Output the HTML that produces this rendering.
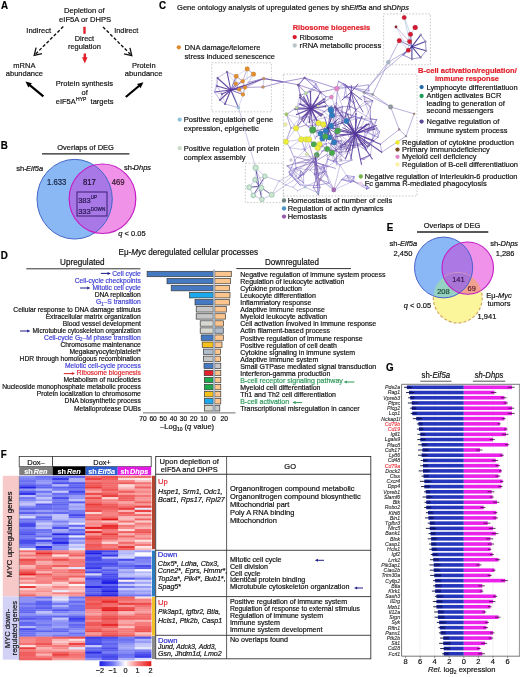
<!DOCTYPE html>
<html><head><meta charset="utf-8"><title>Figure</title>
<style>
html,body{margin:0;padding:0;background:#fff;}
body{width:520px;height:677px;overflow:hidden;}
svg{display:block;font-family:"Liberation Sans", Arial, Helvetica, sans-serif;}
text{stroke-width:0.18px;}
</style></head>
<body>
<svg width="520" height="677" viewBox="0 0 520 677">
<rect width="520" height="677" fill="#fff"/>
<g fill="#111010">
<text x="1.00" y="9.00" font-size="9.8" fill="#000" font-weight="bold" stroke="#000" transform="matrix(1,0,0,1.06,0,-0.540)">A</text>
<text x="84.30" y="13.20" font-size="7.5" text-anchor="middle" textLength="40.60" lengthAdjust="spacingAndGlyphs" stroke="#111010" transform="matrix(1,0,0,1.06,0,-0.792)">Depletion of</text>
<text x="85.10" y="21.60" font-size="7.5" text-anchor="middle" textLength="52.00" lengthAdjust="spacingAndGlyphs" stroke="#111010" transform="matrix(1,0,0,1.06,0,-1.296)">eIF5A or DHPS</text>
<text x="26.30" y="33.30" font-size="7.5" textLength="24.70" lengthAdjust="spacingAndGlyphs" stroke="#111010" transform="matrix(1,0,0,1.06,0,-1.998)">Indirect</text>
<text x="114.20" y="33.30" font-size="7.5" textLength="24.10" lengthAdjust="spacingAndGlyphs" stroke="#111010" transform="matrix(1,0,0,1.06,0,-1.998)">Indirect</text>
<rect x="83.30" y="26.80" width="2.40" height="7.00" fill="#e3212b" />
<text x="84.40" y="41.40" font-size="7.5" text-anchor="middle" textLength="19.20" lengthAdjust="spacingAndGlyphs" stroke="#111010" transform="matrix(1,0,0,1.06,0,-2.484)">Direct</text>
<text x="84.40" y="49.40" font-size="7.5" text-anchor="middle" stroke="#111010" transform="matrix(1,0,0,1.06,0,-2.964)">regulation</text>
<polygon points="83.6,53.6 86.0,53.6 86.0,57.2 87.6,57.2 84.8,63.6 82.0,57.2 83.6,57.2" fill="#e3212b"/>
<text x="24.40" y="67.80" font-size="7.5" text-anchor="middle" stroke="#111010" transform="matrix(1,0,0,1.06,0,-4.068)">mRNA</text>
<text x="24.40" y="75.60" font-size="7.5" text-anchor="middle" textLength="37.20" lengthAdjust="spacingAndGlyphs" stroke="#111010" transform="matrix(1,0,0,1.06,0,-4.536)">abundance</text>
<text x="143.80" y="68.30" font-size="7.5" text-anchor="middle" stroke="#111010" transform="matrix(1,0,0,1.06,0,-4.098)">Protein</text>
<text x="143.60" y="75.80" font-size="7.5" text-anchor="middle" textLength="37.50" lengthAdjust="spacingAndGlyphs" stroke="#111010" transform="matrix(1,0,0,1.06,0,-4.548)">abundance</text>
<text x="84.40" y="86.40" font-size="7.5" text-anchor="middle" textLength="57.20" lengthAdjust="spacingAndGlyphs" stroke="#111010" transform="matrix(1,0,0,1.06,0,-5.184)">Protein synthesis</text>
<text x="84.60" y="95.10" font-size="7.5" text-anchor="middle" stroke="#111010" transform="matrix(1,0,0,1.06,0,-5.706)">of</text>
<text x="55.8" y="104.3" font-size="7.5" stroke="#111010" transform="matrix(1,0,0,1.06,0,-6.258)">eIF5A<tspan font-size="5.0" dy="-3" dx="0.3">HYP</tspan><tspan dy="3" dx="2.2"> targets</tspan></text>
<line x1="63.30" y1="26.60" x2="35.36" y2="54.25" stroke="#111" stroke-width="1.4" stroke-dasharray="3.2,1.9"/>
<polyline points="36.08,47.63 34.20,55.40 41.99,53.60" fill="none" stroke="#111" stroke-width="1.3"/>
<line x1="103.00" y1="27.00" x2="130.65" y2="54.46" stroke="#111" stroke-width="1.4" stroke-dasharray="3.2,1.9"/>
<polyline points="124.02,53.79 131.80,55.60 129.93,47.83" fill="none" stroke="#111" stroke-width="1.3"/>
<line x1="43.40" y1="96.30" x2="29.75" y2="85.09" stroke="#000" stroke-width="2.2" />
<polygon points="25.50,81.60 31.91,83.24 28.36,87.57" fill="#000"/>
<line x1="125.80" y1="97.00" x2="139.19" y2="85.74" stroke="#000" stroke-width="2.2" />
<polygon points="143.40,82.20 140.61,88.20 137.01,83.92" fill="#000"/>
<text x="0.80" y="149.50" font-size="9.8" fill="#000" font-weight="bold" stroke="#000" transform="matrix(1,0,0,1.06,0,-8.970)">B</text>
<text x="85.60" y="150.40" font-size="7.5" text-anchor="middle" textLength="56.70" lengthAdjust="spacingAndGlyphs" stroke="#111010" transform="matrix(1,0,0,1.06,0,-9.024)">Overlaps of DEG</text>
<line x1="42.00" y1="153.80" x2="129.40" y2="153.80" stroke="#222" stroke-width="1.3" />
<defs><clipPath id="cbB"><ellipse cx="74.65" cy="199.20" rx="37.65" ry="39.85" fill="none" /></clipPath></defs>
<ellipse cx="74.65" cy="199.20" rx="37.65" ry="39.85" fill="#89b8f5" />
<ellipse cx="102.50" cy="198.75" rx="33.30" ry="34.75" fill="#f092e8" />
<ellipse cx="102.50" cy="198.75" rx="33.30" ry="34.75" fill="#a878e6" clip-path="url(#cbB)"/>
<ellipse cx="74.65" cy="199.20" rx="37.65" ry="39.85" fill="none" stroke="#4466c8" stroke-width="1.0" />
<ellipse cx="102.50" cy="198.75" rx="33.30" ry="34.75" fill="none" stroke="#c41ec4" stroke-width="1.2" />
<text x="16.30" y="170.80" font-size="7.5" stroke="#111010" transform="matrix(1,0,0,1.06,0,-10.248)">sh-</text>
<text x="26.00" y="170.80" font-size="7.5" font-style="italic" stroke="#111010" transform="matrix(1,0,0,1.06,0,-10.248)">Eif5a</text>
<text x="56.70" y="185.20" font-size="7.7" text-anchor="middle" fill="#15203e" stroke="#15203e" transform="matrix(1,0,0,1.06,0,-11.112)">1.633</text>
<text x="89.40" y="185.20" font-size="7.7" text-anchor="middle" fill="#1c0f30" stroke="#1c0f30" transform="matrix(1,0,0,1.06,0,-11.112)">817</text>
<text x="118.20" y="185.20" font-size="7.7" text-anchor="middle" fill="#2e1228" stroke="#2e1228" transform="matrix(1,0,0,1.06,0,-11.112)">469</text>
<text x="124.00" y="169.80" font-size="7.5" stroke="#111010" transform="matrix(1,0,0,1.06,0,-10.188)">sh-</text>
<text x="133.60" y="169.80" font-size="7.5" font-style="italic" stroke="#111010" transform="matrix(1,0,0,1.06,0,-10.188)">Dhps</text>
<rect x="77.00" y="192.00" width="30.00" height="24.00" fill="none" stroke="#43277a" stroke-width="1.1" />
<text x="78.2" y="202.6" font-size="7.5" fill="#24144e" stroke="#24144e" transform="matrix(1,0,0,1.06,0,-12.156)">383<tspan font-size="4.6" dy="-3">UP</tspan></text>
<text x="78.2" y="213.8" font-size="7.5" fill="#24144e" stroke="#24144e" transform="matrix(1,0,0,1.06,0,-12.828)">333<tspan font-size="4.6" dy="-3">DOWN</tspan></text>
<text x="118.3" y="235.6" font-size="7.5" stroke="#111010" transform="matrix(1,0,0,1.06,0,-14.136)"><tspan font-style="italic">q</tspan> &lt; 0.05</text>
<text x="386.80" y="230.60" font-size="9.8" fill="#000" font-weight="bold" stroke="#000" transform="matrix(1,0,0,1.06,0,-13.836)">E</text>
<text x="452.00" y="228.00" font-size="7.5" text-anchor="middle" textLength="56.40" lengthAdjust="spacingAndGlyphs" stroke="#111010" transform="matrix(1,0,0,1.06,0,-13.680)">Overlaps of DEG</text>
<line x1="417.00" y1="232.00" x2="488.30" y2="232.00" stroke="#222" stroke-width="1.3" />
<defs><clipPath id="ceB"><ellipse cx="443.60" cy="267.50" rx="29.10" ry="30.40" fill="none" /></clipPath><clipPath id="ceP"><ellipse cx="467.75" cy="268.10" rx="25.75" ry="26.10" fill="none" /></clipPath><clipPath id="ceY"><ellipse cx="457.75" cy="297.65" rx="24.45" ry="25.25" fill="none" /></clipPath></defs>
<ellipse cx="457.75" cy="297.65" rx="24.45" ry="25.25" fill="#fbf59c" />
<ellipse cx="443.60" cy="267.50" rx="29.10" ry="30.40" fill="#8ab8f6" />
<ellipse cx="467.75" cy="268.10" rx="25.75" ry="26.10" fill="#f092ea" />
<ellipse cx="467.75" cy="268.10" rx="25.75" ry="26.10" fill="#ab78e4" clip-path="url(#ceB)"/>
<g clip-path="url(#ceY)"><ellipse cx="443.60" cy="267.50" rx="29.10" ry="30.40" fill="#95d2c4" /><ellipse cx="467.75" cy="268.10" rx="25.75" ry="26.10" fill="#f2a090" /><g clip-path="url(#ceB)"><ellipse cx="467.75" cy="268.10" rx="25.75" ry="26.10" fill="#a874d6" /></g></g>
<defs><mask id="mY"><rect x="380" y="220" width="140" height="110" fill="#fff"/><ellipse cx="443.60" cy="267.50" rx="29.10" ry="30.40" fill="#000" /><ellipse cx="467.75" cy="268.10" rx="25.75" ry="26.10" fill="#000" /></mask></defs>
<ellipse cx="457.75" cy="297.65" rx="24.45" ry="25.25" fill="none" stroke="#d3a860" stroke-width="1.2" stroke-dasharray="3,2" mask="url(#mY)"/>
<ellipse cx="457.75" cy="297.65" rx="24.45" ry="25.25" fill="none" stroke="#e8a0c8" stroke-width="1.0" stroke-opacity="0.45" clip-path="url(#ceP)"/>
<ellipse cx="443.60" cy="267.50" rx="29.10" ry="30.40" fill="none" stroke="#4a62cc" stroke-width="1.0" />
<ellipse cx="467.75" cy="268.10" rx="25.75" ry="26.10" fill="none" stroke="#c21fc4" stroke-width="1.1" />
<text x="389.6" y="246.3" font-size="7.5" stroke="#111010" transform="matrix(1,0,0,1.06,0,-14.778)">sh-<tspan font-style="italic">Eif5a</tspan></text>
<text x="403.00" y="255.80" font-size="7.5" text-anchor="middle" stroke="#111010" transform="matrix(1,0,0,1.06,0,-15.348)">2,450</text>
<text x="490.2" y="246.3" font-size="7.5" stroke="#111010" transform="matrix(1,0,0,1.06,0,-14.778)">sh-<tspan font-style="italic">Dhps</tspan></text>
<text x="505.10" y="255.60" font-size="7.5" text-anchor="middle" stroke="#111010" transform="matrix(1,0,0,1.06,0,-15.336)">1,286</text>
<text x="458.40" y="282.40" font-size="7.5" text-anchor="middle" fill="#3a1450" stroke="#3a1450" transform="matrix(1,0,0,1.06,0,-16.944)">141</text>
<text x="443.40" y="294.30" font-size="7.5" text-anchor="middle" fill="#1d4a2c" stroke="#1d4a2c" transform="matrix(1,0,0,1.06,0,-17.658)">208</text>
<text x="471.70" y="291.30" font-size="7.5" text-anchor="middle" fill="#5a1a2a" stroke="#5a1a2a" transform="matrix(1,0,0,1.06,0,-17.478)">69</text>
<text x="403.8" y="308.0" font-size="7.5" stroke="#111010" transform="matrix(1,0,0,1.06,0,-18.480)"><tspan font-style="italic">q</tspan> &lt; 0.05</text>
<text x="486.2" y="297.6" font-size="7.5" stroke="#111010" transform="matrix(1,0,0,1.06,0,-17.856)">E&#956;-<tspan font-style="italic">Myc</tspan></text>
<text x="487.50" y="306.20" font-size="7.5" stroke="#111010" transform="matrix(1,0,0,1.06,0,-18.372)">tumors</text>
<text x="487.00" y="318.70" font-size="7.5" text-anchor="middle" stroke="#111010" transform="matrix(1,0,0,1.06,0,-19.122)">1,941</text>
<text x="0.80" y="259.40" font-size="9.8" fill="#000" font-weight="bold" stroke="#000" transform="matrix(1,0,0,1.06,0,-15.564)">D</text>
<text x="118.5" y="255.2" font-size="8.1" stroke="#111010" transform="matrix(1,0,0,1.06,0,-15.312)">E&#956;-<tspan font-style="italic">Myc</tspan> deregulated cellular processes</text>
<text x="82.30" y="265.00" font-size="8.1" text-anchor="middle" textLength="44.50" lengthAdjust="spacingAndGlyphs" stroke="#111010" transform="matrix(1,0,0,1.06,0,-15.900)">Upregulated</text>
<line x1="26.30" y1="268.80" x2="140.40" y2="268.80" stroke="#333" stroke-width="1.0" />
<text x="291.90" y="265.20" font-size="8.1" text-anchor="middle" textLength="54.00" lengthAdjust="spacingAndGlyphs" stroke="#111010" transform="matrix(1,0,0,1.06,0,-15.912)">Downregulated</text>
<line x1="236.30" y1="268.60" x2="351.00" y2="268.60" stroke="#333" stroke-width="1.0" />
<text x="140.8" y="276.20" font-size="6.7" text-anchor="end" fill="#4141d6" stroke="#4141d6" transform="matrix(1,0,0,1.06,0,-16.572)">Cell cycle</text>
<text x="140.8" y="283.27" font-size="6.7" text-anchor="end" fill="#4141d6" stroke="#4141d6" transform="matrix(1,0,0,1.06,0,-16.996)">Cell-cycle checkpoints</text>
<text x="140.8" y="290.34" font-size="6.7" text-anchor="end" fill="#4141d6" stroke="#4141d6" transform="matrix(1,0,0,1.06,0,-17.420)">Mitotic cell cycle</text>
<text x="140.8" y="297.41" font-size="6.7" text-anchor="end" fill="#111010" stroke="#111010" transform="matrix(1,0,0,1.06,0,-17.845)">DNA replication</text>
<text x="140.8" y="304.48" font-size="6.7" text-anchor="end" fill="#4141d6" stroke="#4141d6" transform="matrix(1,0,0,1.06,0,-18.269)">G<tspan font-size="4.2" dy="1.5">1</tspan><tspan dy="-1.5">–S transition</tspan></text>
<text x="140.8" y="311.55" font-size="6.7" text-anchor="end" fill="#111010" stroke="#111010" transform="matrix(1,0,0,1.06,0,-18.693)">Cellular response to DNA damage stimulus</text>
<text x="140.8" y="318.62" font-size="6.7" text-anchor="end" fill="#111010" stroke="#111010" transform="matrix(1,0,0,1.06,0,-19.117)">Extracellular matrix organization</text>
<text x="140.8" y="325.69" font-size="6.7" text-anchor="end" fill="#111010" stroke="#111010" transform="matrix(1,0,0,1.06,0,-19.541)">Blood vessel development</text>
<text x="140.8" y="332.76" font-size="6.7" text-anchor="end" fill="#111010" textLength="108.2" lengthAdjust="spacingAndGlyphs" stroke="#111010" transform="matrix(1,0,0,1.06,0,-19.966)">Microtubule cytoskeleton organization</text>
<text x="140.8" y="339.83" font-size="6.7" text-anchor="end" fill="#4141d6" stroke="#4141d6" transform="matrix(1,0,0,1.06,0,-20.390)">Cell-cycle G<tspan font-size="4.2" dy="1.5">2</tspan><tspan dy="-1.5">–M phase transition</tspan></text>
<text x="140.8" y="346.90" font-size="6.7" text-anchor="end" fill="#111010" stroke="#111010" transform="matrix(1,0,0,1.06,0,-20.814)">Chromosome maintenance</text>
<text x="140.8" y="353.97" font-size="6.7" text-anchor="end" fill="#111010" stroke="#111010" transform="matrix(1,0,0,1.06,0,-21.238)">Megakaryocyte/platelet*</text>
<text x="140.8" y="361.04" font-size="6.7" text-anchor="end" fill="#111010" stroke="#111010" transform="matrix(1,0,0,1.06,0,-21.662)">HDR through homologous recombination</text>
<text x="140.8" y="368.11" font-size="6.7" text-anchor="end" fill="#4141d6" stroke="#4141d6" transform="matrix(1,0,0,1.06,0,-22.087)">Meiotic cell-cycle process</text>
<text x="140.8" y="375.18" font-size="6.7" text-anchor="end" fill="#e0262e" stroke="#e0262e" transform="matrix(1,0,0,1.06,0,-22.511)">Ribosome biogenesis</text>
<text x="140.8" y="382.25" font-size="6.7" text-anchor="end" fill="#111010" stroke="#111010" transform="matrix(1,0,0,1.06,0,-22.935)">Metabolism of nucleotides</text>
<text x="140.8" y="389.32" font-size="6.7" text-anchor="end" fill="#111010" stroke="#111010" transform="matrix(1,0,0,1.06,0,-23.359)">Nucleoside monophosphate metabolic process</text>
<text x="140.8" y="396.39" font-size="6.7" text-anchor="end" fill="#111010" stroke="#111010" transform="matrix(1,0,0,1.06,0,-23.783)">Protein localization to chromosome</text>
<text x="140.8" y="403.46" font-size="6.7" text-anchor="end" fill="#111010" stroke="#111010" transform="matrix(1,0,0,1.06,0,-24.208)">DNA biosynthetic process</text>
<text x="140.8" y="410.53" font-size="6.7" text-anchor="end" fill="#111010" stroke="#111010" transform="matrix(1,0,0,1.06,0,-24.632)">Metalloprotease DUBs</text>
<text x="240.20" y="276.90" font-size="7.0" stroke="#111010" transform="matrix(1,0,0,1.06,0,-16.614)">Negative regulation of immune system process</text>
<text x="240.20" y="283.97" font-size="7.0" stroke="#111010" transform="matrix(1,0,0,1.06,0,-17.038)">Regulation of leukocyte activation</text>
<text x="240.20" y="291.04" font-size="7.0" stroke="#111010" transform="matrix(1,0,0,1.06,0,-17.462)">Cytokine production</text>
<text x="240.20" y="298.11" font-size="7.0" stroke="#111010" transform="matrix(1,0,0,1.06,0,-17.887)">Leukocyte differentiation</text>
<text x="240.20" y="305.18" font-size="7.0" stroke="#111010" transform="matrix(1,0,0,1.06,0,-18.311)">Inflammatory response</text>
<text x="240.20" y="312.25" font-size="7.0" stroke="#111010" transform="matrix(1,0,0,1.06,0,-18.735)">Adaptive immune response</text>
<text x="240.20" y="319.32" font-size="7.0" stroke="#111010" transform="matrix(1,0,0,1.06,0,-19.159)">Myeloid leukocyte activation</text>
<text x="240.20" y="326.39" font-size="7.0" stroke="#111010" transform="matrix(1,0,0,1.06,0,-19.583)">Cell activation involved in immune response</text>
<text x="240.20" y="333.46" font-size="7.0" stroke="#111010" transform="matrix(1,0,0,1.06,0,-20.008)">Actin filament-based process</text>
<text x="240.20" y="340.53" font-size="7.0" stroke="#111010" transform="matrix(1,0,0,1.06,0,-20.432)">Positive regulation of immune response</text>
<text x="240.20" y="347.60" font-size="7.0" stroke="#111010" transform="matrix(1,0,0,1.06,0,-20.856)">Positive regulation of cell death</text>
<text x="240.20" y="354.67" font-size="7.0" stroke="#111010" transform="matrix(1,0,0,1.06,0,-21.280)">Cytokine signaling in immune system</text>
<text x="240.20" y="361.74" font-size="7.0" stroke="#111010" transform="matrix(1,0,0,1.06,0,-21.704)">Adaptive immune system</text>
<text x="240.20" y="368.81" font-size="7.0" stroke="#111010" transform="matrix(1,0,0,1.06,0,-22.129)">Small GTPase mediated signal transduction</text>
<text x="240.20" y="375.88" font-size="7.0" stroke="#111010" transform="matrix(1,0,0,1.06,0,-22.553)">Interferon-gamma production</text>
<text x="240.20" y="382.95" font-size="7.0" fill="#2e9a5a" stroke="#2e9a5a" transform="matrix(1,0,0,1.06,0,-22.977)">B-cell receptor signaling pathway</text>
<text x="240.20" y="390.02" font-size="7.0" stroke="#111010" transform="matrix(1,0,0,1.06,0,-23.401)">Myeloid cell differentiation</text>
<text x="240.20" y="397.09" font-size="7.0" stroke="#111010" transform="matrix(1,0,0,1.06,0,-23.825)">Th1 and Th2 cell differentiation</text>
<text x="240.20" y="404.16" font-size="7.0" fill="#2e9a5a" stroke="#2e9a5a" transform="matrix(1,0,0,1.06,0,-24.250)">B-cell activation</text>
<text x="240.20" y="411.23" font-size="7.0" stroke="#111010" transform="matrix(1,0,0,1.06,0,-24.674)">Transcriptional misregulation in cancer</text>
<line x1="100.80" y1="273.40" x2="108.10" y2="273.40" stroke="#1e1e8a" stroke-width="1.0" />
<polygon points="110.80,273.40 107.60,274.90 107.60,271.90" fill="#1e1e8a"/>
<line x1="80.00" y1="288.00" x2="87.70" y2="288.00" stroke="#1e1e8a" stroke-width="1.0" />
<polygon points="90.40,288.00 87.20,289.50 87.20,286.50" fill="#1e1e8a"/>
<line x1="20.10" y1="331.00" x2="27.70" y2="331.00" stroke="#1e1e8a" stroke-width="1.0" />
<polygon points="30.40,331.00 27.20,332.50 27.20,329.50" fill="#1e1e8a"/>
<line x1="63.80" y1="373.60" x2="72.30" y2="373.60" stroke="#d8242a" stroke-width="1.0" />
<polygon points="75.00,373.60 71.80,375.10 71.80,372.10" fill="#d8242a"/>
<line x1="354.40" y1="382.00" x2="346.30" y2="382.00" stroke="#2e9a5a" stroke-width="1.0" />
<polygon points="343.60,382.00 346.80,380.50 346.80,383.50" fill="#2e9a5a"/>
<line x1="302.00" y1="402.60" x2="295.10" y2="402.60" stroke="#2e9a5a" stroke-width="1.0" />
<polygon points="292.40,402.60 295.60,401.10 295.60,404.10" fill="#2e9a5a"/>
<rect x="147.10" y="271.30" width="66.10" height="5.40" fill="#457ac2" stroke="#3a3a3a" stroke-width="0.7" />
<rect x="214.80" y="271.30" width="16.50" height="5.40" fill="#fcc58e" stroke="#3a3a3a" stroke-width="0.7" />
<rect x="167.00" y="278.37" width="46.20" height="5.40" fill="#457ac2" stroke="#3a3a3a" stroke-width="0.7" />
<rect x="214.80" y="278.37" width="15.60" height="5.40" fill="#fcc58e" stroke="#3a3a3a" stroke-width="0.7" />
<rect x="171.20" y="285.44" width="42.00" height="5.40" fill="#457ac2" stroke="#3a3a3a" stroke-width="0.7" />
<rect x="214.80" y="285.44" width="14.80" height="5.40" fill="#fcc58e" stroke="#3a3a3a" stroke-width="0.7" />
<rect x="189.60" y="292.51" width="23.60" height="5.40" fill="#1ca8ec" stroke="#3a3a3a" stroke-width="0.7" />
<rect x="214.80" y="292.51" width="15.20" height="5.40" fill="#fcc58e" stroke="#3a3a3a" stroke-width="0.7" />
<rect x="195.00" y="299.58" width="18.20" height="5.40" fill="#457ac2" stroke="#3a3a3a" stroke-width="0.7" />
<rect x="214.80" y="299.58" width="14.60" height="5.40" fill="#fcc58e" stroke="#3a3a3a" stroke-width="0.7" />
<rect x="196.20" y="306.65" width="17.00" height="5.40" fill="#c6c6c6" stroke="#3a3a3a" stroke-width="0.7" />
<rect x="214.80" y="306.65" width="11.50" height="5.40" fill="#fcc58e" stroke="#3a3a3a" stroke-width="0.7" />
<rect x="196.20" y="313.72" width="17.00" height="5.40" fill="#c6c6c6" stroke="#3a3a3a" stroke-width="0.7" />
<rect x="214.80" y="313.72" width="10.70" height="5.40" fill="#fcc58e" stroke="#3a3a3a" stroke-width="0.7" />
<rect x="200.20" y="320.79" width="13.00" height="5.40" fill="#d6d8d0" stroke="#3a3a3a" stroke-width="0.7" />
<rect x="214.80" y="320.79" width="8.80" height="5.40" fill="#fcc58e" stroke="#3a3a3a" stroke-width="0.7" />
<rect x="200.20" y="327.86" width="13.00" height="5.40" fill="#d6d8d0" stroke="#3a3a3a" stroke-width="0.7" />
<rect x="214.80" y="327.86" width="8.50" height="5.40" fill="#b0bccb" stroke="#3a3a3a" stroke-width="0.7" />
<rect x="201.20" y="334.93" width="12.00" height="5.40" fill="#457ac2" stroke="#3a3a3a" stroke-width="0.7" />
<rect x="214.80" y="334.93" width="8.50" height="5.40" fill="#fcc58e" stroke="#3a3a3a" stroke-width="0.7" />
<rect x="202.20" y="342.00" width="11.00" height="5.40" fill="#f6c21a" stroke="#3a3a3a" stroke-width="0.7" />
<rect x="214.80" y="342.00" width="7.20" height="5.40" fill="#fcc58e" stroke="#3a3a3a" stroke-width="0.7" />
<rect x="203.40" y="349.07" width="9.80" height="5.40" fill="#b0bccb" stroke="#3a3a3a" stroke-width="0.7" />
<rect x="214.80" y="349.07" width="5.80" height="5.40" fill="#fcc58e" stroke="#3a3a3a" stroke-width="0.7" />
<rect x="203.40" y="356.14" width="9.80" height="5.40" fill="#c6c6c6" stroke="#3a3a3a" stroke-width="0.7" />
<rect x="214.80" y="356.14" width="5.80" height="5.40" fill="#fcc58e" stroke="#3a3a3a" stroke-width="0.7" />
<rect x="204.00" y="363.21" width="9.20" height="5.40" fill="#457ac2" stroke="#3a3a3a" stroke-width="0.7" />
<rect x="214.80" y="363.21" width="6.00" height="5.40" fill="#c6c6c6" stroke="#3a3a3a" stroke-width="0.7" />
<rect x="204.20" y="370.28" width="9.00" height="5.40" fill="#e5202a" stroke="#3a3a3a" stroke-width="0.7" />
<rect x="214.80" y="370.28" width="6.00" height="5.40" fill="#fcc58e" stroke="#3a3a3a" stroke-width="0.7" />
<rect x="204.40" y="377.35" width="8.80" height="5.40" fill="#1ea84c" stroke="#3a3a3a" stroke-width="0.7" />
<rect x="214.80" y="377.35" width="6.00" height="5.40" fill="#fcc58e" stroke="#3a3a3a" stroke-width="0.7" />
<rect x="204.40" y="384.42" width="8.80" height="5.40" fill="#1ea84c" stroke="#3a3a3a" stroke-width="0.7" />
<rect x="214.80" y="384.42" width="6.00" height="5.40" fill="#fcc58e" stroke="#3a3a3a" stroke-width="0.7" />
<rect x="204.40" y="391.49" width="8.80" height="5.40" fill="#f6c21a" stroke="#3a3a3a" stroke-width="0.7" />
<rect x="214.80" y="391.49" width="6.00" height="5.40" fill="#fcc58e" stroke="#3a3a3a" stroke-width="0.7" />
<rect x="204.40" y="398.56" width="8.80" height="5.40" fill="#1ca8ec" stroke="#3a3a3a" stroke-width="0.7" />
<rect x="214.80" y="398.56" width="6.00" height="5.40" fill="#fcc58e" stroke="#3a3a3a" stroke-width="0.7" />
<rect x="204.40" y="405.63" width="8.80" height="5.40" fill="#d6d8d0" stroke="#3a3a3a" stroke-width="0.7" />
<rect x="214.80" y="405.63" width="5.00" height="5.40" fill="#c6c6c6" stroke="#3a3a3a" stroke-width="0.7" />
<line x1="214.00" y1="269.60" x2="214.00" y2="412.00" stroke="#9fb0c6" stroke-width="1.6" />
<line x1="143.00" y1="412.90" x2="235.50" y2="412.90" stroke="#8a8a8a" stroke-width="1.4" />
<text x="143.00" y="421.10" font-size="6.7" text-anchor="middle" stroke="#111010" transform="matrix(1,0,0,1.06,0,-25.266)">70</text>
<text x="153.14" y="421.10" font-size="6.7" text-anchor="middle" stroke="#111010" transform="matrix(1,0,0,1.06,0,-25.266)">60</text>
<text x="163.28" y="421.10" font-size="6.7" text-anchor="middle" stroke="#111010" transform="matrix(1,0,0,1.06,0,-25.266)">50</text>
<text x="173.43" y="421.10" font-size="6.7" text-anchor="middle" stroke="#111010" transform="matrix(1,0,0,1.06,0,-25.266)">40</text>
<text x="183.57" y="421.10" font-size="6.7" text-anchor="middle" stroke="#111010" transform="matrix(1,0,0,1.06,0,-25.266)">30</text>
<text x="193.71" y="421.10" font-size="6.7" text-anchor="middle" stroke="#111010" transform="matrix(1,0,0,1.06,0,-25.266)">20</text>
<text x="203.86" y="421.10" font-size="6.7" text-anchor="middle" stroke="#111010" transform="matrix(1,0,0,1.06,0,-25.266)">10</text>
<text x="214.00" y="421.10" font-size="6.7" text-anchor="middle" stroke="#111010" transform="matrix(1,0,0,1.06,0,-25.266)">0</text>
<text x="224.20" y="421.10" font-size="6.7" text-anchor="middle" stroke="#111010" transform="matrix(1,0,0,1.06,0,-25.266)">20</text>
<text x="160.0" y="429.2" font-size="7.6" stroke="#111010" transform="matrix(1,0,0,1.06,0,-25.752)">–Log<tspan font-size="5.0" dy="1.8">10</tspan><tspan dy="-1.8"> (</tspan><tspan font-style="italic">q</tspan> value)</text>
<g stroke-linecap="round"><line x1="230.8" y1="90.0" x2="217.0" y2="86.0" stroke="#55369a" stroke-width="1.1" stroke-opacity="0.9"/><line x1="230.8" y1="90.0" x2="217.5" y2="78.0" stroke="#55369a" stroke-width="1.1" stroke-opacity="0.9"/><line x1="230.8" y1="90.0" x2="220.0" y2="100.0" stroke="#55369a" stroke-width="1.1" stroke-opacity="0.9"/><line x1="230.8" y1="90.0" x2="227.0" y2="72.0" stroke="#55369a" stroke-width="1.1" stroke-opacity="0.9"/><line x1="230.8" y1="90.0" x2="225.0" y2="104.0" stroke="#55369a" stroke-width="1.1" stroke-opacity="0.9"/><line x1="230.8" y1="90.0" x2="222.0" y2="94.0" stroke="#55369a" stroke-width="1.1" stroke-opacity="0.9"/><line x1="230.8" y1="90.0" x2="238.5" y2="107.7" stroke="#55369a" stroke-width="1.1" stroke-opacity="0.9"/><line x1="230.8" y1="90.0" x2="214.5" y2="92.0" stroke="#55369a" stroke-width="1.1" stroke-opacity="0.9"/><line x1="230.8" y1="90.0" x2="236.2" y2="76.2" stroke="#55369a" stroke-width="0.9" stroke-opacity="0.8"/><line x1="230.8" y1="90.0" x2="242.6" y2="81.2" stroke="#55369a" stroke-width="0.9" stroke-opacity="0.8"/><line x1="230.8" y1="90.0" x2="235.8" y2="83.8" stroke="#55369a" stroke-width="0.9" stroke-opacity="0.8"/><line x1="230.8" y1="90.0" x2="245.0" y2="87.4" stroke="#55369a" stroke-width="0.9" stroke-opacity="0.8"/><line x1="230.8" y1="90.0" x2="239.2" y2="89.5" stroke="#55369a" stroke-width="0.9" stroke-opacity="0.8"/><line x1="230.8" y1="90.0" x2="243.0" y2="94.6" stroke="#55369a" stroke-width="0.9" stroke-opacity="0.8"/><line x1="217.0" y1="86.0" x2="214.5" y2="92.0" stroke="#a99bd8" stroke-width="0.5" stroke-opacity="0.8"/><line x1="217.0" y1="86.0" x2="217.5" y2="78.0" stroke="#a99bd8" stroke-width="0.5" stroke-opacity="0.8"/><line x1="217.0" y1="86.0" x2="222.0" y2="94.0" stroke="#a99bd8" stroke-width="0.5" stroke-opacity="0.8"/><line x1="217.5" y1="78.0" x2="217.0" y2="86.0" stroke="#a99bd8" stroke-width="0.5" stroke-opacity="0.8"/><line x1="217.5" y1="78.0" x2="227.0" y2="72.0" stroke="#a99bd8" stroke-width="0.5" stroke-opacity="0.8"/><line x1="217.5" y1="78.0" x2="214.5" y2="92.0" stroke="#a99bd8" stroke-width="0.5" stroke-opacity="0.8"/><line x1="220.0" y1="100.0" x2="222.0" y2="94.0" stroke="#a99bd8" stroke-width="0.5" stroke-opacity="0.8"/><line x1="220.0" y1="100.0" x2="225.0" y2="104.0" stroke="#a99bd8" stroke-width="0.5" stroke-opacity="0.8"/><line x1="220.0" y1="100.0" x2="214.5" y2="92.0" stroke="#a99bd8" stroke-width="0.5" stroke-opacity="0.8"/><line x1="227.0" y1="72.0" x2="236.2" y2="76.2" stroke="#a99bd8" stroke-width="0.5" stroke-opacity="0.8"/><line x1="227.0" y1="72.0" x2="217.5" y2="78.0" stroke="#a99bd8" stroke-width="0.5" stroke-opacity="0.8"/><line x1="227.0" y1="72.0" x2="235.8" y2="83.8" stroke="#a99bd8" stroke-width="0.5" stroke-opacity="0.8"/><line x1="225.0" y1="104.0" x2="220.0" y2="100.0" stroke="#a99bd8" stroke-width="0.5" stroke-opacity="0.8"/><line x1="225.0" y1="104.0" x2="222.0" y2="94.0" stroke="#a99bd8" stroke-width="0.5" stroke-opacity="0.8"/><line x1="225.0" y1="104.0" x2="238.5" y2="107.7" stroke="#a99bd8" stroke-width="0.5" stroke-opacity="0.8"/><line x1="222.0" y1="94.0" x2="220.0" y2="100.0" stroke="#a99bd8" stroke-width="0.5" stroke-opacity="0.8"/><line x1="222.0" y1="94.0" x2="214.5" y2="92.0" stroke="#a99bd8" stroke-width="0.5" stroke-opacity="0.8"/><line x1="222.0" y1="94.0" x2="217.0" y2="86.0" stroke="#a99bd8" stroke-width="0.5" stroke-opacity="0.8"/><line x1="238.5" y1="107.7" x2="243.0" y2="94.6" stroke="#a99bd8" stroke-width="0.5" stroke-opacity="0.8"/><line x1="238.5" y1="107.7" x2="225.0" y2="104.0" stroke="#a99bd8" stroke-width="0.5" stroke-opacity="0.8"/><line x1="214.5" y1="92.0" x2="217.0" y2="86.0" stroke="#a99bd8" stroke-width="0.5" stroke-opacity="0.8"/><line x1="214.5" y1="92.0" x2="222.0" y2="94.0" stroke="#a99bd8" stroke-width="0.5" stroke-opacity="0.8"/><line x1="214.5" y1="92.0" x2="220.0" y2="100.0" stroke="#a99bd8" stroke-width="0.5" stroke-opacity="0.8"/><line x1="247.2" y1="68.9" x2="253.5" y2="74.2" stroke="#a99bd8" stroke-width="0.5" stroke-opacity="0.8"/><line x1="247.2" y1="68.9" x2="242.6" y2="81.2" stroke="#a99bd8" stroke-width="0.5" stroke-opacity="0.8"/><line x1="247.2" y1="68.9" x2="236.2" y2="76.2" stroke="#a99bd8" stroke-width="0.5" stroke-opacity="0.8"/><line x1="253.5" y1="74.2" x2="247.2" y2="68.9" stroke="#a99bd8" stroke-width="0.5" stroke-opacity="0.8"/><line x1="253.5" y1="74.2" x2="242.6" y2="81.2" stroke="#a99bd8" stroke-width="0.5" stroke-opacity="0.8"/><line x1="253.5" y1="74.2" x2="245.0" y2="87.4" stroke="#a99bd8" stroke-width="0.5" stroke-opacity="0.8"/><line x1="236.2" y1="76.2" x2="235.8" y2="83.8" stroke="#a99bd8" stroke-width="0.5" stroke-opacity="0.8"/><line x1="236.2" y1="76.2" x2="242.6" y2="81.2" stroke="#a99bd8" stroke-width="0.5" stroke-opacity="0.8"/><line x1="236.2" y1="76.2" x2="227.0" y2="72.0" stroke="#a99bd8" stroke-width="0.5" stroke-opacity="0.8"/><line x1="242.6" y1="81.2" x2="245.0" y2="87.4" stroke="#a99bd8" stroke-width="0.5" stroke-opacity="0.8"/><line x1="242.6" y1="81.2" x2="235.8" y2="83.8" stroke="#a99bd8" stroke-width="0.5" stroke-opacity="0.8"/><line x1="242.6" y1="81.2" x2="236.2" y2="76.2" stroke="#a99bd8" stroke-width="0.5" stroke-opacity="0.8"/><line x1="235.8" y1="83.8" x2="239.2" y2="89.5" stroke="#a99bd8" stroke-width="0.5" stroke-opacity="0.8"/><line x1="235.8" y1="83.8" x2="242.6" y2="81.2" stroke="#a99bd8" stroke-width="0.5" stroke-opacity="0.8"/><line x1="235.8" y1="83.8" x2="236.2" y2="76.2" stroke="#a99bd8" stroke-width="0.5" stroke-opacity="0.8"/><line x1="245.0" y1="87.4" x2="239.2" y2="89.5" stroke="#a99bd8" stroke-width="0.5" stroke-opacity="0.8"/><line x1="245.0" y1="87.4" x2="242.6" y2="81.2" stroke="#a99bd8" stroke-width="0.5" stroke-opacity="0.8"/><line x1="245.0" y1="87.4" x2="243.0" y2="94.6" stroke="#a99bd8" stroke-width="0.5" stroke-opacity="0.8"/><line x1="239.2" y1="89.5" x2="245.0" y2="87.4" stroke="#a99bd8" stroke-width="0.5" stroke-opacity="0.8"/><line x1="239.2" y1="89.5" x2="243.0" y2="94.6" stroke="#a99bd8" stroke-width="0.5" stroke-opacity="0.8"/><line x1="239.2" y1="89.5" x2="235.8" y2="83.8" stroke="#a99bd8" stroke-width="0.5" stroke-opacity="0.8"/><line x1="243.0" y1="94.6" x2="239.2" y2="89.5" stroke="#a99bd8" stroke-width="0.5" stroke-opacity="0.8"/><line x1="243.0" y1="94.6" x2="245.0" y2="87.4" stroke="#a99bd8" stroke-width="0.5" stroke-opacity="0.8"/><line x1="243.0" y1="94.6" x2="235.8" y2="83.8" stroke="#a99bd8" stroke-width="0.5" stroke-opacity="0.8"/><line x1="247.2" y1="68.9" x2="253.5" y2="74.2" stroke="#b9a3cf" stroke-width="0.6" stroke-opacity="0.9"/><line x1="247.2" y1="68.9" x2="242.6" y2="81.2" stroke="#b9a3cf" stroke-width="0.6" stroke-opacity="0.9"/><line x1="253.5" y1="74.2" x2="242.6" y2="81.2" stroke="#b9a3cf" stroke-width="0.6" stroke-opacity="0.9"/><line x1="236.2" y1="76.2" x2="242.6" y2="81.2" stroke="#b9a3cf" stroke-width="0.6" stroke-opacity="0.9"/><line x1="242.6" y1="81.2" x2="245.0" y2="87.4" stroke="#b9a3cf" stroke-width="0.6" stroke-opacity="0.9"/><line x1="245.0" y1="87.4" x2="243.0" y2="94.6" stroke="#b9a3cf" stroke-width="0.6" stroke-opacity="0.9"/><line x1="239.2" y1="89.5" x2="243.0" y2="94.6" stroke="#b9a3cf" stroke-width="0.6" stroke-opacity="0.9"/><line x1="235.8" y1="83.8" x2="239.2" y2="89.5" stroke="#b9a3cf" stroke-width="0.6" stroke-opacity="0.9"/><line x1="230.8" y1="90.0" x2="245.0" y2="85.5" stroke="#55369a" stroke-width="1.4" stroke-opacity="0.9"/><line x1="245.0" y1="85.5" x2="263.8" y2="78.5" stroke="#55369a" stroke-width="1.2" stroke-opacity="0.85"/><line x1="263.8" y1="78.5" x2="283.3" y2="81.9" stroke="#6a50a8" stroke-width="1.1" stroke-opacity="0.85"/><line x1="245.0" y1="87.4" x2="263.8" y2="78.5" stroke="#7c62b8" stroke-width="0.7" stroke-opacity="0.9"/><line x1="245.0" y1="87.4" x2="263.0" y2="87.0" stroke="#7c62b8" stroke-width="0.7" stroke-opacity="0.9"/><line x1="263.8" y1="78.5" x2="263.0" y2="87.0" stroke="#a99bd8" stroke-width="0.6" stroke-opacity="0.9"/><line x1="247.2" y1="68.9" x2="247.2" y2="80.0" stroke="#9ccbe0" stroke-width="0.5" stroke-opacity="0.8"/><line x1="253.5" y1="74.2" x2="248.0" y2="84.0" stroke="#9ccbe0" stroke-width="0.5" stroke-opacity="0.8"/><line x1="238.5" y1="107.7" x2="233.0" y2="92.0" stroke="#9ccbe0" stroke-width="0.5" stroke-opacity="0.8"/><line x1="248.0" y1="82.5" x2="263.8" y2="78.5" stroke="#7c62b8" stroke-width="0.8" stroke-opacity="0.85"/><line x1="263.8" y1="78.5" x2="283.3" y2="81.9" stroke="#7c62b8" stroke-width="0.8" stroke-opacity="0.85"/><line x1="263.0" y1="87.0" x2="283.3" y2="81.9" stroke="#7c62b8" stroke-width="0.8" stroke-opacity="0.85"/><line x1="283.3" y1="81.9" x2="298.3" y2="84.8" stroke="#7c62b8" stroke-width="0.8" stroke-opacity="0.85"/><line x1="298.3" y1="84.8" x2="304.6" y2="77.9" stroke="#7c62b8" stroke-width="0.8" stroke-opacity="0.85"/><line x1="283.3" y1="81.9" x2="304.6" y2="77.9" stroke="#7c62b8" stroke-width="0.8" stroke-opacity="0.85"/><line x1="298.3" y1="84.8" x2="320.5" y2="92.3" stroke="#7c62b8" stroke-width="0.8" stroke-opacity="0.85"/><line x1="304.6" y1="77.9" x2="320.5" y2="92.3" stroke="#7c62b8" stroke-width="0.8" stroke-opacity="0.85"/><line x1="304.6" y1="77.9" x2="336.8" y2="88.4" stroke="#7c62b8" stroke-width="0.8" stroke-opacity="0.85"/><line x1="320.5" y1="92.3" x2="336.8" y2="88.4" stroke="#7c62b8" stroke-width="0.8" stroke-opacity="0.85"/><line x1="411.9" y1="46.7" x2="420.7" y2="34.8" stroke="#3e2f95" stroke-width="1.1" stroke-opacity="0.9"/><line x1="411.9" y1="46.7" x2="425.5" y2="41.6" stroke="#3e2f95" stroke-width="1.1" stroke-opacity="0.9"/><line x1="411.9" y1="46.7" x2="426.0" y2="50.8" stroke="#3e2f95" stroke-width="1.1" stroke-opacity="0.9"/><line x1="411.9" y1="46.7" x2="420.7" y2="57.5" stroke="#3e2f95" stroke-width="1.1" stroke-opacity="0.9"/><line x1="411.9" y1="46.7" x2="411.9" y2="59.0" stroke="#3e2f95" stroke-width="1.1" stroke-opacity="0.9"/><line x1="411.9" y1="46.7" x2="403.0" y2="55.0" stroke="#3e2f95" stroke-width="1.1" stroke-opacity="0.9"/><line x1="411.9" y1="46.7" x2="410.5" y2="34.3" stroke="#3e2f95" stroke-width="0.8" stroke-opacity="0.8"/><line x1="411.9" y1="46.7" x2="399.3" y2="40.7" stroke="#3e2f95" stroke-width="0.8" stroke-opacity="0.8"/><line x1="411.9" y1="46.7" x2="409.5" y2="41.6" stroke="#3e2f95" stroke-width="0.8" stroke-opacity="0.8"/><line x1="411.9" y1="46.7" x2="408.3" y2="50.2" stroke="#3e2f95" stroke-width="0.8" stroke-opacity="0.8"/><line x1="404.2" y1="17.5" x2="410.5" y2="34.3" stroke="#9fb6dc" stroke-width="0.6" stroke-opacity="0.9"/><line x1="415.2" y1="27.4" x2="410.5" y2="34.3" stroke="#9fb6dc" stroke-width="0.6" stroke-opacity="0.9"/><line x1="410.5" y1="34.3" x2="409.5" y2="41.6" stroke="#9fb6dc" stroke-width="0.6" stroke-opacity="0.9"/><line x1="399.3" y1="40.7" x2="409.5" y2="41.6" stroke="#9fb6dc" stroke-width="0.6" stroke-opacity="0.9"/><line x1="399.3" y1="40.7" x2="408.3" y2="50.2" stroke="#9fb6dc" stroke-width="0.6" stroke-opacity="0.9"/><line x1="409.5" y1="41.6" x2="408.3" y2="50.2" stroke="#9fb6dc" stroke-width="0.6" stroke-opacity="0.9"/><line x1="404.2" y1="17.5" x2="409.5" y2="41.6" stroke="#9fb6dc" stroke-width="0.6" stroke-opacity="0.9"/><line x1="396.0" y1="26.9" x2="409.5" y2="41.6" stroke="#8f86c8" stroke-width="0.6" stroke-opacity="0.9"/><line x1="396.0" y1="26.9" x2="408.3" y2="50.2" stroke="#c8b6e0" stroke-width="0.5" stroke-opacity="0.9"/><line x1="420.7" y1="34.8" x2="425.5" y2="41.6" stroke="#8d86c8" stroke-width="0.6" stroke-opacity="0.9"/><line x1="425.5" y1="41.6" x2="420.7" y2="34.8" stroke="#8d86c8" stroke-width="0.6" stroke-opacity="0.9"/><line x1="425.5" y1="41.6" x2="426.0" y2="50.8" stroke="#8d86c8" stroke-width="0.6" stroke-opacity="0.9"/><line x1="426.0" y1="50.8" x2="420.7" y2="57.5" stroke="#8d86c8" stroke-width="0.6" stroke-opacity="0.9"/><line x1="426.0" y1="50.8" x2="425.5" y2="41.6" stroke="#8d86c8" stroke-width="0.6" stroke-opacity="0.9"/><line x1="420.7" y1="57.5" x2="426.0" y2="50.8" stroke="#8d86c8" stroke-width="0.6" stroke-opacity="0.9"/><line x1="420.7" y1="57.5" x2="411.9" y2="59.0" stroke="#8d86c8" stroke-width="0.6" stroke-opacity="0.9"/><line x1="411.9" y1="59.0" x2="420.7" y2="57.5" stroke="#8d86c8" stroke-width="0.6" stroke-opacity="0.9"/><line x1="411.9" y1="59.0" x2="403.0" y2="55.0" stroke="#8d86c8" stroke-width="0.6" stroke-opacity="0.9"/><line x1="403.0" y1="55.0" x2="411.9" y2="59.0" stroke="#8d86c8" stroke-width="0.6" stroke-opacity="0.9"/><line x1="388.3" y1="62.2" x2="399.3" y2="40.7" stroke="#8a7cc0" stroke-width="0.7" stroke-opacity="0.85"/><line x1="388.3" y1="62.2" x2="408.3" y2="50.2" stroke="#8a7cc0" stroke-width="0.7" stroke-opacity="0.85"/><line x1="388.3" y1="62.2" x2="364.0" y2="92.5" stroke="#8a7cc0" stroke-width="0.7" stroke-opacity="0.85"/><line x1="388.3" y1="62.2" x2="372.7" y2="94.5" stroke="#8a7cc0" stroke-width="0.7" stroke-opacity="0.85"/><line x1="408.3" y1="50.2" x2="380.0" y2="74.0" stroke="#8a7cc0" stroke-width="0.7" stroke-opacity="0.85"/><line x1="380.0" y1="74.0" x2="364.0" y2="92.5" stroke="#8a7cc0" stroke-width="0.7" stroke-opacity="0.85"/><line x1="372.7" y1="94.5" x2="390.6" y2="106.9" stroke="#8a7cc0" stroke-width="0.7" stroke-opacity="0.85"/><line x1="364.0" y1="92.5" x2="390.6" y2="106.9" stroke="#8a7cc0" stroke-width="0.7" stroke-opacity="0.85"/><line x1="390.6" y1="106.9" x2="414.2" y2="113.8" stroke="#8a7cc0" stroke-width="0.7" stroke-opacity="0.85"/><line x1="390.6" y1="106.9" x2="399.2" y2="129.4" stroke="#8a7cc0" stroke-width="0.7" stroke-opacity="0.85"/><line x1="414.2" y1="113.8" x2="406.0" y2="136.2" stroke="#8a7cc0" stroke-width="0.7" stroke-opacity="0.85"/><line x1="399.2" y1="129.4" x2="406.0" y2="136.2" stroke="#8a7cc0" stroke-width="0.7" stroke-opacity="0.85"/><line x1="399.2" y1="129.4" x2="380.4" y2="144.2" stroke="#8a7cc0" stroke-width="0.7" stroke-opacity="0.85"/><line x1="406.0" y1="136.2" x2="381.7" y2="152.3" stroke="#8a7cc0" stroke-width="0.7" stroke-opacity="0.85"/><line x1="380.4" y1="144.2" x2="381.7" y2="152.3" stroke="#8a7cc0" stroke-width="0.7" stroke-opacity="0.85"/><line x1="364.0" y1="92.5" x2="351.3" y2="87.5" stroke="#8a7cc0" stroke-width="0.7" stroke-opacity="0.85"/><line x1="372.7" y1="94.5" x2="351.3" y2="87.5" stroke="#8a7cc0" stroke-width="0.7" stroke-opacity="0.85"/><line x1="336.8" y1="88.4" x2="351.3" y2="87.5" stroke="#8a7cc0" stroke-width="0.7" stroke-opacity="0.85"/><line x1="364.0" y1="92.5" x2="372.7" y2="94.5" stroke="#8a7cc0" stroke-width="0.7" stroke-opacity="0.85"/><line x1="259.0" y1="186.2" x2="255.6" y2="167.7" stroke="#4a3a90" stroke-width="1.0" stroke-opacity="0.85"/><line x1="259.0" y1="186.2" x2="264.8" y2="176.3" stroke="#4a3a90" stroke-width="1.0" stroke-opacity="0.85"/><line x1="259.0" y1="186.2" x2="255.0" y2="179.8" stroke="#4a3a90" stroke-width="1.0" stroke-opacity="0.85"/><line x1="259.0" y1="186.2" x2="249.2" y2="187.3" stroke="#4a3a90" stroke-width="1.0" stroke-opacity="0.85"/><line x1="259.0" y1="186.2" x2="261.3" y2="187.9" stroke="#4a3a90" stroke-width="1.0" stroke-opacity="0.85"/><line x1="259.0" y1="186.2" x2="253.3" y2="195.4" stroke="#4a3a90" stroke-width="1.0" stroke-opacity="0.85"/><line x1="259.0" y1="186.2" x2="261.9" y2="199.4" stroke="#4a3a90" stroke-width="1.0" stroke-opacity="0.85"/><line x1="259.0" y1="186.2" x2="271.7" y2="194.8" stroke="#4a3a90" stroke-width="1.0" stroke-opacity="0.85"/><line x1="255.6" y1="167.7" x2="255.0" y2="179.8" stroke="#b9a8dc" stroke-width="0.5" stroke-opacity="0.8"/><line x1="255.6" y1="167.7" x2="264.8" y2="176.3" stroke="#b9a8dc" stroke-width="0.5" stroke-opacity="0.8"/><line x1="264.8" y1="176.3" x2="255.0" y2="179.8" stroke="#b9a8dc" stroke-width="0.5" stroke-opacity="0.8"/><line x1="264.8" y1="176.3" x2="261.3" y2="187.9" stroke="#b9a8dc" stroke-width="0.5" stroke-opacity="0.8"/><line x1="264.8" y1="176.3" x2="255.6" y2="167.7" stroke="#b9a8dc" stroke-width="0.5" stroke-opacity="0.8"/><line x1="255.0" y1="179.8" x2="249.2" y2="187.3" stroke="#b9a8dc" stroke-width="0.5" stroke-opacity="0.8"/><line x1="255.0" y1="179.8" x2="261.3" y2="187.9" stroke="#b9a8dc" stroke-width="0.5" stroke-opacity="0.8"/><line x1="255.0" y1="179.8" x2="264.8" y2="176.3" stroke="#b9a8dc" stroke-width="0.5" stroke-opacity="0.8"/><line x1="249.2" y1="187.3" x2="253.3" y2="195.4" stroke="#b9a8dc" stroke-width="0.5" stroke-opacity="0.8"/><line x1="249.2" y1="187.3" x2="255.0" y2="179.8" stroke="#b9a8dc" stroke-width="0.5" stroke-opacity="0.8"/><line x1="249.2" y1="187.3" x2="261.3" y2="187.9" stroke="#b9a8dc" stroke-width="0.5" stroke-opacity="0.8"/><line x1="261.3" y1="187.9" x2="255.0" y2="179.8" stroke="#b9a8dc" stroke-width="0.5" stroke-opacity="0.8"/><line x1="261.3" y1="187.9" x2="253.3" y2="195.4" stroke="#b9a8dc" stroke-width="0.5" stroke-opacity="0.8"/><line x1="261.3" y1="187.9" x2="261.9" y2="199.4" stroke="#b9a8dc" stroke-width="0.5" stroke-opacity="0.8"/><line x1="253.3" y1="195.4" x2="249.2" y2="187.3" stroke="#b9a8dc" stroke-width="0.5" stroke-opacity="0.8"/><line x1="253.3" y1="195.4" x2="261.9" y2="199.4" stroke="#b9a8dc" stroke-width="0.5" stroke-opacity="0.8"/><line x1="253.3" y1="195.4" x2="261.3" y2="187.9" stroke="#b9a8dc" stroke-width="0.5" stroke-opacity="0.8"/><line x1="261.9" y1="199.4" x2="253.3" y2="195.4" stroke="#b9a8dc" stroke-width="0.5" stroke-opacity="0.8"/><line x1="261.9" y1="199.4" x2="271.7" y2="194.8" stroke="#b9a8dc" stroke-width="0.5" stroke-opacity="0.8"/><line x1="261.9" y1="199.4" x2="261.3" y2="187.9" stroke="#b9a8dc" stroke-width="0.5" stroke-opacity="0.8"/><line x1="271.7" y1="194.8" x2="261.9" y2="199.4" stroke="#b9a8dc" stroke-width="0.5" stroke-opacity="0.8"/><line x1="271.7" y1="194.8" x2="261.3" y2="187.9" stroke="#b9a8dc" stroke-width="0.5" stroke-opacity="0.8"/><line x1="255.6" y1="167.7" x2="262.0" y2="184.0" stroke="#9a8ccc" stroke-width="0.6" stroke-opacity="0.85"/><line x1="271.7" y1="194.8" x2="279.2" y2="181.0" stroke="#9a8ccc" stroke-width="0.6" stroke-opacity="0.85"/><line x1="264.8" y1="176.3" x2="279.2" y2="181.0" stroke="#9a8ccc" stroke-width="0.6" stroke-opacity="0.85"/><line x1="279.2" y1="181.0" x2="286.0" y2="185.0" stroke="#9a8ccc" stroke-width="0.6" stroke-opacity="0.85"/><line x1="286.0" y1="185.0" x2="293.0" y2="187.3" stroke="#9a8ccc" stroke-width="0.6" stroke-opacity="0.85"/><line x1="293.0" y1="187.3" x2="297.7" y2="190.8" stroke="#9a8ccc" stroke-width="0.6" stroke-opacity="0.85"/><line x1="271.7" y1="194.8" x2="286.0" y2="185.0" stroke="#9a8ccc" stroke-width="0.6" stroke-opacity="0.85"/><line x1="279.2" y1="181.0" x2="290.7" y2="174.6" stroke="#9a8ccc" stroke-width="0.6" stroke-opacity="0.85"/><line x1="286.0" y1="185.0" x2="297.0" y2="178.0" stroke="#9a8ccc" stroke-width="0.6" stroke-opacity="0.85"/><line x1="297.7" y1="190.8" x2="304.9" y2="187.2" stroke="#9a8ccc" stroke-width="0.6" stroke-opacity="0.85"/><line x1="293.0" y1="187.3" x2="300.0" y2="180.0" stroke="#9a8ccc" stroke-width="0.6" stroke-opacity="0.85"/><line x1="255.6" y1="167.7" x2="238.5" y2="107.7" stroke="#9a8ccc" stroke-width="0.6" stroke-opacity="0.85"/><line x1="330.7" y1="109.6" x2="331.1" y2="110.4" stroke="#8f7ccc" stroke-width="0.5" stroke-opacity="0.8"/><line x1="330.7" y1="109.6" x2="335.0" y2="106.7" stroke="#8f7ccc" stroke-width="0.5" stroke-opacity="0.8"/><line x1="330.7" y1="109.6" x2="332.0" y2="115.3" stroke="#8f7ccc" stroke-width="0.5" stroke-opacity="0.8"/><line x1="330.7" y1="109.6" x2="324.3" y2="101.9" stroke="#8f7ccc" stroke-width="0.5" stroke-opacity="0.8"/><line x1="332.0" y1="115.3" x2="331.1" y2="110.4" stroke="#8f7ccc" stroke-width="0.5" stroke-opacity="0.8"/><line x1="332.0" y1="115.3" x2="330.7" y2="109.6" stroke="#8f7ccc" stroke-width="0.5" stroke-opacity="0.8"/><line x1="332.0" y1="115.3" x2="334.7" y2="122.4" stroke="#8f7ccc" stroke-width="0.5" stroke-opacity="0.8"/><line x1="332.0" y1="115.3" x2="335.0" y2="106.7" stroke="#8f7ccc" stroke-width="0.5" stroke-opacity="0.8"/><line x1="331.1" y1="125.9" x2="334.7" y2="122.4" stroke="#8f7ccc" stroke-width="0.5" stroke-opacity="0.8"/><line x1="331.1" y1="125.9" x2="325.8" y2="131.0" stroke="#8f7ccc" stroke-width="0.5" stroke-opacity="0.8"/><line x1="331.1" y1="125.9" x2="323.4" y2="124.4" stroke="#8f7ccc" stroke-width="0.5" stroke-opacity="0.8"/><line x1="331.1" y1="125.9" x2="337.2" y2="131.3" stroke="#8f7ccc" stroke-width="0.5" stroke-opacity="0.8"/><line x1="346.5" y1="121.1" x2="345.7" y2="113.1" stroke="#8f7ccc" stroke-width="0.5" stroke-opacity="0.8"/><line x1="346.5" y1="121.1" x2="354.1" y2="116.4" stroke="#8f7ccc" stroke-width="0.5" stroke-opacity="0.8"/><line x1="346.5" y1="121.1" x2="342.0" y2="112.0" stroke="#8f7ccc" stroke-width="0.5" stroke-opacity="0.8"/><line x1="346.5" y1="121.1" x2="334.7" y2="122.4" stroke="#8f7ccc" stroke-width="0.5" stroke-opacity="0.8"/><line x1="320.5" y1="133.6" x2="322.4" y2="138.4" stroke="#8f7ccc" stroke-width="0.5" stroke-opacity="0.8"/><line x1="320.5" y1="133.6" x2="325.3" y2="136.5" stroke="#8f7ccc" stroke-width="0.5" stroke-opacity="0.8"/><line x1="320.5" y1="133.6" x2="325.8" y2="131.0" stroke="#8f7ccc" stroke-width="0.5" stroke-opacity="0.8"/><line x1="320.5" y1="133.6" x2="312.8" y2="129.8" stroke="#8f7ccc" stroke-width="0.5" stroke-opacity="0.8"/><line x1="329.2" y1="137.5" x2="330.4" y2="137.2" stroke="#8f7ccc" stroke-width="0.5" stroke-opacity="0.8"/><line x1="329.2" y1="137.5" x2="325.3" y2="136.5" stroke="#8f7ccc" stroke-width="0.5" stroke-opacity="0.8"/><line x1="329.2" y1="137.5" x2="334.0" y2="142.3" stroke="#8f7ccc" stroke-width="0.5" stroke-opacity="0.8"/><line x1="329.2" y1="137.5" x2="322.4" y2="138.4" stroke="#8f7ccc" stroke-width="0.5" stroke-opacity="0.8"/><line x1="322.4" y1="138.4" x2="325.3" y2="136.5" stroke="#8f7ccc" stroke-width="0.5" stroke-opacity="0.8"/><line x1="322.4" y1="138.4" x2="320.5" y2="133.6" stroke="#8f7ccc" stroke-width="0.5" stroke-opacity="0.8"/><line x1="322.4" y1="138.4" x2="320.3" y2="144.4" stroke="#8f7ccc" stroke-width="0.5" stroke-opacity="0.8"/><line x1="322.4" y1="138.4" x2="319.5" y2="144.2" stroke="#8f7ccc" stroke-width="0.5" stroke-opacity="0.8"/><line x1="334.0" y1="142.3" x2="330.4" y2="137.2" stroke="#8f7ccc" stroke-width="0.5" stroke-opacity="0.8"/><line x1="334.0" y1="142.3" x2="329.2" y2="137.5" stroke="#8f7ccc" stroke-width="0.5" stroke-opacity="0.8"/><line x1="334.0" y1="142.3" x2="326.2" y2="143.8" stroke="#8f7ccc" stroke-width="0.5" stroke-opacity="0.8"/><line x1="334.0" y1="142.3" x2="339.5" y2="148.2" stroke="#8f7ccc" stroke-width="0.5" stroke-opacity="0.8"/><line x1="331.1" y1="110.4" x2="330.7" y2="109.6" stroke="#8f7ccc" stroke-width="0.5" stroke-opacity="0.8"/><line x1="331.1" y1="110.4" x2="332.0" y2="115.3" stroke="#8f7ccc" stroke-width="0.5" stroke-opacity="0.8"/><line x1="331.1" y1="110.4" x2="335.0" y2="106.7" stroke="#8f7ccc" stroke-width="0.5" stroke-opacity="0.8"/><line x1="331.1" y1="110.4" x2="324.3" y2="101.9" stroke="#8f7ccc" stroke-width="0.5" stroke-opacity="0.8"/><line x1="325.8" y1="131.0" x2="325.3" y2="136.5" stroke="#8f7ccc" stroke-width="0.5" stroke-opacity="0.8"/><line x1="325.8" y1="131.0" x2="320.5" y2="133.6" stroke="#8f7ccc" stroke-width="0.5" stroke-opacity="0.8"/><line x1="325.8" y1="131.0" x2="323.4" y2="124.4" stroke="#8f7ccc" stroke-width="0.5" stroke-opacity="0.8"/><line x1="325.8" y1="131.0" x2="329.2" y2="137.5" stroke="#8f7ccc" stroke-width="0.5" stroke-opacity="0.8"/><line x1="312.8" y1="129.8" x2="312.3" y2="130.7" stroke="#8f7ccc" stroke-width="0.5" stroke-opacity="0.8"/><line x1="312.8" y1="129.8" x2="306.2" y2="124.9" stroke="#8f7ccc" stroke-width="0.5" stroke-opacity="0.8"/><line x1="312.8" y1="129.8" x2="320.5" y2="133.6" stroke="#8f7ccc" stroke-width="0.5" stroke-opacity="0.8"/><line x1="312.8" y1="129.8" x2="318.6" y2="123.0" stroke="#8f7ccc" stroke-width="0.5" stroke-opacity="0.8"/><line x1="337.8" y1="130.7" x2="337.2" y2="131.3" stroke="#8f7ccc" stroke-width="0.5" stroke-opacity="0.8"/><line x1="337.8" y1="130.7" x2="331.1" y2="125.9" stroke="#8f7ccc" stroke-width="0.5" stroke-opacity="0.8"/><line x1="337.8" y1="130.7" x2="334.7" y2="122.4" stroke="#8f7ccc" stroke-width="0.5" stroke-opacity="0.8"/><line x1="337.8" y1="130.7" x2="330.4" y2="137.2" stroke="#8f7ccc" stroke-width="0.5" stroke-opacity="0.8"/><line x1="325.3" y1="136.5" x2="322.4" y2="138.4" stroke="#8f7ccc" stroke-width="0.5" stroke-opacity="0.8"/><line x1="325.3" y1="136.5" x2="329.2" y2="137.5" stroke="#8f7ccc" stroke-width="0.5" stroke-opacity="0.8"/><line x1="325.3" y1="136.5" x2="330.4" y2="137.2" stroke="#8f7ccc" stroke-width="0.5" stroke-opacity="0.8"/><line x1="325.3" y1="136.5" x2="325.8" y2="131.0" stroke="#8f7ccc" stroke-width="0.5" stroke-opacity="0.8"/><line x1="313.8" y1="144.2" x2="317.6" y2="148.0" stroke="#8f7ccc" stroke-width="0.5" stroke-opacity="0.8"/><line x1="313.8" y1="144.2" x2="319.5" y2="144.2" stroke="#8f7ccc" stroke-width="0.5" stroke-opacity="0.8"/><line x1="313.8" y1="144.2" x2="309.9" y2="139.9" stroke="#8f7ccc" stroke-width="0.5" stroke-opacity="0.8"/><line x1="313.8" y1="144.2" x2="320.3" y2="144.4" stroke="#8f7ccc" stroke-width="0.5" stroke-opacity="0.8"/><line x1="327.2" y1="149.0" x2="326.2" y2="143.8" stroke="#8f7ccc" stroke-width="0.5" stroke-opacity="0.8"/><line x1="327.2" y1="149.0" x2="322.0" y2="146.4" stroke="#8f7ccc" stroke-width="0.5" stroke-opacity="0.8"/><line x1="327.2" y1="149.0" x2="332.0" y2="152.8" stroke="#8f7ccc" stroke-width="0.5" stroke-opacity="0.8"/><line x1="327.2" y1="149.0" x2="320.3" y2="144.4" stroke="#8f7ccc" stroke-width="0.5" stroke-opacity="0.8"/><line x1="332.0" y1="152.8" x2="327.2" y2="149.0" stroke="#8f7ccc" stroke-width="0.5" stroke-opacity="0.8"/><line x1="332.0" y1="152.8" x2="327.7" y2="159.2" stroke="#8f7ccc" stroke-width="0.5" stroke-opacity="0.8"/><line x1="332.0" y1="152.8" x2="339.5" y2="148.2" stroke="#8f7ccc" stroke-width="0.5" stroke-opacity="0.8"/><line x1="332.0" y1="152.8" x2="336.1" y2="161.5" stroke="#8f7ccc" stroke-width="0.5" stroke-opacity="0.8"/><line x1="316.7" y1="154.8" x2="317.6" y2="148.0" stroke="#8f7ccc" stroke-width="0.5" stroke-opacity="0.8"/><line x1="316.7" y1="154.8" x2="315.0" y2="164.6" stroke="#8f7ccc" stroke-width="0.5" stroke-opacity="0.8"/><line x1="316.7" y1="154.8" x2="322.0" y2="146.4" stroke="#8f7ccc" stroke-width="0.5" stroke-opacity="0.8"/><line x1="316.7" y1="154.8" x2="319.5" y2="144.2" stroke="#8f7ccc" stroke-width="0.5" stroke-opacity="0.8"/><line x1="312.3" y1="130.7" x2="312.8" y2="129.8" stroke="#8f7ccc" stroke-width="0.5" stroke-opacity="0.8"/><line x1="312.3" y1="130.7" x2="306.2" y2="124.9" stroke="#8f7ccc" stroke-width="0.5" stroke-opacity="0.8"/><line x1="312.3" y1="130.7" x2="320.5" y2="133.6" stroke="#8f7ccc" stroke-width="0.5" stroke-opacity="0.8"/><line x1="312.3" y1="130.7" x2="309.0" y2="139.4" stroke="#8f7ccc" stroke-width="0.5" stroke-opacity="0.8"/><line x1="337.2" y1="131.3" x2="337.8" y2="130.7" stroke="#8f7ccc" stroke-width="0.5" stroke-opacity="0.8"/><line x1="337.2" y1="131.3" x2="331.1" y2="125.9" stroke="#8f7ccc" stroke-width="0.5" stroke-opacity="0.8"/><line x1="337.2" y1="131.3" x2="330.4" y2="137.2" stroke="#8f7ccc" stroke-width="0.5" stroke-opacity="0.8"/><line x1="337.2" y1="131.3" x2="334.7" y2="122.4" stroke="#8f7ccc" stroke-width="0.5" stroke-opacity="0.8"/><line x1="318.6" y1="123.0" x2="323.4" y2="124.4" stroke="#8f7ccc" stroke-width="0.5" stroke-opacity="0.8"/><line x1="318.6" y1="123.0" x2="312.8" y2="129.8" stroke="#8f7ccc" stroke-width="0.5" stroke-opacity="0.8"/><line x1="318.6" y1="123.0" x2="312.3" y2="130.7" stroke="#8f7ccc" stroke-width="0.5" stroke-opacity="0.8"/><line x1="318.6" y1="123.0" x2="325.8" y2="131.0" stroke="#8f7ccc" stroke-width="0.5" stroke-opacity="0.8"/><line x1="323.4" y1="124.4" x2="318.6" y2="123.0" stroke="#8f7ccc" stroke-width="0.5" stroke-opacity="0.8"/><line x1="323.4" y1="124.4" x2="325.8" y2="131.0" stroke="#8f7ccc" stroke-width="0.5" stroke-opacity="0.8"/><line x1="323.4" y1="124.4" x2="331.1" y2="125.9" stroke="#8f7ccc" stroke-width="0.5" stroke-opacity="0.8"/><line x1="323.4" y1="124.4" x2="320.5" y2="133.6" stroke="#8f7ccc" stroke-width="0.5" stroke-opacity="0.8"/><line x1="296.1" y1="128.2" x2="291.0" y2="128.0" stroke="#8f7ccc" stroke-width="0.5" stroke-opacity="0.8"/><line x1="296.1" y1="128.2" x2="306.2" y2="124.9" stroke="#8f7ccc" stroke-width="0.5" stroke-opacity="0.8"/><line x1="296.1" y1="128.2" x2="300.0" y2="118.0" stroke="#8f7ccc" stroke-width="0.5" stroke-opacity="0.8"/><line x1="296.1" y1="128.2" x2="301.3" y2="139.4" stroke="#8f7ccc" stroke-width="0.5" stroke-opacity="0.8"/><line x1="301.3" y1="139.4" x2="306.1" y2="139.4" stroke="#8f7ccc" stroke-width="0.5" stroke-opacity="0.8"/><line x1="301.3" y1="139.4" x2="309.0" y2="139.4" stroke="#8f7ccc" stroke-width="0.5" stroke-opacity="0.8"/><line x1="301.3" y1="139.4" x2="309.9" y2="139.9" stroke="#8f7ccc" stroke-width="0.5" stroke-opacity="0.8"/><line x1="301.3" y1="139.4" x2="305.0" y2="150.0" stroke="#8f7ccc" stroke-width="0.5" stroke-opacity="0.8"/><line x1="306.1" y1="139.4" x2="309.0" y2="139.4" stroke="#8f7ccc" stroke-width="0.5" stroke-opacity="0.8"/><line x1="306.1" y1="139.4" x2="309.9" y2="139.9" stroke="#8f7ccc" stroke-width="0.5" stroke-opacity="0.8"/><line x1="306.1" y1="139.4" x2="301.3" y2="139.4" stroke="#8f7ccc" stroke-width="0.5" stroke-opacity="0.8"/><line x1="306.1" y1="139.4" x2="313.8" y2="144.2" stroke="#8f7ccc" stroke-width="0.5" stroke-opacity="0.8"/><line x1="309.0" y1="139.4" x2="309.9" y2="139.9" stroke="#8f7ccc" stroke-width="0.5" stroke-opacity="0.8"/><line x1="309.0" y1="139.4" x2="306.1" y2="139.4" stroke="#8f7ccc" stroke-width="0.5" stroke-opacity="0.8"/><line x1="309.0" y1="139.4" x2="313.8" y2="144.2" stroke="#8f7ccc" stroke-width="0.5" stroke-opacity="0.8"/><line x1="309.0" y1="139.4" x2="301.3" y2="139.4" stroke="#8f7ccc" stroke-width="0.5" stroke-opacity="0.8"/><line x1="285.9" y1="141.7" x2="289.8" y2="147.7" stroke="#8f7ccc" stroke-width="0.5" stroke-opacity="0.8"/><line x1="285.9" y1="141.7" x2="291.0" y2="128.0" stroke="#8f7ccc" stroke-width="0.5" stroke-opacity="0.8"/><line x1="285.9" y1="141.7" x2="301.3" y2="139.4" stroke="#8f7ccc" stroke-width="0.5" stroke-opacity="0.8"/><line x1="285.9" y1="141.7" x2="296.1" y2="128.2" stroke="#8f7ccc" stroke-width="0.5" stroke-opacity="0.8"/><line x1="319.5" y1="144.2" x2="320.3" y2="144.4" stroke="#8f7ccc" stroke-width="0.5" stroke-opacity="0.8"/><line x1="319.5" y1="144.2" x2="322.0" y2="146.4" stroke="#8f7ccc" stroke-width="0.5" stroke-opacity="0.8"/><line x1="319.5" y1="144.2" x2="317.6" y2="148.0" stroke="#8f7ccc" stroke-width="0.5" stroke-opacity="0.8"/><line x1="319.5" y1="144.2" x2="313.8" y2="144.2" stroke="#8f7ccc" stroke-width="0.5" stroke-opacity="0.8"/><line x1="317.6" y1="148.0" x2="319.5" y2="144.2" stroke="#8f7ccc" stroke-width="0.5" stroke-opacity="0.8"/><line x1="317.6" y1="148.0" x2="320.3" y2="144.4" stroke="#8f7ccc" stroke-width="0.5" stroke-opacity="0.8"/><line x1="317.6" y1="148.0" x2="322.0" y2="146.4" stroke="#8f7ccc" stroke-width="0.5" stroke-opacity="0.8"/><line x1="317.6" y1="148.0" x2="313.8" y2="144.2" stroke="#8f7ccc" stroke-width="0.5" stroke-opacity="0.8"/><line x1="336.8" y1="88.4" x2="338.5" y2="81.3" stroke="#8f7ccc" stroke-width="0.5" stroke-opacity="0.8"/><line x1="336.8" y1="88.4" x2="343.2" y2="83.5" stroke="#8f7ccc" stroke-width="0.5" stroke-opacity="0.8"/><line x1="336.8" y1="88.4" x2="344.5" y2="84.9" stroke="#8f7ccc" stroke-width="0.5" stroke-opacity="0.8"/><line x1="336.8" y1="88.4" x2="345.6" y2="87.2" stroke="#8f7ccc" stroke-width="0.5" stroke-opacity="0.8"/><line x1="331.5" y1="97.1" x2="325.8" y2="96.6" stroke="#8f7ccc" stroke-width="0.5" stroke-opacity="0.8"/><line x1="331.5" y1="97.1" x2="324.3" y2="101.9" stroke="#8f7ccc" stroke-width="0.5" stroke-opacity="0.8"/><line x1="331.5" y1="97.1" x2="336.8" y2="88.4" stroke="#8f7ccc" stroke-width="0.5" stroke-opacity="0.8"/><line x1="331.5" y1="97.1" x2="335.0" y2="106.7" stroke="#8f7ccc" stroke-width="0.5" stroke-opacity="0.8"/><line x1="286.5" y1="114.4" x2="296.5" y2="107.7" stroke="#8f7ccc" stroke-width="0.5" stroke-opacity="0.8"/><line x1="286.5" y1="114.4" x2="300.0" y2="118.0" stroke="#8f7ccc" stroke-width="0.5" stroke-opacity="0.8"/><line x1="286.5" y1="114.4" x2="291.0" y2="128.0" stroke="#8f7ccc" stroke-width="0.5" stroke-opacity="0.8"/><line x1="286.5" y1="114.4" x2="296.1" y2="128.2" stroke="#8f7ccc" stroke-width="0.5" stroke-opacity="0.8"/><line x1="306.1" y1="93.2" x2="300.3" y2="95.2" stroke="#8f7ccc" stroke-width="0.5" stroke-opacity="0.8"/><line x1="306.1" y1="93.2" x2="314.2" y2="87.0" stroke="#8f7ccc" stroke-width="0.5" stroke-opacity="0.8"/><line x1="306.1" y1="93.2" x2="298.4" y2="85.5" stroke="#8f7ccc" stroke-width="0.5" stroke-opacity="0.8"/><line x1="306.1" y1="93.2" x2="316.5" y2="88.5" stroke="#8f7ccc" stroke-width="0.5" stroke-opacity="0.8"/><line x1="296.5" y1="107.7" x2="300.5" y2="103.9" stroke="#8f7ccc" stroke-width="0.5" stroke-opacity="0.8"/><line x1="296.5" y1="107.7" x2="300.0" y2="118.0" stroke="#8f7ccc" stroke-width="0.5" stroke-opacity="0.8"/><line x1="296.5" y1="107.7" x2="286.5" y2="114.4" stroke="#8f7ccc" stroke-width="0.5" stroke-opacity="0.8"/><line x1="296.5" y1="107.7" x2="300.3" y2="95.2" stroke="#8f7ccc" stroke-width="0.5" stroke-opacity="0.8"/><line x1="300.3" y1="95.2" x2="306.1" y2="93.2" stroke="#8f7ccc" stroke-width="0.5" stroke-opacity="0.8"/><line x1="300.3" y1="95.2" x2="300.5" y2="103.9" stroke="#8f7ccc" stroke-width="0.5" stroke-opacity="0.8"/><line x1="300.3" y1="95.2" x2="298.4" y2="85.5" stroke="#8f7ccc" stroke-width="0.5" stroke-opacity="0.8"/><line x1="300.3" y1="95.2" x2="298.3" y2="84.8" stroke="#8f7ccc" stroke-width="0.5" stroke-opacity="0.8"/><line x1="324.3" y1="101.9" x2="325.8" y2="96.6" stroke="#8f7ccc" stroke-width="0.5" stroke-opacity="0.8"/><line x1="324.3" y1="101.9" x2="331.5" y2="97.1" stroke="#8f7ccc" stroke-width="0.5" stroke-opacity="0.8"/><line x1="324.3" y1="101.9" x2="330.7" y2="109.6" stroke="#8f7ccc" stroke-width="0.5" stroke-opacity="0.8"/><line x1="324.3" y1="101.9" x2="320.5" y2="92.3" stroke="#8f7ccc" stroke-width="0.5" stroke-opacity="0.8"/><line x1="320.5" y1="92.3" x2="316.5" y2="88.5" stroke="#8f7ccc" stroke-width="0.5" stroke-opacity="0.8"/><line x1="320.5" y1="92.3" x2="325.8" y2="96.6" stroke="#8f7ccc" stroke-width="0.5" stroke-opacity="0.8"/><line x1="320.5" y1="92.3" x2="314.2" y2="87.0" stroke="#8f7ccc" stroke-width="0.5" stroke-opacity="0.8"/><line x1="320.5" y1="92.3" x2="315.7" y2="83.4" stroke="#8f7ccc" stroke-width="0.5" stroke-opacity="0.8"/><line x1="335.0" y1="106.7" x2="330.7" y2="109.6" stroke="#8f7ccc" stroke-width="0.5" stroke-opacity="0.8"/><line x1="335.0" y1="106.7" x2="331.1" y2="110.4" stroke="#8f7ccc" stroke-width="0.5" stroke-opacity="0.8"/><line x1="335.0" y1="106.7" x2="342.0" y2="112.0" stroke="#8f7ccc" stroke-width="0.5" stroke-opacity="0.8"/><line x1="335.0" y1="106.7" x2="332.0" y2="115.3" stroke="#8f7ccc" stroke-width="0.5" stroke-opacity="0.8"/><line x1="298.4" y1="85.5" x2="298.3" y2="84.8" stroke="#8f7ccc" stroke-width="0.5" stroke-opacity="0.8"/><line x1="298.4" y1="85.5" x2="304.6" y2="77.9" stroke="#8f7ccc" stroke-width="0.5" stroke-opacity="0.8"/><line x1="298.4" y1="85.5" x2="300.3" y2="95.2" stroke="#8f7ccc" stroke-width="0.5" stroke-opacity="0.8"/><line x1="298.4" y1="85.5" x2="306.1" y2="93.2" stroke="#8f7ccc" stroke-width="0.5" stroke-opacity="0.8"/><line x1="304.6" y1="77.9" x2="298.3" y2="84.8" stroke="#8f7ccc" stroke-width="0.5" stroke-opacity="0.8"/><line x1="304.6" y1="77.9" x2="298.4" y2="85.5" stroke="#8f7ccc" stroke-width="0.5" stroke-opacity="0.8"/><line x1="304.6" y1="77.9" x2="315.7" y2="83.4" stroke="#8f7ccc" stroke-width="0.5" stroke-opacity="0.8"/><line x1="304.6" y1="77.9" x2="314.2" y2="87.0" stroke="#8f7ccc" stroke-width="0.5" stroke-opacity="0.8"/><line x1="298.3" y1="84.8" x2="298.4" y2="85.5" stroke="#8f7ccc" stroke-width="0.5" stroke-opacity="0.8"/><line x1="298.3" y1="84.8" x2="304.6" y2="77.9" stroke="#8f7ccc" stroke-width="0.5" stroke-opacity="0.8"/><line x1="298.3" y1="84.8" x2="300.3" y2="95.2" stroke="#8f7ccc" stroke-width="0.5" stroke-opacity="0.8"/><line x1="298.3" y1="84.8" x2="306.1" y2="93.2" stroke="#8f7ccc" stroke-width="0.5" stroke-opacity="0.8"/><line x1="319.9" y1="179.4" x2="316.9" y2="185.5" stroke="#8f7ccc" stroke-width="0.5" stroke-opacity="0.8"/><line x1="319.9" y1="179.4" x2="326.0" y2="172.0" stroke="#8f7ccc" stroke-width="0.5" stroke-opacity="0.8"/><line x1="319.9" y1="179.4" x2="328.9" y2="182.9" stroke="#8f7ccc" stroke-width="0.5" stroke-opacity="0.8"/><line x1="319.9" y1="179.4" x2="324.3" y2="168.1" stroke="#8f7ccc" stroke-width="0.5" stroke-opacity="0.8"/><line x1="351.3" y1="87.5" x2="349.8" y2="87.0" stroke="#8f7ccc" stroke-width="0.5" stroke-opacity="0.8"/><line x1="351.3" y1="87.5" x2="346.2" y2="86.6" stroke="#8f7ccc" stroke-width="0.5" stroke-opacity="0.8"/><line x1="351.3" y1="87.5" x2="345.6" y2="87.2" stroke="#8f7ccc" stroke-width="0.5" stroke-opacity="0.8"/><line x1="351.3" y1="87.5" x2="344.5" y2="84.9" stroke="#8f7ccc" stroke-width="0.5" stroke-opacity="0.8"/><line x1="342.0" y1="112.0" x2="345.7" y2="113.1" stroke="#8f7ccc" stroke-width="0.5" stroke-opacity="0.8"/><line x1="342.0" y1="112.0" x2="335.0" y2="106.7" stroke="#8f7ccc" stroke-width="0.5" stroke-opacity="0.8"/><line x1="342.0" y1="112.0" x2="346.5" y2="121.1" stroke="#8f7ccc" stroke-width="0.5" stroke-opacity="0.8"/><line x1="342.0" y1="112.0" x2="332.0" y2="115.3" stroke="#8f7ccc" stroke-width="0.5" stroke-opacity="0.8"/><line x1="347.0" y1="146.0" x2="347.2" y2="145.5" stroke="#8f7ccc" stroke-width="0.5" stroke-opacity="0.8"/><line x1="347.0" y1="146.0" x2="339.5" y2="148.2" stroke="#8f7ccc" stroke-width="0.5" stroke-opacity="0.8"/><line x1="347.0" y1="146.0" x2="357.8" y2="145.0" stroke="#8f7ccc" stroke-width="0.5" stroke-opacity="0.8"/><line x1="347.0" y1="146.0" x2="334.0" y2="142.3" stroke="#8f7ccc" stroke-width="0.5" stroke-opacity="0.8"/><line x1="360.0" y1="118.0" x2="354.1" y2="116.4" stroke="#8f7ccc" stroke-width="0.5" stroke-opacity="0.8"/><line x1="360.0" y1="118.0" x2="370.5" y2="121.6" stroke="#8f7ccc" stroke-width="0.5" stroke-opacity="0.8"/><line x1="360.0" y1="118.0" x2="346.5" y2="121.1" stroke="#8f7ccc" stroke-width="0.5" stroke-opacity="0.8"/><line x1="360.0" y1="118.0" x2="345.7" y2="113.1" stroke="#8f7ccc" stroke-width="0.5" stroke-opacity="0.8"/><line x1="300.0" y1="118.0" x2="306.2" y2="124.9" stroke="#8f7ccc" stroke-width="0.5" stroke-opacity="0.8"/><line x1="300.0" y1="118.0" x2="296.5" y2="107.7" stroke="#8f7ccc" stroke-width="0.5" stroke-opacity="0.8"/><line x1="300.0" y1="118.0" x2="296.1" y2="128.2" stroke="#8f7ccc" stroke-width="0.5" stroke-opacity="0.8"/><line x1="300.0" y1="118.0" x2="309.9" y2="113.1" stroke="#8f7ccc" stroke-width="0.5" stroke-opacity="0.8"/><line x1="291.0" y1="128.0" x2="296.1" y2="128.2" stroke="#8f7ccc" stroke-width="0.5" stroke-opacity="0.8"/><line x1="291.0" y1="128.0" x2="300.0" y2="118.0" stroke="#8f7ccc" stroke-width="0.5" stroke-opacity="0.8"/><line x1="291.0" y1="128.0" x2="286.5" y2="114.4" stroke="#8f7ccc" stroke-width="0.5" stroke-opacity="0.8"/><line x1="291.0" y1="128.0" x2="285.9" y2="141.7" stroke="#8f7ccc" stroke-width="0.5" stroke-opacity="0.8"/><line x1="305.0" y1="150.0" x2="313.8" y2="144.2" stroke="#8f7ccc" stroke-width="0.5" stroke-opacity="0.8"/><line x1="305.0" y1="150.0" x2="306.1" y2="139.4" stroke="#8f7ccc" stroke-width="0.5" stroke-opacity="0.8"/><line x1="305.0" y1="150.0" x2="301.3" y2="139.4" stroke="#8f7ccc" stroke-width="0.5" stroke-opacity="0.8"/><line x1="305.0" y1="150.0" x2="309.9" y2="139.9" stroke="#8f7ccc" stroke-width="0.5" stroke-opacity="0.8"/><line x1="295.0" y1="160.0" x2="296.1" y2="168.1" stroke="#8f7ccc" stroke-width="0.5" stroke-opacity="0.8"/><line x1="295.0" y1="160.0" x2="289.8" y2="147.7" stroke="#8f7ccc" stroke-width="0.5" stroke-opacity="0.8"/><line x1="295.0" y1="160.0" x2="289.2" y2="172.1" stroke="#8f7ccc" stroke-width="0.5" stroke-opacity="0.8"/><line x1="295.0" y1="160.0" x2="305.0" y2="150.0" stroke="#8f7ccc" stroke-width="0.5" stroke-opacity="0.8"/><line x1="340.0" y1="165.0" x2="336.1" y2="161.5" stroke="#8f7ccc" stroke-width="0.5" stroke-opacity="0.8"/><line x1="340.0" y1="165.0" x2="346.4" y2="175.5" stroke="#8f7ccc" stroke-width="0.5" stroke-opacity="0.8"/><line x1="340.0" y1="165.0" x2="352.0" y2="160.0" stroke="#8f7ccc" stroke-width="0.5" stroke-opacity="0.8"/><line x1="340.0" y1="165.0" x2="327.7" y2="159.2" stroke="#8f7ccc" stroke-width="0.5" stroke-opacity="0.8"/><line x1="352.0" y1="160.0" x2="340.0" y2="165.0" stroke="#8f7ccc" stroke-width="0.5" stroke-opacity="0.8"/><line x1="352.0" y1="160.0" x2="347.0" y2="146.0" stroke="#8f7ccc" stroke-width="0.5" stroke-opacity="0.8"/><line x1="352.0" y1="160.0" x2="347.2" y2="145.5" stroke="#8f7ccc" stroke-width="0.5" stroke-opacity="0.8"/><line x1="352.0" y1="160.0" x2="336.1" y2="161.5" stroke="#8f7ccc" stroke-width="0.5" stroke-opacity="0.8"/><line x1="366.0" y1="150.0" x2="364.5" y2="143.1" stroke="#8f7ccc" stroke-width="0.5" stroke-opacity="0.8"/><line x1="366.0" y1="150.0" x2="371.2" y2="142.6" stroke="#8f7ccc" stroke-width="0.5" stroke-opacity="0.8"/><line x1="366.0" y1="150.0" x2="357.8" y2="145.0" stroke="#8f7ccc" stroke-width="0.5" stroke-opacity="0.8"/><line x1="366.0" y1="150.0" x2="374.5" y2="135.8" stroke="#8f7ccc" stroke-width="0.5" stroke-opacity="0.8"/><line x1="372.0" y1="128.0" x2="376.8" y2="128.0" stroke="#8f7ccc" stroke-width="0.5" stroke-opacity="0.8"/><line x1="372.0" y1="128.0" x2="367.6" y2="132.0" stroke="#8f7ccc" stroke-width="0.5" stroke-opacity="0.8"/><line x1="372.0" y1="128.0" x2="370.5" y2="121.6" stroke="#8f7ccc" stroke-width="0.5" stroke-opacity="0.8"/><line x1="372.0" y1="128.0" x2="374.5" y2="135.8" stroke="#8f7ccc" stroke-width="0.5" stroke-opacity="0.8"/><line x1="310.0" y1="170.0" x2="315.0" y2="164.6" stroke="#8f7ccc" stroke-width="0.5" stroke-opacity="0.8"/><line x1="310.0" y1="170.0" x2="319.9" y2="179.4" stroke="#8f7ccc" stroke-width="0.5" stroke-opacity="0.8"/><line x1="310.0" y1="170.0" x2="296.1" y2="168.1" stroke="#8f7ccc" stroke-width="0.5" stroke-opacity="0.8"/><line x1="310.0" y1="170.0" x2="324.3" y2="168.1" stroke="#8f7ccc" stroke-width="0.5" stroke-opacity="0.8"/><line x1="326.0" y1="172.0" x2="324.3" y2="168.1" stroke="#8f7ccc" stroke-width="0.5" stroke-opacity="0.8"/><line x1="326.0" y1="172.0" x2="319.9" y2="179.4" stroke="#8f7ccc" stroke-width="0.5" stroke-opacity="0.8"/><line x1="326.0" y1="172.0" x2="328.9" y2="182.9" stroke="#8f7ccc" stroke-width="0.5" stroke-opacity="0.8"/><line x1="326.0" y1="172.0" x2="327.7" y2="159.2" stroke="#8f7ccc" stroke-width="0.5" stroke-opacity="0.8"/><line x1="290.0" y1="174.6" x2="291.9" y2="175.5" stroke="#8f7ccc" stroke-width="0.5" stroke-opacity="0.8"/><line x1="290.0" y1="174.6" x2="289.2" y2="172.1" stroke="#8f7ccc" stroke-width="0.5" stroke-opacity="0.8"/><line x1="290.0" y1="174.6" x2="296.1" y2="168.1" stroke="#8f7ccc" stroke-width="0.5" stroke-opacity="0.8"/><line x1="290.0" y1="174.6" x2="300.0" y2="185.0" stroke="#8f7ccc" stroke-width="0.5" stroke-opacity="0.8"/><line x1="300.0" y1="185.0" x2="291.9" y2="175.5" stroke="#8f7ccc" stroke-width="0.5" stroke-opacity="0.8"/><line x1="300.0" y1="185.0" x2="290.0" y2="174.6" stroke="#8f7ccc" stroke-width="0.5" stroke-opacity="0.8"/><line x1="300.0" y1="185.0" x2="289.2" y2="172.1" stroke="#8f7ccc" stroke-width="0.5" stroke-opacity="0.8"/><line x1="300.0" y1="185.0" x2="316.9" y2="185.5" stroke="#8f7ccc" stroke-width="0.5" stroke-opacity="0.8"/><line x1="309.9" y1="139.9" x2="309.0" y2="139.4" stroke="#8f7ccc" stroke-width="0.5" stroke-opacity="0.8"/><line x1="309.9" y1="139.9" x2="306.1" y2="139.4" stroke="#8f7ccc" stroke-width="0.5" stroke-opacity="0.8"/><line x1="309.9" y1="139.9" x2="313.8" y2="144.2" stroke="#8f7ccc" stroke-width="0.5" stroke-opacity="0.8"/><line x1="309.9" y1="139.9" x2="301.3" y2="139.4" stroke="#8f7ccc" stroke-width="0.5" stroke-opacity="0.8"/><line x1="322.0" y1="146.4" x2="320.3" y2="144.4" stroke="#8f7ccc" stroke-width="0.5" stroke-opacity="0.8"/><line x1="322.0" y1="146.4" x2="319.5" y2="144.2" stroke="#8f7ccc" stroke-width="0.5" stroke-opacity="0.8"/><line x1="322.0" y1="146.4" x2="317.6" y2="148.0" stroke="#8f7ccc" stroke-width="0.5" stroke-opacity="0.8"/><line x1="322.0" y1="146.4" x2="326.2" y2="143.8" stroke="#8f7ccc" stroke-width="0.5" stroke-opacity="0.8"/><line x1="345.6" y1="87.2" x2="346.2" y2="86.6" stroke="#8f7ccc" stroke-width="0.5" stroke-opacity="0.8"/><line x1="345.6" y1="87.2" x2="344.5" y2="84.9" stroke="#8f7ccc" stroke-width="0.5" stroke-opacity="0.8"/><line x1="345.6" y1="87.2" x2="349.8" y2="87.0" stroke="#8f7ccc" stroke-width="0.5" stroke-opacity="0.8"/><line x1="345.6" y1="87.2" x2="343.2" y2="83.5" stroke="#8f7ccc" stroke-width="0.5" stroke-opacity="0.8"/><line x1="289.2" y1="172.1" x2="290.0" y2="174.6" stroke="#8f7ccc" stroke-width="0.5" stroke-opacity="0.8"/><line x1="289.2" y1="172.1" x2="291.9" y2="175.5" stroke="#8f7ccc" stroke-width="0.5" stroke-opacity="0.8"/><line x1="289.2" y1="172.1" x2="296.1" y2="168.1" stroke="#8f7ccc" stroke-width="0.5" stroke-opacity="0.8"/><line x1="289.2" y1="172.1" x2="295.0" y2="160.0" stroke="#8f7ccc" stroke-width="0.5" stroke-opacity="0.8"/><line x1="311.9" y1="105.8" x2="309.9" y2="113.1" stroke="#8f7ccc" stroke-width="0.5" stroke-opacity="0.8"/><line x1="311.9" y1="105.8" x2="300.5" y2="103.9" stroke="#8f7ccc" stroke-width="0.5" stroke-opacity="0.8"/><line x1="311.9" y1="105.8" x2="324.3" y2="101.9" stroke="#8f7ccc" stroke-width="0.5" stroke-opacity="0.8"/><line x1="311.9" y1="105.8" x2="306.1" y2="93.2" stroke="#8f7ccc" stroke-width="0.5" stroke-opacity="0.8"/><line x1="379.6" y1="131.7" x2="376.8" y2="128.0" stroke="#8f7ccc" stroke-width="0.5" stroke-opacity="0.8"/><line x1="379.6" y1="131.7" x2="378.0" y2="137.3" stroke="#8f7ccc" stroke-width="0.5" stroke-opacity="0.8"/><line x1="379.6" y1="131.7" x2="374.5" y2="135.8" stroke="#8f7ccc" stroke-width="0.5" stroke-opacity="0.8"/><line x1="379.6" y1="131.7" x2="372.0" y2="128.0" stroke="#8f7ccc" stroke-width="0.5" stroke-opacity="0.8"/><line x1="365.0" y1="132.4" x2="367.6" y2="132.0" stroke="#8f7ccc" stroke-width="0.5" stroke-opacity="0.8"/><line x1="365.0" y1="132.4" x2="372.0" y2="128.0" stroke="#8f7ccc" stroke-width="0.5" stroke-opacity="0.8"/><line x1="365.0" y1="132.4" x2="374.5" y2="135.8" stroke="#8f7ccc" stroke-width="0.5" stroke-opacity="0.8"/><line x1="365.0" y1="132.4" x2="364.5" y2="143.1" stroke="#8f7ccc" stroke-width="0.5" stroke-opacity="0.8"/><line x1="346.8" y1="96.6" x2="344.2" y2="97.2" stroke="#8f7ccc" stroke-width="0.5" stroke-opacity="0.8"/><line x1="346.8" y1="96.6" x2="349.8" y2="97.9" stroke="#8f7ccc" stroke-width="0.5" stroke-opacity="0.8"/><line x1="346.8" y1="96.6" x2="345.6" y2="87.2" stroke="#8f7ccc" stroke-width="0.5" stroke-opacity="0.8"/><line x1="346.8" y1="96.6" x2="353.7" y2="103.2" stroke="#8f7ccc" stroke-width="0.5" stroke-opacity="0.8"/><line x1="346.4" y1="175.5" x2="341.8" y2="179.5" stroke="#8f7ccc" stroke-width="0.5" stroke-opacity="0.8"/><line x1="346.4" y1="175.5" x2="354.1" y2="176.7" stroke="#8f7ccc" stroke-width="0.5" stroke-opacity="0.8"/><line x1="346.4" y1="175.5" x2="350.7" y2="182.2" stroke="#8f7ccc" stroke-width="0.5" stroke-opacity="0.8"/><line x1="346.4" y1="175.5" x2="353.7" y2="181.3" stroke="#8f7ccc" stroke-width="0.5" stroke-opacity="0.8"/><line x1="336.1" y1="161.5" x2="340.0" y2="165.0" stroke="#8f7ccc" stroke-width="0.5" stroke-opacity="0.8"/><line x1="336.1" y1="161.5" x2="327.7" y2="159.2" stroke="#8f7ccc" stroke-width="0.5" stroke-opacity="0.8"/><line x1="336.1" y1="161.5" x2="332.0" y2="152.8" stroke="#8f7ccc" stroke-width="0.5" stroke-opacity="0.8"/><line x1="336.1" y1="161.5" x2="324.3" y2="168.1" stroke="#8f7ccc" stroke-width="0.5" stroke-opacity="0.8"/><line x1="349.8" y1="87.0" x2="351.3" y2="87.5" stroke="#8f7ccc" stroke-width="0.5" stroke-opacity="0.8"/><line x1="349.8" y1="87.0" x2="346.2" y2="86.6" stroke="#8f7ccc" stroke-width="0.5" stroke-opacity="0.8"/><line x1="349.8" y1="87.0" x2="345.6" y2="87.2" stroke="#8f7ccc" stroke-width="0.5" stroke-opacity="0.8"/><line x1="349.8" y1="87.0" x2="344.5" y2="84.9" stroke="#8f7ccc" stroke-width="0.5" stroke-opacity="0.8"/><line x1="357.8" y1="145.0" x2="364.5" y2="143.1" stroke="#8f7ccc" stroke-width="0.5" stroke-opacity="0.8"/><line x1="357.8" y1="145.0" x2="366.0" y2="150.0" stroke="#8f7ccc" stroke-width="0.5" stroke-opacity="0.8"/><line x1="357.8" y1="145.0" x2="347.2" y2="145.5" stroke="#8f7ccc" stroke-width="0.5" stroke-opacity="0.8"/><line x1="357.8" y1="145.0" x2="347.0" y2="146.0" stroke="#8f7ccc" stroke-width="0.5" stroke-opacity="0.8"/><line x1="315.7" y1="83.4" x2="314.2" y2="87.0" stroke="#8f7ccc" stroke-width="0.5" stroke-opacity="0.8"/><line x1="315.7" y1="83.4" x2="316.5" y2="88.5" stroke="#8f7ccc" stroke-width="0.5" stroke-opacity="0.8"/><line x1="315.7" y1="83.4" x2="320.5" y2="92.3" stroke="#8f7ccc" stroke-width="0.5" stroke-opacity="0.8"/><line x1="315.7" y1="83.4" x2="304.6" y2="77.9" stroke="#8f7ccc" stroke-width="0.5" stroke-opacity="0.8"/><line x1="367.6" y1="132.0" x2="365.0" y2="132.4" stroke="#8f7ccc" stroke-width="0.5" stroke-opacity="0.8"/><line x1="367.6" y1="132.0" x2="372.0" y2="128.0" stroke="#8f7ccc" stroke-width="0.5" stroke-opacity="0.8"/><line x1="367.6" y1="132.0" x2="374.5" y2="135.8" stroke="#8f7ccc" stroke-width="0.5" stroke-opacity="0.8"/><line x1="367.6" y1="132.0" x2="376.8" y2="128.0" stroke="#8f7ccc" stroke-width="0.5" stroke-opacity="0.8"/><line x1="354.1" y1="176.7" x2="353.7" y2="181.3" stroke="#8f7ccc" stroke-width="0.5" stroke-opacity="0.8"/><line x1="354.1" y1="176.7" x2="350.7" y2="182.2" stroke="#8f7ccc" stroke-width="0.5" stroke-opacity="0.8"/><line x1="354.1" y1="176.7" x2="346.4" y2="175.5" stroke="#8f7ccc" stroke-width="0.5" stroke-opacity="0.8"/><line x1="354.1" y1="176.7" x2="341.8" y2="179.5" stroke="#8f7ccc" stroke-width="0.5" stroke-opacity="0.8"/><line x1="353.7" y1="181.3" x2="350.7" y2="182.2" stroke="#8f7ccc" stroke-width="0.5" stroke-opacity="0.8"/><line x1="353.7" y1="181.3" x2="354.1" y2="176.7" stroke="#8f7ccc" stroke-width="0.5" stroke-opacity="0.8"/><line x1="353.7" y1="181.3" x2="346.4" y2="175.5" stroke="#8f7ccc" stroke-width="0.5" stroke-opacity="0.8"/><line x1="353.7" y1="181.3" x2="341.8" y2="179.5" stroke="#8f7ccc" stroke-width="0.5" stroke-opacity="0.8"/><line x1="324.3" y1="168.1" x2="326.0" y2="172.0" stroke="#8f7ccc" stroke-width="0.5" stroke-opacity="0.8"/><line x1="324.3" y1="168.1" x2="327.7" y2="159.2" stroke="#8f7ccc" stroke-width="0.5" stroke-opacity="0.8"/><line x1="324.3" y1="168.1" x2="315.0" y2="164.6" stroke="#8f7ccc" stroke-width="0.5" stroke-opacity="0.8"/><line x1="324.3" y1="168.1" x2="319.9" y2="179.4" stroke="#8f7ccc" stroke-width="0.5" stroke-opacity="0.8"/><line x1="328.9" y1="182.9" x2="334.5" y2="189.8" stroke="#8f7ccc" stroke-width="0.5" stroke-opacity="0.8"/><line x1="328.9" y1="182.9" x2="319.9" y2="179.4" stroke="#8f7ccc" stroke-width="0.5" stroke-opacity="0.8"/><line x1="328.9" y1="182.9" x2="326.0" y2="172.0" stroke="#8f7ccc" stroke-width="0.5" stroke-opacity="0.8"/><line x1="328.9" y1="182.9" x2="316.9" y2="185.5" stroke="#8f7ccc" stroke-width="0.5" stroke-opacity="0.8"/><line x1="368.9" y1="90.7" x2="368.3" y2="84.9" stroke="#8f7ccc" stroke-width="0.5" stroke-opacity="0.8"/><line x1="368.9" y1="90.7" x2="351.3" y2="87.5" stroke="#8f7ccc" stroke-width="0.5" stroke-opacity="0.8"/><line x1="368.9" y1="90.7" x2="349.8" y2="87.0" stroke="#8f7ccc" stroke-width="0.5" stroke-opacity="0.8"/><line x1="368.9" y1="90.7" x2="353.7" y2="103.2" stroke="#8f7ccc" stroke-width="0.5" stroke-opacity="0.8"/><line x1="300.5" y1="103.9" x2="296.5" y2="107.7" stroke="#8f7ccc" stroke-width="0.5" stroke-opacity="0.8"/><line x1="300.5" y1="103.9" x2="300.3" y2="95.2" stroke="#8f7ccc" stroke-width="0.5" stroke-opacity="0.8"/><line x1="300.5" y1="103.9" x2="311.9" y2="105.8" stroke="#8f7ccc" stroke-width="0.5" stroke-opacity="0.8"/><line x1="300.5" y1="103.9" x2="306.1" y2="93.2" stroke="#8f7ccc" stroke-width="0.5" stroke-opacity="0.8"/><line x1="376.8" y1="128.0" x2="379.6" y2="131.7" stroke="#8f7ccc" stroke-width="0.5" stroke-opacity="0.8"/><line x1="376.8" y1="128.0" x2="372.0" y2="128.0" stroke="#8f7ccc" stroke-width="0.5" stroke-opacity="0.8"/><line x1="376.8" y1="128.0" x2="374.5" y2="135.8" stroke="#8f7ccc" stroke-width="0.5" stroke-opacity="0.8"/><line x1="376.8" y1="128.0" x2="370.5" y2="121.6" stroke="#8f7ccc" stroke-width="0.5" stroke-opacity="0.8"/><line x1="345.7" y1="113.1" x2="342.0" y2="112.0" stroke="#8f7ccc" stroke-width="0.5" stroke-opacity="0.8"/><line x1="345.7" y1="113.1" x2="346.5" y2="121.1" stroke="#8f7ccc" stroke-width="0.5" stroke-opacity="0.8"/><line x1="345.7" y1="113.1" x2="354.1" y2="116.4" stroke="#8f7ccc" stroke-width="0.5" stroke-opacity="0.8"/><line x1="345.7" y1="113.1" x2="335.0" y2="106.7" stroke="#8f7ccc" stroke-width="0.5" stroke-opacity="0.8"/><line x1="334.7" y1="122.4" x2="331.1" y2="125.9" stroke="#8f7ccc" stroke-width="0.5" stroke-opacity="0.8"/><line x1="334.7" y1="122.4" x2="332.0" y2="115.3" stroke="#8f7ccc" stroke-width="0.5" stroke-opacity="0.8"/><line x1="334.7" y1="122.4" x2="337.8" y2="130.7" stroke="#8f7ccc" stroke-width="0.5" stroke-opacity="0.8"/><line x1="334.7" y1="122.4" x2="337.2" y2="131.3" stroke="#8f7ccc" stroke-width="0.5" stroke-opacity="0.8"/><line x1="320.3" y1="144.4" x2="319.5" y2="144.2" stroke="#8f7ccc" stroke-width="0.5" stroke-opacity="0.8"/><line x1="320.3" y1="144.4" x2="322.0" y2="146.4" stroke="#8f7ccc" stroke-width="0.5" stroke-opacity="0.8"/><line x1="320.3" y1="144.4" x2="317.6" y2="148.0" stroke="#8f7ccc" stroke-width="0.5" stroke-opacity="0.8"/><line x1="320.3" y1="144.4" x2="326.2" y2="143.8" stroke="#8f7ccc" stroke-width="0.5" stroke-opacity="0.8"/><line x1="341.8" y1="179.5" x2="346.4" y2="175.5" stroke="#8f7ccc" stroke-width="0.5" stroke-opacity="0.8"/><line x1="341.8" y1="179.5" x2="350.7" y2="182.2" stroke="#8f7ccc" stroke-width="0.5" stroke-opacity="0.8"/><line x1="341.8" y1="179.5" x2="353.7" y2="181.3" stroke="#8f7ccc" stroke-width="0.5" stroke-opacity="0.8"/><line x1="341.8" y1="179.5" x2="334.5" y2="189.8" stroke="#8f7ccc" stroke-width="0.5" stroke-opacity="0.8"/><line x1="350.7" y1="182.2" x2="353.7" y2="181.3" stroke="#8f7ccc" stroke-width="0.5" stroke-opacity="0.8"/><line x1="350.7" y1="182.2" x2="354.1" y2="176.7" stroke="#8f7ccc" stroke-width="0.5" stroke-opacity="0.8"/><line x1="350.7" y1="182.2" x2="346.4" y2="175.5" stroke="#8f7ccc" stroke-width="0.5" stroke-opacity="0.8"/><line x1="350.7" y1="182.2" x2="341.8" y2="179.5" stroke="#8f7ccc" stroke-width="0.5" stroke-opacity="0.8"/><line x1="366.8" y1="189.0" x2="366.6" y2="188.9" stroke="#8f7ccc" stroke-width="0.5" stroke-opacity="0.8"/><line x1="366.8" y1="189.0" x2="369.0" y2="187.9" stroke="#8f7ccc" stroke-width="0.5" stroke-opacity="0.8"/><line x1="366.8" y1="189.0" x2="367.2" y2="186.1" stroke="#8f7ccc" stroke-width="0.5" stroke-opacity="0.8"/><line x1="366.8" y1="189.0" x2="353.7" y2="181.3" stroke="#8f7ccc" stroke-width="0.5" stroke-opacity="0.8"/><line x1="349.8" y1="97.9" x2="346.8" y2="96.6" stroke="#8f7ccc" stroke-width="0.5" stroke-opacity="0.8"/><line x1="349.8" y1="97.9" x2="344.2" y2="97.2" stroke="#8f7ccc" stroke-width="0.5" stroke-opacity="0.8"/><line x1="349.8" y1="97.9" x2="353.7" y2="103.2" stroke="#8f7ccc" stroke-width="0.5" stroke-opacity="0.8"/><line x1="349.8" y1="97.9" x2="351.3" y2="87.5" stroke="#8f7ccc" stroke-width="0.5" stroke-opacity="0.8"/><line x1="367.2" y1="186.1" x2="369.0" y2="187.9" stroke="#8f7ccc" stroke-width="0.5" stroke-opacity="0.8"/><line x1="367.2" y1="186.1" x2="366.6" y2="188.9" stroke="#8f7ccc" stroke-width="0.5" stroke-opacity="0.8"/><line x1="367.2" y1="186.1" x2="366.8" y2="189.0" stroke="#8f7ccc" stroke-width="0.5" stroke-opacity="0.8"/><line x1="367.2" y1="186.1" x2="353.7" y2="181.3" stroke="#8f7ccc" stroke-width="0.5" stroke-opacity="0.8"/><line x1="371.2" y1="142.6" x2="364.5" y2="143.1" stroke="#8f7ccc" stroke-width="0.5" stroke-opacity="0.8"/><line x1="371.2" y1="142.6" x2="374.5" y2="135.8" stroke="#8f7ccc" stroke-width="0.5" stroke-opacity="0.8"/><line x1="371.2" y1="142.6" x2="378.0" y2="137.3" stroke="#8f7ccc" stroke-width="0.5" stroke-opacity="0.8"/><line x1="371.2" y1="142.6" x2="366.0" y2="150.0" stroke="#8f7ccc" stroke-width="0.5" stroke-opacity="0.8"/><line x1="353.7" y1="103.2" x2="349.8" y2="97.9" stroke="#8f7ccc" stroke-width="0.5" stroke-opacity="0.8"/><line x1="353.7" y1="103.2" x2="346.8" y2="96.6" stroke="#8f7ccc" stroke-width="0.5" stroke-opacity="0.8"/><line x1="353.7" y1="103.2" x2="344.2" y2="97.2" stroke="#8f7ccc" stroke-width="0.5" stroke-opacity="0.8"/><line x1="353.7" y1="103.2" x2="345.7" y2="113.1" stroke="#8f7ccc" stroke-width="0.5" stroke-opacity="0.8"/><line x1="364.5" y1="143.1" x2="371.2" y2="142.6" stroke="#8f7ccc" stroke-width="0.5" stroke-opacity="0.8"/><line x1="364.5" y1="143.1" x2="357.8" y2="145.0" stroke="#8f7ccc" stroke-width="0.5" stroke-opacity="0.8"/><line x1="364.5" y1="143.1" x2="366.0" y2="150.0" stroke="#8f7ccc" stroke-width="0.5" stroke-opacity="0.8"/><line x1="364.5" y1="143.1" x2="365.0" y2="132.4" stroke="#8f7ccc" stroke-width="0.5" stroke-opacity="0.8"/><line x1="314.2" y1="87.0" x2="316.5" y2="88.5" stroke="#8f7ccc" stroke-width="0.5" stroke-opacity="0.8"/><line x1="314.2" y1="87.0" x2="315.7" y2="83.4" stroke="#8f7ccc" stroke-width="0.5" stroke-opacity="0.8"/><line x1="314.2" y1="87.0" x2="320.5" y2="92.3" stroke="#8f7ccc" stroke-width="0.5" stroke-opacity="0.8"/><line x1="314.2" y1="87.0" x2="306.1" y2="93.2" stroke="#8f7ccc" stroke-width="0.5" stroke-opacity="0.8"/><line x1="366.6" y1="188.9" x2="366.8" y2="189.0" stroke="#8f7ccc" stroke-width="0.5" stroke-opacity="0.8"/><line x1="366.6" y1="188.9" x2="369.0" y2="187.9" stroke="#8f7ccc" stroke-width="0.5" stroke-opacity="0.8"/><line x1="366.6" y1="188.9" x2="367.2" y2="186.1" stroke="#8f7ccc" stroke-width="0.5" stroke-opacity="0.8"/><line x1="366.6" y1="188.9" x2="353.7" y2="181.3" stroke="#8f7ccc" stroke-width="0.5" stroke-opacity="0.8"/><line x1="296.1" y1="168.1" x2="289.2" y2="172.1" stroke="#8f7ccc" stroke-width="0.5" stroke-opacity="0.8"/><line x1="296.1" y1="168.1" x2="295.0" y2="160.0" stroke="#8f7ccc" stroke-width="0.5" stroke-opacity="0.8"/><line x1="296.1" y1="168.1" x2="291.9" y2="175.5" stroke="#8f7ccc" stroke-width="0.5" stroke-opacity="0.8"/><line x1="296.1" y1="168.1" x2="290.0" y2="174.6" stroke="#8f7ccc" stroke-width="0.5" stroke-opacity="0.8"/><line x1="325.8" y1="96.6" x2="324.3" y2="101.9" stroke="#8f7ccc" stroke-width="0.5" stroke-opacity="0.8"/><line x1="325.8" y1="96.6" x2="331.5" y2="97.1" stroke="#8f7ccc" stroke-width="0.5" stroke-opacity="0.8"/><line x1="325.8" y1="96.6" x2="320.5" y2="92.3" stroke="#8f7ccc" stroke-width="0.5" stroke-opacity="0.8"/><line x1="325.8" y1="96.6" x2="316.5" y2="88.5" stroke="#8f7ccc" stroke-width="0.5" stroke-opacity="0.8"/><line x1="315.0" y1="164.6" x2="310.0" y2="170.0" stroke="#8f7ccc" stroke-width="0.5" stroke-opacity="0.8"/><line x1="315.0" y1="164.6" x2="316.7" y2="154.8" stroke="#8f7ccc" stroke-width="0.5" stroke-opacity="0.8"/><line x1="315.0" y1="164.6" x2="324.3" y2="168.1" stroke="#8f7ccc" stroke-width="0.5" stroke-opacity="0.8"/><line x1="315.0" y1="164.6" x2="326.0" y2="172.0" stroke="#8f7ccc" stroke-width="0.5" stroke-opacity="0.8"/><line x1="368.3" y1="84.9" x2="368.9" y2="90.7" stroke="#8f7ccc" stroke-width="0.5" stroke-opacity="0.8"/><line x1="368.3" y1="84.9" x2="351.3" y2="87.5" stroke="#8f7ccc" stroke-width="0.5" stroke-opacity="0.8"/><line x1="368.3" y1="84.9" x2="349.8" y2="87.0" stroke="#8f7ccc" stroke-width="0.5" stroke-opacity="0.8"/><line x1="344.5" y1="84.9" x2="343.2" y2="83.5" stroke="#8f7ccc" stroke-width="0.5" stroke-opacity="0.8"/><line x1="344.5" y1="84.9" x2="346.2" y2="86.6" stroke="#8f7ccc" stroke-width="0.5" stroke-opacity="0.8"/><line x1="344.5" y1="84.9" x2="345.6" y2="87.2" stroke="#8f7ccc" stroke-width="0.5" stroke-opacity="0.8"/><line x1="344.5" y1="84.9" x2="349.8" y2="87.0" stroke="#8f7ccc" stroke-width="0.5" stroke-opacity="0.8"/><line x1="354.1" y1="116.4" x2="360.0" y2="118.0" stroke="#8f7ccc" stroke-width="0.5" stroke-opacity="0.8"/><line x1="354.1" y1="116.4" x2="346.5" y2="121.1" stroke="#8f7ccc" stroke-width="0.5" stroke-opacity="0.8"/><line x1="354.1" y1="116.4" x2="345.7" y2="113.1" stroke="#8f7ccc" stroke-width="0.5" stroke-opacity="0.8"/><line x1="354.1" y1="116.4" x2="342.0" y2="112.0" stroke="#8f7ccc" stroke-width="0.5" stroke-opacity="0.8"/><line x1="369.0" y1="187.9" x2="366.8" y2="189.0" stroke="#8f7ccc" stroke-width="0.5" stroke-opacity="0.8"/><line x1="369.0" y1="187.9" x2="367.2" y2="186.1" stroke="#8f7ccc" stroke-width="0.5" stroke-opacity="0.8"/><line x1="369.0" y1="187.9" x2="366.6" y2="188.9" stroke="#8f7ccc" stroke-width="0.5" stroke-opacity="0.8"/><line x1="369.0" y1="187.9" x2="353.7" y2="181.3" stroke="#8f7ccc" stroke-width="0.5" stroke-opacity="0.8"/><line x1="334.5" y1="189.8" x2="328.9" y2="182.9" stroke="#8f7ccc" stroke-width="0.5" stroke-opacity="0.8"/><line x1="334.5" y1="189.8" x2="341.8" y2="179.5" stroke="#8f7ccc" stroke-width="0.5" stroke-opacity="0.8"/><line x1="334.5" y1="189.8" x2="319.9" y2="179.4" stroke="#8f7ccc" stroke-width="0.5" stroke-opacity="0.8"/><line x1="334.5" y1="189.8" x2="350.7" y2="182.2" stroke="#8f7ccc" stroke-width="0.5" stroke-opacity="0.8"/><line x1="316.5" y1="88.5" x2="314.2" y2="87.0" stroke="#8f7ccc" stroke-width="0.5" stroke-opacity="0.8"/><line x1="316.5" y1="88.5" x2="315.7" y2="83.4" stroke="#8f7ccc" stroke-width="0.5" stroke-opacity="0.8"/><line x1="316.5" y1="88.5" x2="320.5" y2="92.3" stroke="#8f7ccc" stroke-width="0.5" stroke-opacity="0.8"/><line x1="316.5" y1="88.5" x2="306.1" y2="93.2" stroke="#8f7ccc" stroke-width="0.5" stroke-opacity="0.8"/><line x1="343.2" y1="83.5" x2="344.5" y2="84.9" stroke="#8f7ccc" stroke-width="0.5" stroke-opacity="0.8"/><line x1="343.2" y1="83.5" x2="346.2" y2="86.6" stroke="#8f7ccc" stroke-width="0.5" stroke-opacity="0.8"/><line x1="343.2" y1="83.5" x2="345.6" y2="87.2" stroke="#8f7ccc" stroke-width="0.5" stroke-opacity="0.8"/><line x1="343.2" y1="83.5" x2="338.5" y2="81.3" stroke="#8f7ccc" stroke-width="0.5" stroke-opacity="0.8"/><line x1="306.2" y1="124.9" x2="312.8" y2="129.8" stroke="#8f7ccc" stroke-width="0.5" stroke-opacity="0.8"/><line x1="306.2" y1="124.9" x2="312.3" y2="130.7" stroke="#8f7ccc" stroke-width="0.5" stroke-opacity="0.8"/><line x1="306.2" y1="124.9" x2="300.0" y2="118.0" stroke="#8f7ccc" stroke-width="0.5" stroke-opacity="0.8"/><line x1="306.2" y1="124.9" x2="296.1" y2="128.2" stroke="#8f7ccc" stroke-width="0.5" stroke-opacity="0.8"/><line x1="344.2" y1="97.2" x2="346.8" y2="96.6" stroke="#8f7ccc" stroke-width="0.5" stroke-opacity="0.8"/><line x1="344.2" y1="97.2" x2="349.8" y2="97.9" stroke="#8f7ccc" stroke-width="0.5" stroke-opacity="0.8"/><line x1="344.2" y1="97.2" x2="345.6" y2="87.2" stroke="#8f7ccc" stroke-width="0.5" stroke-opacity="0.8"/><line x1="344.2" y1="97.2" x2="346.2" y2="86.6" stroke="#8f7ccc" stroke-width="0.5" stroke-opacity="0.8"/><line x1="291.9" y1="175.5" x2="290.0" y2="174.6" stroke="#8f7ccc" stroke-width="0.5" stroke-opacity="0.8"/><line x1="291.9" y1="175.5" x2="289.2" y2="172.1" stroke="#8f7ccc" stroke-width="0.5" stroke-opacity="0.8"/><line x1="291.9" y1="175.5" x2="296.1" y2="168.1" stroke="#8f7ccc" stroke-width="0.5" stroke-opacity="0.8"/><line x1="291.9" y1="175.5" x2="300.0" y2="185.0" stroke="#8f7ccc" stroke-width="0.5" stroke-opacity="0.8"/><line x1="316.9" y1="185.5" x2="319.9" y2="179.4" stroke="#8f7ccc" stroke-width="0.5" stroke-opacity="0.8"/><line x1="316.9" y1="185.5" x2="328.9" y2="182.9" stroke="#8f7ccc" stroke-width="0.5" stroke-opacity="0.8"/><line x1="316.9" y1="185.5" x2="326.0" y2="172.0" stroke="#8f7ccc" stroke-width="0.5" stroke-opacity="0.8"/><line x1="316.9" y1="185.5" x2="300.0" y2="185.0" stroke="#8f7ccc" stroke-width="0.5" stroke-opacity="0.8"/><line x1="370.5" y1="121.6" x2="372.0" y2="128.0" stroke="#8f7ccc" stroke-width="0.5" stroke-opacity="0.8"/><line x1="370.5" y1="121.6" x2="376.8" y2="128.0" stroke="#8f7ccc" stroke-width="0.5" stroke-opacity="0.8"/><line x1="370.5" y1="121.6" x2="367.6" y2="132.0" stroke="#8f7ccc" stroke-width="0.5" stroke-opacity="0.8"/><line x1="370.5" y1="121.6" x2="360.0" y2="118.0" stroke="#8f7ccc" stroke-width="0.5" stroke-opacity="0.8"/><line x1="330.4" y1="137.2" x2="329.2" y2="137.5" stroke="#8f7ccc" stroke-width="0.5" stroke-opacity="0.8"/><line x1="330.4" y1="137.2" x2="325.3" y2="136.5" stroke="#8f7ccc" stroke-width="0.5" stroke-opacity="0.8"/><line x1="330.4" y1="137.2" x2="334.0" y2="142.3" stroke="#8f7ccc" stroke-width="0.5" stroke-opacity="0.8"/><line x1="330.4" y1="137.2" x2="325.8" y2="131.0" stroke="#8f7ccc" stroke-width="0.5" stroke-opacity="0.8"/><line x1="347.2" y1="145.5" x2="347.0" y2="146.0" stroke="#8f7ccc" stroke-width="0.5" stroke-opacity="0.8"/><line x1="347.2" y1="145.5" x2="339.5" y2="148.2" stroke="#8f7ccc" stroke-width="0.5" stroke-opacity="0.8"/><line x1="347.2" y1="145.5" x2="357.8" y2="145.0" stroke="#8f7ccc" stroke-width="0.5" stroke-opacity="0.8"/><line x1="347.2" y1="145.5" x2="334.0" y2="142.3" stroke="#8f7ccc" stroke-width="0.5" stroke-opacity="0.8"/><line x1="339.5" y1="148.2" x2="347.0" y2="146.0" stroke="#8f7ccc" stroke-width="0.5" stroke-opacity="0.8"/><line x1="339.5" y1="148.2" x2="334.0" y2="142.3" stroke="#8f7ccc" stroke-width="0.5" stroke-opacity="0.8"/><line x1="339.5" y1="148.2" x2="347.2" y2="145.5" stroke="#8f7ccc" stroke-width="0.5" stroke-opacity="0.8"/><line x1="339.5" y1="148.2" x2="332.0" y2="152.8" stroke="#8f7ccc" stroke-width="0.5" stroke-opacity="0.8"/><line x1="374.5" y1="135.8" x2="378.0" y2="137.3" stroke="#8f7ccc" stroke-width="0.5" stroke-opacity="0.8"/><line x1="374.5" y1="135.8" x2="379.6" y2="131.7" stroke="#8f7ccc" stroke-width="0.5" stroke-opacity="0.8"/><line x1="374.5" y1="135.8" x2="371.2" y2="142.6" stroke="#8f7ccc" stroke-width="0.5" stroke-opacity="0.8"/><line x1="374.5" y1="135.8" x2="367.6" y2="132.0" stroke="#8f7ccc" stroke-width="0.5" stroke-opacity="0.8"/><line x1="327.7" y1="159.2" x2="332.0" y2="152.8" stroke="#8f7ccc" stroke-width="0.5" stroke-opacity="0.8"/><line x1="327.7" y1="159.2" x2="336.1" y2="161.5" stroke="#8f7ccc" stroke-width="0.5" stroke-opacity="0.8"/><line x1="327.7" y1="159.2" x2="324.3" y2="168.1" stroke="#8f7ccc" stroke-width="0.5" stroke-opacity="0.8"/><line x1="327.7" y1="159.2" x2="327.2" y2="149.0" stroke="#8f7ccc" stroke-width="0.5" stroke-opacity="0.8"/><line x1="309.9" y1="113.1" x2="311.9" y2="105.8" stroke="#8f7ccc" stroke-width="0.5" stroke-opacity="0.8"/><line x1="309.9" y1="113.1" x2="300.0" y2="118.0" stroke="#8f7ccc" stroke-width="0.5" stroke-opacity="0.8"/><line x1="309.9" y1="113.1" x2="306.2" y2="124.9" stroke="#8f7ccc" stroke-width="0.5" stroke-opacity="0.8"/><line x1="309.9" y1="113.1" x2="300.5" y2="103.9" stroke="#8f7ccc" stroke-width="0.5" stroke-opacity="0.8"/><line x1="378.0" y1="137.3" x2="374.5" y2="135.8" stroke="#8f7ccc" stroke-width="0.5" stroke-opacity="0.8"/><line x1="378.0" y1="137.3" x2="379.6" y2="131.7" stroke="#8f7ccc" stroke-width="0.5" stroke-opacity="0.8"/><line x1="378.0" y1="137.3" x2="371.2" y2="142.6" stroke="#8f7ccc" stroke-width="0.5" stroke-opacity="0.8"/><line x1="378.0" y1="137.3" x2="376.8" y2="128.0" stroke="#8f7ccc" stroke-width="0.5" stroke-opacity="0.8"/><line x1="338.5" y1="81.3" x2="343.2" y2="83.5" stroke="#8f7ccc" stroke-width="0.5" stroke-opacity="0.8"/><line x1="338.5" y1="81.3" x2="344.5" y2="84.9" stroke="#8f7ccc" stroke-width="0.5" stroke-opacity="0.8"/><line x1="338.5" y1="81.3" x2="336.8" y2="88.4" stroke="#8f7ccc" stroke-width="0.5" stroke-opacity="0.8"/><line x1="338.5" y1="81.3" x2="345.6" y2="87.2" stroke="#8f7ccc" stroke-width="0.5" stroke-opacity="0.8"/><line x1="326.2" y1="143.8" x2="322.0" y2="146.4" stroke="#8f7ccc" stroke-width="0.5" stroke-opacity="0.8"/><line x1="326.2" y1="143.8" x2="327.2" y2="149.0" stroke="#8f7ccc" stroke-width="0.5" stroke-opacity="0.8"/><line x1="326.2" y1="143.8" x2="320.3" y2="144.4" stroke="#8f7ccc" stroke-width="0.5" stroke-opacity="0.8"/><line x1="326.2" y1="143.8" x2="322.4" y2="138.4" stroke="#8f7ccc" stroke-width="0.5" stroke-opacity="0.8"/><line x1="289.8" y1="147.7" x2="285.9" y2="141.7" stroke="#8f7ccc" stroke-width="0.5" stroke-opacity="0.8"/><line x1="289.8" y1="147.7" x2="295.0" y2="160.0" stroke="#8f7ccc" stroke-width="0.5" stroke-opacity="0.8"/><line x1="289.8" y1="147.7" x2="301.3" y2="139.4" stroke="#8f7ccc" stroke-width="0.5" stroke-opacity="0.8"/><line x1="289.8" y1="147.7" x2="305.0" y2="150.0" stroke="#8f7ccc" stroke-width="0.5" stroke-opacity="0.8"/><line x1="346.2" y1="86.6" x2="345.6" y2="87.2" stroke="#8f7ccc" stroke-width="0.5" stroke-opacity="0.8"/><line x1="346.2" y1="86.6" x2="344.5" y2="84.9" stroke="#8f7ccc" stroke-width="0.5" stroke-opacity="0.8"/><line x1="346.2" y1="86.6" x2="349.8" y2="87.0" stroke="#8f7ccc" stroke-width="0.5" stroke-opacity="0.8"/><line x1="346.2" y1="86.6" x2="343.2" y2="83.5" stroke="#8f7ccc" stroke-width="0.5" stroke-opacity="0.8"/><line x1="315.5" y1="157.5" x2="316.1" y2="178.9" stroke="#5a3c9e" stroke-width="0.7" stroke-opacity="0.75"/><line x1="315.5" y1="157.5" x2="318.6" y2="175.3" stroke="#5a3c9e" stroke-width="0.7" stroke-opacity="0.75"/><line x1="315.5" y1="157.5" x2="319.9" y2="187.6" stroke="#5a3c9e" stroke-width="0.7" stroke-opacity="0.75"/><line x1="315.5" y1="157.5" x2="287.1" y2="165.9" stroke="#5a3c9e" stroke-width="0.7" stroke-opacity="0.75"/><line x1="315.5" y1="157.5" x2="318.4" y2="194.8" stroke="#5a3c9e" stroke-width="0.7" stroke-opacity="0.75"/><line x1="315.5" y1="157.5" x2="298.1" y2="178.6" stroke="#5a3c9e" stroke-width="0.7" stroke-opacity="0.75"/><line x1="315.5" y1="157.5" x2="314.4" y2="174.2" stroke="#5a3c9e" stroke-width="0.7" stroke-opacity="0.75"/><line x1="315.5" y1="157.5" x2="303.5" y2="174.0" stroke="#5a3c9e" stroke-width="0.7" stroke-opacity="0.75"/><line x1="316.1" y1="178.9" x2="318.6" y2="175.3" stroke="#7a64bc" stroke-width="0.55" stroke-opacity="0.75"/><line x1="316.1" y1="178.9" x2="314.4" y2="174.2" stroke="#7a64bc" stroke-width="0.55" stroke-opacity="0.75"/><line x1="316.1" y1="178.9" x2="313.3" y2="187.5" stroke="#7a64bc" stroke-width="0.55" stroke-opacity="0.75"/><line x1="318.6" y1="175.3" x2="314.4" y2="174.2" stroke="#7a64bc" stroke-width="0.55" stroke-opacity="0.75"/><line x1="318.6" y1="175.3" x2="316.1" y2="178.9" stroke="#7a64bc" stroke-width="0.55" stroke-opacity="0.75"/><line x1="318.6" y1="175.3" x2="324.6" y2="171.6" stroke="#7a64bc" stroke-width="0.55" stroke-opacity="0.75"/><line x1="319.9" y1="187.6" x2="313.3" y2="187.5" stroke="#7a64bc" stroke-width="0.55" stroke-opacity="0.75"/><line x1="319.9" y1="187.6" x2="318.4" y2="194.8" stroke="#7a64bc" stroke-width="0.55" stroke-opacity="0.75"/><line x1="319.9" y1="187.6" x2="316.1" y2="178.9" stroke="#7a64bc" stroke-width="0.55" stroke-opacity="0.75"/><line x1="287.1" y1="165.9" x2="300.9" y2="171.1" stroke="#7a64bc" stroke-width="0.55" stroke-opacity="0.75"/><line x1="287.1" y1="165.9" x2="300.4" y2="176.1" stroke="#7a64bc" stroke-width="0.55" stroke-opacity="0.75"/><line x1="287.1" y1="165.9" x2="298.1" y2="178.6" stroke="#7a64bc" stroke-width="0.55" stroke-opacity="0.75"/><line x1="318.4" y1="194.8" x2="319.9" y2="187.6" stroke="#7a64bc" stroke-width="0.55" stroke-opacity="0.75"/><line x1="318.4" y1="194.8" x2="313.3" y2="187.5" stroke="#7a64bc" stroke-width="0.55" stroke-opacity="0.75"/><line x1="318.4" y1="194.8" x2="316.1" y2="178.9" stroke="#7a64bc" stroke-width="0.55" stroke-opacity="0.75"/><line x1="298.1" y1="178.6" x2="300.4" y2="176.1" stroke="#7a64bc" stroke-width="0.55" stroke-opacity="0.75"/><line x1="298.1" y1="178.6" x2="303.5" y2="174.0" stroke="#7a64bc" stroke-width="0.55" stroke-opacity="0.75"/><line x1="298.1" y1="178.6" x2="303.7" y2="183.1" stroke="#7a64bc" stroke-width="0.55" stroke-opacity="0.75"/><line x1="314.4" y1="174.2" x2="318.6" y2="175.3" stroke="#7a64bc" stroke-width="0.55" stroke-opacity="0.75"/><line x1="314.4" y1="174.2" x2="316.1" y2="178.9" stroke="#7a64bc" stroke-width="0.55" stroke-opacity="0.75"/><line x1="314.4" y1="174.2" x2="324.6" y2="171.6" stroke="#7a64bc" stroke-width="0.55" stroke-opacity="0.75"/><line x1="303.5" y1="174.0" x2="300.4" y2="176.1" stroke="#7a64bc" stroke-width="0.55" stroke-opacity="0.75"/><line x1="303.5" y1="174.0" x2="300.9" y2="171.1" stroke="#7a64bc" stroke-width="0.55" stroke-opacity="0.75"/><line x1="303.5" y1="174.0" x2="298.1" y2="178.6" stroke="#7a64bc" stroke-width="0.55" stroke-opacity="0.75"/><line x1="303.7" y1="183.1" x2="298.1" y2="178.6" stroke="#7a64bc" stroke-width="0.55" stroke-opacity="0.75"/><line x1="303.7" y1="183.1" x2="300.4" y2="176.1" stroke="#7a64bc" stroke-width="0.55" stroke-opacity="0.75"/><line x1="303.7" y1="183.1" x2="303.5" y2="174.0" stroke="#7a64bc" stroke-width="0.55" stroke-opacity="0.75"/><line x1="300.4" y1="176.1" x2="298.1" y2="178.6" stroke="#7a64bc" stroke-width="0.55" stroke-opacity="0.75"/><line x1="300.4" y1="176.1" x2="303.5" y2="174.0" stroke="#7a64bc" stroke-width="0.55" stroke-opacity="0.75"/><line x1="300.4" y1="176.1" x2="300.9" y2="171.1" stroke="#7a64bc" stroke-width="0.55" stroke-opacity="0.75"/><line x1="323.1" y1="164.9" x2="324.6" y2="171.6" stroke="#7a64bc" stroke-width="0.55" stroke-opacity="0.75"/><line x1="323.1" y1="164.9" x2="318.6" y2="175.3" stroke="#7a64bc" stroke-width="0.55" stroke-opacity="0.75"/><line x1="323.1" y1="164.9" x2="314.4" y2="174.2" stroke="#7a64bc" stroke-width="0.55" stroke-opacity="0.75"/><line x1="313.3" y1="187.5" x2="319.9" y2="187.6" stroke="#7a64bc" stroke-width="0.55" stroke-opacity="0.75"/><line x1="313.3" y1="187.5" x2="318.4" y2="194.8" stroke="#7a64bc" stroke-width="0.55" stroke-opacity="0.75"/><line x1="313.3" y1="187.5" x2="316.1" y2="178.9" stroke="#7a64bc" stroke-width="0.55" stroke-opacity="0.75"/><line x1="300.9" y1="171.1" x2="303.5" y2="174.0" stroke="#7a64bc" stroke-width="0.55" stroke-opacity="0.75"/><line x1="300.9" y1="171.1" x2="300.4" y2="176.1" stroke="#7a64bc" stroke-width="0.55" stroke-opacity="0.75"/><line x1="300.9" y1="171.1" x2="298.1" y2="178.6" stroke="#7a64bc" stroke-width="0.55" stroke-opacity="0.75"/><line x1="324.6" y1="171.6" x2="323.1" y2="164.9" stroke="#7a64bc" stroke-width="0.55" stroke-opacity="0.75"/><line x1="324.6" y1="171.6" x2="318.6" y2="175.3" stroke="#7a64bc" stroke-width="0.55" stroke-opacity="0.75"/><line x1="324.6" y1="171.6" x2="314.4" y2="174.2" stroke="#7a64bc" stroke-width="0.55" stroke-opacity="0.75"/><line x1="308.4" y1="126.1" x2="315.6" y2="125.0" stroke="#5b3f9e" stroke-width="0.5" stroke-opacity="0.55"/><line x1="329.8" y1="131.1" x2="337.5" y2="126.3" stroke="#5b3f9e" stroke-width="0.5" stroke-opacity="0.55"/><line x1="315.2" y1="139.0" x2="318.9" y2="124.6" stroke="#5b3f9e" stroke-width="0.5" stroke-opacity="0.55"/><line x1="341.6" y1="153.8" x2="339.6" y2="159.2" stroke="#5b3f9e" stroke-width="0.5" stroke-opacity="0.55"/><line x1="338.5" y1="110.2" x2="323.8" y2="111.4" stroke="#5b3f9e" stroke-width="0.5" stroke-opacity="0.55"/><line x1="336.5" y1="102.7" x2="341.4" y2="109.4" stroke="#5b3f9e" stroke-width="0.5" stroke-opacity="0.55"/><line x1="315.6" y1="125.0" x2="310.2" y2="104.1" stroke="#5b3f9e" stroke-width="0.5" stroke-opacity="0.55"/><line x1="310.2" y1="104.1" x2="331.4" y2="106.1" stroke="#5b3f9e" stroke-width="0.5" stroke-opacity="0.55"/><line x1="339.8" y1="127.1" x2="337.5" y2="126.3" stroke="#5b3f9e" stroke-width="0.5" stroke-opacity="0.55"/><line x1="326.5" y1="117.2" x2="337.5" y2="126.3" stroke="#5b3f9e" stroke-width="0.5" stroke-opacity="0.55"/><line x1="310.2" y1="104.1" x2="323.8" y2="111.4" stroke="#5b3f9e" stroke-width="0.5" stroke-opacity="0.55"/><line x1="341.6" y1="153.8" x2="340.7" y2="141.6" stroke="#5b3f9e" stroke-width="0.5" stroke-opacity="0.55"/><line x1="308.4" y1="126.1" x2="315.6" y2="125.0" stroke="#5b3f9e" stroke-width="0.5" stroke-opacity="0.55"/><line x1="319.5" y1="157.0" x2="300.2" y2="156.6" stroke="#5b3f9e" stroke-width="0.5" stroke-opacity="0.55"/><line x1="336.5" y1="102.7" x2="336.3" y2="120.7" stroke="#5b3f9e" stroke-width="0.5" stroke-opacity="0.55"/><line x1="331.4" y1="106.1" x2="313.0" y2="120.5" stroke="#5b3f9e" stroke-width="0.5" stroke-opacity="0.55"/><line x1="323.8" y1="111.4" x2="310.1" y2="107.3" stroke="#5b3f9e" stroke-width="0.5" stroke-opacity="0.55"/><line x1="318.9" y1="124.6" x2="318.9" y2="124.6" stroke="#5b3f9e" stroke-width="0.5" stroke-opacity="0.55"/><line x1="315.6" y1="125.0" x2="308.3" y2="116.7" stroke="#5b3f9e" stroke-width="0.5" stroke-opacity="0.55"/><line x1="313.0" y1="120.5" x2="326.5" y2="117.2" stroke="#5b3f9e" stroke-width="0.5" stroke-opacity="0.55"/><line x1="331.4" y1="106.1" x2="313.0" y2="120.5" stroke="#5b3f9e" stroke-width="0.5" stroke-opacity="0.55"/><line x1="338.5" y1="110.2" x2="331.4" y2="106.1" stroke="#5b3f9e" stroke-width="0.5" stroke-opacity="0.55"/><line x1="337.5" y1="126.3" x2="331.4" y2="106.1" stroke="#5b3f9e" stroke-width="0.5" stroke-opacity="0.55"/><line x1="314.5" y1="120.0" x2="315.6" y2="125.0" stroke="#5b3f9e" stroke-width="0.5" stroke-opacity="0.55"/><line x1="331.4" y1="106.1" x2="336.5" y2="102.7" stroke="#5b3f9e" stroke-width="0.5" stroke-opacity="0.55"/><line x1="318.9" y1="124.6" x2="318.9" y2="124.6" stroke="#5b3f9e" stroke-width="0.5" stroke-opacity="0.55"/><line x1="315.6" y1="125.0" x2="308.3" y2="116.7" stroke="#5b3f9e" stroke-width="0.5" stroke-opacity="0.55"/><line x1="315.2" y1="139.0" x2="308.3" y2="116.7" stroke="#5b3f9e" stroke-width="0.5" stroke-opacity="0.55"/><line x1="336.3" y1="150.3" x2="336.3" y2="138.5" stroke="#5b3f9e" stroke-width="0.5" stroke-opacity="0.55"/><line x1="323.8" y1="111.4" x2="339.8" y2="127.1" stroke="#5b3f9e" stroke-width="0.5" stroke-opacity="0.55"/><line x1="308.3" y1="116.7" x2="305.8" y2="117.5" stroke="#5b3f9e" stroke-width="0.5" stroke-opacity="0.55"/><line x1="310.9" y1="108.6" x2="325.5" y2="106.4" stroke="#55369a" stroke-width="1.2" stroke-opacity="0.85"/><line x1="310.9" y1="108.6" x2="323.0" y2="114.9" stroke="#55369a" stroke-width="1.2" stroke-opacity="0.85"/><line x1="310.9" y1="108.6" x2="321.0" y2="115.7" stroke="#55369a" stroke-width="1.2" stroke-opacity="0.85"/><line x1="310.9" y1="108.6" x2="317.4" y2="122.2" stroke="#55369a" stroke-width="1.2" stroke-opacity="0.85"/><line x1="310.9" y1="108.6" x2="309.4" y2="122.1" stroke="#55369a" stroke-width="1.2" stroke-opacity="0.85"/><line x1="310.9" y1="108.6" x2="303.4" y2="121.8" stroke="#55369a" stroke-width="1.2" stroke-opacity="0.85"/><line x1="310.9" y1="108.6" x2="301.6" y2="118.5" stroke="#55369a" stroke-width="1.2" stroke-opacity="0.85"/><line x1="310.9" y1="108.6" x2="296.4" y2="114.6" stroke="#55369a" stroke-width="1.2" stroke-opacity="0.85"/><line x1="310.9" y1="108.6" x2="295.3" y2="109.1" stroke="#55369a" stroke-width="1.2" stroke-opacity="0.85"/><line x1="310.9" y1="108.6" x2="299.0" y2="103.9" stroke="#55369a" stroke-width="1.2" stroke-opacity="0.85"/><line x1="310.9" y1="108.6" x2="300.0" y2="97.4" stroke="#55369a" stroke-width="1.2" stroke-opacity="0.85"/><line x1="310.9" y1="108.6" x2="303.5" y2="96.8" stroke="#55369a" stroke-width="1.2" stroke-opacity="0.85"/><line x1="310.9" y1="108.6" x2="310.4" y2="91.8" stroke="#55369a" stroke-width="1.2" stroke-opacity="0.85"/><line x1="310.9" y1="108.6" x2="318.2" y2="97.1" stroke="#55369a" stroke-width="1.2" stroke-opacity="0.85"/><line x1="310.9" y1="108.6" x2="324.1" y2="99.1" stroke="#55369a" stroke-width="1.2" stroke-opacity="0.85"/><line x1="310.9" y1="108.6" x2="323.4" y2="102.0" stroke="#55369a" stroke-width="1.2" stroke-opacity="0.85"/><line x1="310.9" y1="108.6" x2="300.3" y2="95.2" stroke="#55369a" stroke-width="1.0" stroke-opacity="0.8"/><line x1="310.9" y1="108.6" x2="324.3" y2="101.9" stroke="#55369a" stroke-width="1.0" stroke-opacity="0.8"/><line x1="310.9" y1="108.6" x2="296.5" y2="107.7" stroke="#55369a" stroke-width="1.0" stroke-opacity="0.8"/><line x1="310.9" y1="108.6" x2="306.1" y2="93.2" stroke="#55369a" stroke-width="1.0" stroke-opacity="0.8"/><line x1="310.9" y1="108.6" x2="318.6" y2="123.0" stroke="#55369a" stroke-width="1.0" stroke-opacity="0.8"/><line x1="310.9" y1="108.6" x2="312.8" y2="129.8" stroke="#55369a" stroke-width="1.0" stroke-opacity="0.8"/><line x1="310.9" y1="108.6" x2="296.1" y2="128.2" stroke="#55369a" stroke-width="1.0" stroke-opacity="0.8"/><line x1="310.9" y1="108.6" x2="320.5" y2="92.3" stroke="#55369a" stroke-width="1.0" stroke-opacity="0.8"/><line x1="355.1" y1="133.6" x2="374.1" y2="129.2" stroke="#55369a" stroke-width="1.0" stroke-opacity="0.85"/><line x1="355.1" y1="133.6" x2="373.9" y2="140.6" stroke="#55369a" stroke-width="1.0" stroke-opacity="0.85"/><line x1="355.1" y1="133.6" x2="369.2" y2="145.4" stroke="#55369a" stroke-width="1.0" stroke-opacity="0.85"/><line x1="355.1" y1="133.6" x2="365.7" y2="147.7" stroke="#55369a" stroke-width="1.0" stroke-opacity="0.85"/><line x1="355.1" y1="133.6" x2="367.4" y2="146.5" stroke="#55369a" stroke-width="1.0" stroke-opacity="0.85"/><line x1="355.1" y1="133.6" x2="362.7" y2="145.8" stroke="#55369a" stroke-width="1.0" stroke-opacity="0.85"/><line x1="355.1" y1="133.6" x2="352.9" y2="147.1" stroke="#55369a" stroke-width="1.0" stroke-opacity="0.85"/><line x1="355.1" y1="133.6" x2="354.9" y2="147.7" stroke="#55369a" stroke-width="1.0" stroke-opacity="0.85"/><line x1="355.1" y1="133.6" x2="345.1" y2="144.3" stroke="#55369a" stroke-width="1.0" stroke-opacity="0.85"/><line x1="355.1" y1="133.6" x2="345.7" y2="150.9" stroke="#55369a" stroke-width="1.0" stroke-opacity="0.85"/><line x1="355.1" y1="133.6" x2="340.7" y2="147.0" stroke="#55369a" stroke-width="1.0" stroke-opacity="0.85"/><line x1="355.1" y1="133.6" x2="335.7" y2="136.7" stroke="#55369a" stroke-width="1.0" stroke-opacity="0.85"/><line x1="355.1" y1="133.6" x2="338.0" y2="128.9" stroke="#55369a" stroke-width="1.0" stroke-opacity="0.85"/><line x1="355.1" y1="133.6" x2="342.8" y2="127.8" stroke="#55369a" stroke-width="1.0" stroke-opacity="0.85"/><line x1="355.1" y1="133.6" x2="341.8" y2="122.7" stroke="#55369a" stroke-width="1.0" stroke-opacity="0.85"/><line x1="355.1" y1="133.6" x2="346.5" y2="122.4" stroke="#55369a" stroke-width="1.0" stroke-opacity="0.85"/><line x1="355.1" y1="133.6" x2="347.6" y2="114.6" stroke="#55369a" stroke-width="1.0" stroke-opacity="0.85"/><line x1="355.1" y1="133.6" x2="347.2" y2="120.0" stroke="#55369a" stroke-width="1.0" stroke-opacity="0.85"/><line x1="355.1" y1="133.6" x2="355.9" y2="114.0" stroke="#55369a" stroke-width="1.0" stroke-opacity="0.85"/><line x1="355.1" y1="133.6" x2="356.7" y2="119.0" stroke="#55369a" stroke-width="1.0" stroke-opacity="0.85"/><line x1="355.1" y1="133.6" x2="361.7" y2="116.9" stroke="#55369a" stroke-width="1.0" stroke-opacity="0.85"/><line x1="355.1" y1="133.6" x2="368.2" y2="124.0" stroke="#55369a" stroke-width="1.0" stroke-opacity="0.85"/><line x1="355.1" y1="133.6" x2="368.5" y2="124.3" stroke="#55369a" stroke-width="1.0" stroke-opacity="0.85"/><line x1="355.1" y1="133.6" x2="370.6" y2="127.9" stroke="#55369a" stroke-width="1.0" stroke-opacity="0.85"/><line x1="333.5" y1="161.4" x2="333.5" y2="161.4" stroke="#5b3f9e" stroke-width="0.55" stroke-opacity="0.6"/><line x1="370.4" y1="107.4" x2="361.0" y2="127.2" stroke="#5b3f9e" stroke-width="0.55" stroke-opacity="0.6"/><line x1="373.7" y1="127.2" x2="370.6" y2="154.8" stroke="#5b3f9e" stroke-width="0.55" stroke-opacity="0.6"/><line x1="342.7" y1="145.7" x2="331.0" y2="143.9" stroke="#5b3f9e" stroke-width="0.55" stroke-opacity="0.6"/><line x1="356.4" y1="109.2" x2="372.7" y2="100.8" stroke="#5b3f9e" stroke-width="0.55" stroke-opacity="0.6"/><line x1="335.7" y1="140.7" x2="350.3" y2="150.1" stroke="#5b3f9e" stroke-width="0.55" stroke-opacity="0.6"/><line x1="350.9" y1="117.6" x2="356.4" y2="109.2" stroke="#5b3f9e" stroke-width="0.55" stroke-opacity="0.6"/><line x1="335.7" y1="140.7" x2="331.0" y2="143.9" stroke="#5b3f9e" stroke-width="0.55" stroke-opacity="0.6"/><line x1="350.9" y1="133.1" x2="361.9" y2="144.4" stroke="#5b3f9e" stroke-width="0.55" stroke-opacity="0.6"/><line x1="350.9" y1="117.6" x2="342.3" y2="120.5" stroke="#5b3f9e" stroke-width="0.55" stroke-opacity="0.6"/><line x1="336.4" y1="132.2" x2="349.0" y2="141.8" stroke="#5b3f9e" stroke-width="0.55" stroke-opacity="0.6"/><line x1="336.4" y1="132.2" x2="350.3" y2="150.1" stroke="#5b3f9e" stroke-width="0.55" stroke-opacity="0.6"/><line x1="338.2" y1="141.7" x2="331.0" y2="143.9" stroke="#5b3f9e" stroke-width="0.55" stroke-opacity="0.6"/><line x1="349.0" y1="141.8" x2="333.5" y2="161.4" stroke="#5b3f9e" stroke-width="0.55" stroke-opacity="0.6"/><line x1="336.4" y1="132.2" x2="338.2" y2="141.7" stroke="#5b3f9e" stroke-width="0.55" stroke-opacity="0.6"/><line x1="336.4" y1="132.2" x2="361.0" y2="127.2" stroke="#5b3f9e" stroke-width="0.55" stroke-opacity="0.6"/><line x1="342.3" y1="120.5" x2="351.0" y2="141.9" stroke="#5b3f9e" stroke-width="0.55" stroke-opacity="0.6"/><line x1="337.3" y1="91.7" x2="337.3" y2="91.7" stroke="#5b3f9e" stroke-width="0.55" stroke-opacity="0.6"/><line x1="368.7" y1="130.1" x2="361.9" y2="144.4" stroke="#5b3f9e" stroke-width="0.55" stroke-opacity="0.6"/><line x1="373.7" y1="127.2" x2="364.9" y2="101.6" stroke="#5b3f9e" stroke-width="0.55" stroke-opacity="0.6"/><line x1="333.5" y1="161.4" x2="351.0" y2="141.9" stroke="#5b3f9e" stroke-width="0.55" stroke-opacity="0.6"/><line x1="361.0" y1="127.2" x2="350.9" y2="133.1" stroke="#5b3f9e" stroke-width="0.55" stroke-opacity="0.6"/><line x1="363.9" y1="96.2" x2="372.7" y2="100.8" stroke="#5b3f9e" stroke-width="0.55" stroke-opacity="0.6"/><line x1="331.0" y1="143.9" x2="342.3" y2="120.5" stroke="#5b3f9e" stroke-width="0.55" stroke-opacity="0.6"/><line x1="331.0" y1="143.9" x2="336.4" y2="132.2" stroke="#5b3f9e" stroke-width="0.55" stroke-opacity="0.6"/><line x1="342.4" y1="106.7" x2="342.3" y2="120.5" stroke="#5b3f9e" stroke-width="0.55" stroke-opacity="0.6"/><line x1="330.8" y1="150.0" x2="349.0" y2="141.8" stroke="#5b3f9e" stroke-width="0.55" stroke-opacity="0.6"/><line x1="335.7" y1="109.2" x2="342.3" y2="120.5" stroke="#5b3f9e" stroke-width="0.55" stroke-opacity="0.6"/><line x1="336.4" y1="132.2" x2="342.4" y2="106.7" stroke="#5b3f9e" stroke-width="0.55" stroke-opacity="0.6"/><line x1="350.9" y1="117.6" x2="376.6" y2="119.7" stroke="#5b3f9e" stroke-width="0.55" stroke-opacity="0.6"/><line x1="350.3" y1="106.5" x2="370.5" y2="118.8" stroke="#5b3f9e" stroke-width="0.55" stroke-opacity="0.6"/><line x1="335.7" y1="140.7" x2="335.0" y2="116.0" stroke="#5b3f9e" stroke-width="0.55" stroke-opacity="0.6"/><line x1="336.4" y1="132.2" x2="335.7" y2="140.7" stroke="#5b3f9e" stroke-width="0.55" stroke-opacity="0.6"/><line x1="330.3" y1="126.0" x2="336.4" y2="132.2" stroke="#7a62b8" stroke-width="0.5" stroke-opacity="0.7"/><line x1="330.3" y1="126.0" x2="335.0" y2="116.0" stroke="#7a62b8" stroke-width="0.5" stroke-opacity="0.7"/><line x1="330.3" y1="126.0" x2="342.3" y2="120.5" stroke="#7a62b8" stroke-width="0.5" stroke-opacity="0.7"/><line x1="376.6" y1="119.7" x2="370.5" y2="118.8" stroke="#7a62b8" stroke-width="0.5" stroke-opacity="0.7"/><line x1="376.6" y1="119.7" x2="373.7" y2="127.2" stroke="#7a62b8" stroke-width="0.5" stroke-opacity="0.7"/><line x1="376.6" y1="119.7" x2="368.7" y2="130.1" stroke="#7a62b8" stroke-width="0.5" stroke-opacity="0.7"/><line x1="364.9" y1="101.6" x2="363.9" y2="96.2" stroke="#7a62b8" stroke-width="0.5" stroke-opacity="0.7"/><line x1="364.9" y1="101.6" x2="372.7" y2="100.8" stroke="#7a62b8" stroke-width="0.5" stroke-opacity="0.7"/><line x1="364.9" y1="101.6" x2="370.4" y2="107.4" stroke="#7a62b8" stroke-width="0.5" stroke-opacity="0.7"/><line x1="361.9" y1="144.4" x2="351.0" y2="141.9" stroke="#7a62b8" stroke-width="0.5" stroke-opacity="0.7"/><line x1="361.9" y1="144.4" x2="350.3" y2="150.1" stroke="#7a62b8" stroke-width="0.5" stroke-opacity="0.7"/><line x1="361.9" y1="144.4" x2="349.0" y2="141.8" stroke="#7a62b8" stroke-width="0.5" stroke-opacity="0.7"/><line x1="361.0" y1="127.2" x2="368.7" y2="130.1" stroke="#7a62b8" stroke-width="0.5" stroke-opacity="0.7"/><line x1="361.0" y1="127.2" x2="350.9" y2="133.1" stroke="#7a62b8" stroke-width="0.5" stroke-opacity="0.7"/><line x1="361.0" y1="127.2" x2="373.7" y2="127.2" stroke="#7a62b8" stroke-width="0.5" stroke-opacity="0.7"/><line x1="351.2" y1="136.3" x2="350.9" y2="133.1" stroke="#7a62b8" stroke-width="0.5" stroke-opacity="0.7"/><line x1="351.2" y1="136.3" x2="351.0" y2="141.9" stroke="#7a62b8" stroke-width="0.5" stroke-opacity="0.7"/><line x1="351.2" y1="136.3" x2="349.0" y2="141.8" stroke="#7a62b8" stroke-width="0.5" stroke-opacity="0.7"/><line x1="372.7" y1="100.8" x2="370.4" y2="107.4" stroke="#7a62b8" stroke-width="0.5" stroke-opacity="0.7"/><line x1="372.7" y1="100.8" x2="364.9" y2="101.6" stroke="#7a62b8" stroke-width="0.5" stroke-opacity="0.7"/><line x1="372.7" y1="100.8" x2="363.9" y2="96.2" stroke="#7a62b8" stroke-width="0.5" stroke-opacity="0.7"/><line x1="331.0" y1="143.9" x2="335.7" y2="140.7" stroke="#7a62b8" stroke-width="0.5" stroke-opacity="0.7"/><line x1="331.0" y1="143.9" x2="330.8" y2="150.0" stroke="#7a62b8" stroke-width="0.5" stroke-opacity="0.7"/><line x1="331.0" y1="143.9" x2="338.2" y2="141.7" stroke="#7a62b8" stroke-width="0.5" stroke-opacity="0.7"/><line x1="373.7" y1="127.2" x2="368.7" y2="130.1" stroke="#7a62b8" stroke-width="0.5" stroke-opacity="0.7"/><line x1="373.7" y1="127.2" x2="376.6" y2="119.7" stroke="#7a62b8" stroke-width="0.5" stroke-opacity="0.7"/><line x1="373.7" y1="127.2" x2="370.5" y2="118.8" stroke="#7a62b8" stroke-width="0.5" stroke-opacity="0.7"/><line x1="349.0" y1="141.8" x2="351.0" y2="141.9" stroke="#7a62b8" stroke-width="0.5" stroke-opacity="0.7"/><line x1="349.0" y1="141.8" x2="351.2" y2="136.3" stroke="#7a62b8" stroke-width="0.5" stroke-opacity="0.7"/><line x1="349.0" y1="141.8" x2="342.7" y2="145.7" stroke="#7a62b8" stroke-width="0.5" stroke-opacity="0.7"/><line x1="335.7" y1="109.2" x2="335.9" y2="108.6" stroke="#7a62b8" stroke-width="0.5" stroke-opacity="0.7"/><line x1="335.7" y1="109.2" x2="335.0" y2="116.0" stroke="#7a62b8" stroke-width="0.5" stroke-opacity="0.7"/><line x1="335.7" y1="109.2" x2="342.4" y2="106.7" stroke="#7a62b8" stroke-width="0.5" stroke-opacity="0.7"/><line x1="336.4" y1="132.2" x2="335.7" y2="140.7" stroke="#7a62b8" stroke-width="0.5" stroke-opacity="0.7"/><line x1="336.4" y1="132.2" x2="330.3" y2="126.0" stroke="#7a62b8" stroke-width="0.5" stroke-opacity="0.7"/><line x1="336.4" y1="132.2" x2="338.2" y2="141.7" stroke="#7a62b8" stroke-width="0.5" stroke-opacity="0.7"/><line x1="342.4" y1="106.7" x2="335.9" y2="108.6" stroke="#7a62b8" stroke-width="0.5" stroke-opacity="0.7"/><line x1="342.4" y1="106.7" x2="335.7" y2="109.2" stroke="#7a62b8" stroke-width="0.5" stroke-opacity="0.7"/><line x1="342.4" y1="106.7" x2="350.3" y2="106.5" stroke="#7a62b8" stroke-width="0.5" stroke-opacity="0.7"/><line x1="361.9" y1="158.6" x2="361.1" y2="159.0" stroke="#7a62b8" stroke-width="0.5" stroke-opacity="0.7"/><line x1="361.9" y1="158.6" x2="364.1" y2="159.1" stroke="#7a62b8" stroke-width="0.5" stroke-opacity="0.7"/><line x1="361.9" y1="158.6" x2="370.6" y2="154.8" stroke="#7a62b8" stroke-width="0.5" stroke-opacity="0.7"/><line x1="341.4" y1="140.8" x2="338.2" y2="141.7" stroke="#7a62b8" stroke-width="0.5" stroke-opacity="0.7"/><line x1="341.4" y1="140.8" x2="342.7" y2="145.7" stroke="#7a62b8" stroke-width="0.5" stroke-opacity="0.7"/><line x1="341.4" y1="140.8" x2="335.7" y2="140.7" stroke="#7a62b8" stroke-width="0.5" stroke-opacity="0.7"/><line x1="347.5" y1="151.5" x2="350.3" y2="150.1" stroke="#7a62b8" stroke-width="0.5" stroke-opacity="0.7"/><line x1="347.5" y1="151.5" x2="342.7" y2="145.7" stroke="#7a62b8" stroke-width="0.5" stroke-opacity="0.7"/><line x1="347.5" y1="151.5" x2="339.3" y2="152.3" stroke="#7a62b8" stroke-width="0.5" stroke-opacity="0.7"/><line x1="356.4" y1="109.2" x2="350.3" y2="106.5" stroke="#7a62b8" stroke-width="0.5" stroke-opacity="0.7"/><line x1="356.4" y1="109.2" x2="350.9" y2="117.6" stroke="#7a62b8" stroke-width="0.5" stroke-opacity="0.7"/><line x1="356.4" y1="109.2" x2="364.9" y2="101.6" stroke="#7a62b8" stroke-width="0.5" stroke-opacity="0.7"/><line x1="337.3" y1="91.7" x2="342.4" y2="106.7" stroke="#7a62b8" stroke-width="0.5" stroke-opacity="0.7"/><line x1="337.3" y1="91.7" x2="335.9" y2="108.6" stroke="#7a62b8" stroke-width="0.5" stroke-opacity="0.7"/><line x1="337.3" y1="91.7" x2="335.7" y2="109.2" stroke="#7a62b8" stroke-width="0.5" stroke-opacity="0.7"/><line x1="350.9" y1="117.6" x2="342.3" y2="120.5" stroke="#7a62b8" stroke-width="0.5" stroke-opacity="0.7"/><line x1="350.9" y1="117.6" x2="341.2" y2="115.7" stroke="#7a62b8" stroke-width="0.5" stroke-opacity="0.7"/><line x1="350.9" y1="117.6" x2="356.4" y2="109.2" stroke="#7a62b8" stroke-width="0.5" stroke-opacity="0.7"/><line x1="335.0" y1="116.0" x2="341.2" y2="115.7" stroke="#7a62b8" stroke-width="0.5" stroke-opacity="0.7"/><line x1="335.0" y1="116.0" x2="335.7" y2="109.2" stroke="#7a62b8" stroke-width="0.5" stroke-opacity="0.7"/><line x1="335.0" y1="116.0" x2="335.9" y2="108.6" stroke="#7a62b8" stroke-width="0.5" stroke-opacity="0.7"/><line x1="342.7" y1="145.7" x2="341.4" y2="140.8" stroke="#7a62b8" stroke-width="0.5" stroke-opacity="0.7"/><line x1="342.7" y1="145.7" x2="338.2" y2="141.7" stroke="#7a62b8" stroke-width="0.5" stroke-opacity="0.7"/><line x1="342.7" y1="145.7" x2="339.3" y2="152.3" stroke="#7a62b8" stroke-width="0.5" stroke-opacity="0.7"/><line x1="333.5" y1="161.4" x2="339.3" y2="152.3" stroke="#7a62b8" stroke-width="0.5" stroke-opacity="0.7"/><line x1="333.5" y1="161.4" x2="330.8" y2="150.0" stroke="#7a62b8" stroke-width="0.5" stroke-opacity="0.7"/><line x1="333.5" y1="161.4" x2="347.5" y2="151.5" stroke="#7a62b8" stroke-width="0.5" stroke-opacity="0.7"/><line x1="350.9" y1="133.1" x2="351.2" y2="136.3" stroke="#7a62b8" stroke-width="0.5" stroke-opacity="0.7"/><line x1="350.9" y1="133.1" x2="351.0" y2="141.9" stroke="#7a62b8" stroke-width="0.5" stroke-opacity="0.7"/><line x1="350.9" y1="133.1" x2="349.0" y2="141.8" stroke="#7a62b8" stroke-width="0.5" stroke-opacity="0.7"/><line x1="350.3" y1="150.1" x2="347.5" y2="151.5" stroke="#7a62b8" stroke-width="0.5" stroke-opacity="0.7"/><line x1="350.3" y1="150.1" x2="351.0" y2="141.9" stroke="#7a62b8" stroke-width="0.5" stroke-opacity="0.7"/><line x1="350.3" y1="150.1" x2="349.0" y2="141.8" stroke="#7a62b8" stroke-width="0.5" stroke-opacity="0.7"/><line x1="368.7" y1="130.1" x2="373.7" y2="127.2" stroke="#7a62b8" stroke-width="0.5" stroke-opacity="0.7"/><line x1="368.7" y1="130.1" x2="361.0" y2="127.2" stroke="#7a62b8" stroke-width="0.5" stroke-opacity="0.7"/><line x1="368.7" y1="130.1" x2="370.5" y2="118.8" stroke="#7a62b8" stroke-width="0.5" stroke-opacity="0.7"/><line x1="351.0" y1="141.9" x2="349.0" y2="141.8" stroke="#7a62b8" stroke-width="0.5" stroke-opacity="0.7"/><line x1="351.0" y1="141.9" x2="351.2" y2="136.3" stroke="#7a62b8" stroke-width="0.5" stroke-opacity="0.7"/><line x1="351.0" y1="141.9" x2="350.3" y2="150.1" stroke="#7a62b8" stroke-width="0.5" stroke-opacity="0.7"/><line x1="370.5" y1="118.8" x2="376.6" y2="119.7" stroke="#7a62b8" stroke-width="0.5" stroke-opacity="0.7"/><line x1="370.5" y1="118.8" x2="373.7" y2="127.2" stroke="#7a62b8" stroke-width="0.5" stroke-opacity="0.7"/><line x1="370.5" y1="118.8" x2="370.4" y2="107.4" stroke="#7a62b8" stroke-width="0.5" stroke-opacity="0.7"/><line x1="364.1" y1="159.1" x2="361.9" y2="158.6" stroke="#7a62b8" stroke-width="0.5" stroke-opacity="0.7"/><line x1="364.1" y1="159.1" x2="361.1" y2="159.0" stroke="#7a62b8" stroke-width="0.5" stroke-opacity="0.7"/><line x1="364.1" y1="159.1" x2="370.6" y2="154.8" stroke="#7a62b8" stroke-width="0.5" stroke-opacity="0.7"/><line x1="350.3" y1="106.5" x2="356.4" y2="109.2" stroke="#7a62b8" stroke-width="0.5" stroke-opacity="0.7"/><line x1="350.3" y1="106.5" x2="342.4" y2="106.7" stroke="#7a62b8" stroke-width="0.5" stroke-opacity="0.7"/><line x1="350.3" y1="106.5" x2="350.9" y2="117.6" stroke="#7a62b8" stroke-width="0.5" stroke-opacity="0.7"/><line x1="338.2" y1="141.7" x2="335.7" y2="140.7" stroke="#7a62b8" stroke-width="0.5" stroke-opacity="0.7"/><line x1="338.2" y1="141.7" x2="341.4" y2="140.8" stroke="#7a62b8" stroke-width="0.5" stroke-opacity="0.7"/><line x1="338.2" y1="141.7" x2="342.7" y2="145.7" stroke="#7a62b8" stroke-width="0.5" stroke-opacity="0.7"/><line x1="361.1" y1="159.0" x2="361.9" y2="158.6" stroke="#7a62b8" stroke-width="0.5" stroke-opacity="0.7"/><line x1="361.1" y1="159.0" x2="364.1" y2="159.1" stroke="#7a62b8" stroke-width="0.5" stroke-opacity="0.7"/><line x1="361.1" y1="159.0" x2="370.6" y2="154.8" stroke="#7a62b8" stroke-width="0.5" stroke-opacity="0.7"/><line x1="370.4" y1="107.4" x2="372.7" y2="100.8" stroke="#7a62b8" stroke-width="0.5" stroke-opacity="0.7"/><line x1="370.4" y1="107.4" x2="364.9" y2="101.6" stroke="#7a62b8" stroke-width="0.5" stroke-opacity="0.7"/><line x1="370.4" y1="107.4" x2="370.5" y2="118.8" stroke="#7a62b8" stroke-width="0.5" stroke-opacity="0.7"/><line x1="335.9" y1="108.6" x2="335.7" y2="109.2" stroke="#7a62b8" stroke-width="0.5" stroke-opacity="0.7"/><line x1="335.9" y1="108.6" x2="342.4" y2="106.7" stroke="#7a62b8" stroke-width="0.5" stroke-opacity="0.7"/><line x1="335.9" y1="108.6" x2="335.0" y2="116.0" stroke="#7a62b8" stroke-width="0.5" stroke-opacity="0.7"/><line x1="335.7" y1="140.7" x2="338.2" y2="141.7" stroke="#7a62b8" stroke-width="0.5" stroke-opacity="0.7"/><line x1="335.7" y1="140.7" x2="341.4" y2="140.8" stroke="#7a62b8" stroke-width="0.5" stroke-opacity="0.7"/><line x1="335.7" y1="140.7" x2="331.0" y2="143.9" stroke="#7a62b8" stroke-width="0.5" stroke-opacity="0.7"/><line x1="370.6" y1="154.8" x2="364.1" y2="159.1" stroke="#7a62b8" stroke-width="0.5" stroke-opacity="0.7"/><line x1="370.6" y1="154.8" x2="361.9" y2="158.6" stroke="#7a62b8" stroke-width="0.5" stroke-opacity="0.7"/><line x1="370.6" y1="154.8" x2="361.1" y2="159.0" stroke="#7a62b8" stroke-width="0.5" stroke-opacity="0.7"/><line x1="339.3" y1="152.3" x2="342.7" y2="145.7" stroke="#7a62b8" stroke-width="0.5" stroke-opacity="0.7"/><line x1="339.3" y1="152.3" x2="347.5" y2="151.5" stroke="#7a62b8" stroke-width="0.5" stroke-opacity="0.7"/><line x1="339.3" y1="152.3" x2="330.8" y2="150.0" stroke="#7a62b8" stroke-width="0.5" stroke-opacity="0.7"/><line x1="342.3" y1="120.5" x2="341.2" y2="115.7" stroke="#7a62b8" stroke-width="0.5" stroke-opacity="0.7"/><line x1="342.3" y1="120.5" x2="335.0" y2="116.0" stroke="#7a62b8" stroke-width="0.5" stroke-opacity="0.7"/><line x1="342.3" y1="120.5" x2="350.9" y2="117.6" stroke="#7a62b8" stroke-width="0.5" stroke-opacity="0.7"/><line x1="363.9" y1="96.2" x2="364.9" y2="101.6" stroke="#7a62b8" stroke-width="0.5" stroke-opacity="0.7"/><line x1="363.9" y1="96.2" x2="372.7" y2="100.8" stroke="#7a62b8" stroke-width="0.5" stroke-opacity="0.7"/><line x1="363.9" y1="96.2" x2="370.4" y2="107.4" stroke="#7a62b8" stroke-width="0.5" stroke-opacity="0.7"/><line x1="330.8" y1="150.0" x2="331.0" y2="143.9" stroke="#7a62b8" stroke-width="0.5" stroke-opacity="0.7"/><line x1="330.8" y1="150.0" x2="339.3" y2="152.3" stroke="#7a62b8" stroke-width="0.5" stroke-opacity="0.7"/><line x1="330.8" y1="150.0" x2="335.7" y2="140.7" stroke="#7a62b8" stroke-width="0.5" stroke-opacity="0.7"/><line x1="341.2" y1="115.7" x2="342.3" y2="120.5" stroke="#7a62b8" stroke-width="0.5" stroke-opacity="0.7"/><line x1="341.2" y1="115.7" x2="335.0" y2="116.0" stroke="#7a62b8" stroke-width="0.5" stroke-opacity="0.7"/><line x1="341.2" y1="115.7" x2="335.7" y2="109.2" stroke="#7a62b8" stroke-width="0.5" stroke-opacity="0.7"/><line x1="355.1" y1="133.6" x2="340.0" y2="134.8" stroke="#55369a" stroke-width="1.1" stroke-opacity="0.85"/><line x1="355.1" y1="133.6" x2="345.4" y2="159.0" stroke="#55369a" stroke-width="1.1" stroke-opacity="0.85"/><line x1="355.1" y1="133.6" x2="350.8" y2="159.0" stroke="#55369a" stroke-width="1.1" stroke-opacity="0.85"/><line x1="355.1" y1="133.6" x2="361.5" y2="164.4" stroke="#55369a" stroke-width="1.1" stroke-opacity="0.85"/><line x1="355.1" y1="133.6" x2="372.3" y2="159.0" stroke="#55369a" stroke-width="1.1" stroke-opacity="0.85"/><line x1="355.1" y1="133.6" x2="376.3" y2="125.4" stroke="#55369a" stroke-width="1.1" stroke-opacity="0.85"/><line x1="355.1" y1="133.6" x2="367.0" y2="124.0" stroke="#55369a" stroke-width="1.1" stroke-opacity="0.85"/><line x1="355.1" y1="133.6" x2="346.5" y2="121.1" stroke="#55369a" stroke-width="1.1" stroke-opacity="0.85"/><line x1="355.1" y1="133.6" x2="337.8" y2="130.7" stroke="#55369a" stroke-width="1.1" stroke-opacity="0.85"/><line x1="355.1" y1="133.6" x2="380.4" y2="144.2" stroke="#55369a" stroke-width="1.1" stroke-opacity="0.85"/><line x1="355.1" y1="133.6" x2="381.7" y2="152.3" stroke="#55369a" stroke-width="1.1" stroke-opacity="0.85"/><line x1="355.1" y1="133.6" x2="335.0" y2="106.7" stroke="#55369a" stroke-width="1.1" stroke-opacity="0.85"/><line x1="351.3" y1="92.0" x2="351.3" y2="85.5" stroke="#55369a" stroke-width="1.0" stroke-opacity="0.8"/><line x1="351.3" y1="92.0" x2="345.0" y2="84.0" stroke="#55369a" stroke-width="1.0" stroke-opacity="0.8"/><line x1="351.3" y1="92.0" x2="358.0" y2="84.0" stroke="#55369a" stroke-width="1.0" stroke-opacity="0.8"/><line x1="351.3" y1="92.0" x2="342.0" y2="100.0" stroke="#55369a" stroke-width="1.0" stroke-opacity="0.8"/><line x1="351.3" y1="92.0" x2="362.0" y2="100.0" stroke="#55369a" stroke-width="1.0" stroke-opacity="0.8"/><line x1="351.3" y1="92.0" x2="349.0" y2="110.0" stroke="#55369a" stroke-width="1.0" stroke-opacity="0.8"/><line x1="351.3" y1="92.0" x2="356.0" y2="112.0" stroke="#55369a" stroke-width="1.0" stroke-opacity="0.8"/><line x1="351.3" y1="92.0" x2="345.0" y2="118.0" stroke="#55369a" stroke-width="1.0" stroke-opacity="0.8"/><line x1="351.3" y1="92.0" x2="363.0" y2="112.0" stroke="#55369a" stroke-width="1.0" stroke-opacity="0.8"/><line x1="328.0" y1="128.0" x2="338.9" y2="128.7" stroke="#4b2f9a" stroke-width="0.9" stroke-opacity="0.8"/><line x1="328.0" y1="128.0" x2="337.1" y2="134.1" stroke="#4b2f9a" stroke-width="0.9" stroke-opacity="0.8"/><line x1="328.0" y1="128.0" x2="335.4" y2="141.0" stroke="#4b2f9a" stroke-width="0.9" stroke-opacity="0.8"/><line x1="328.0" y1="128.0" x2="328.0" y2="138.4" stroke="#4b2f9a" stroke-width="0.9" stroke-opacity="0.8"/><line x1="328.0" y1="128.0" x2="326.4" y2="141.4" stroke="#4b2f9a" stroke-width="0.9" stroke-opacity="0.8"/><line x1="328.0" y1="128.0" x2="322.1" y2="138.9" stroke="#4b2f9a" stroke-width="0.9" stroke-opacity="0.8"/><line x1="328.0" y1="128.0" x2="316.1" y2="137.1" stroke="#4b2f9a" stroke-width="0.9" stroke-opacity="0.8"/><line x1="328.0" y1="128.0" x2="315.1" y2="131.1" stroke="#4b2f9a" stroke-width="0.9" stroke-opacity="0.8"/><line x1="328.0" y1="128.0" x2="316.7" y2="122.5" stroke="#4b2f9a" stroke-width="0.9" stroke-opacity="0.8"/><line x1="328.0" y1="128.0" x2="318.7" y2="120.9" stroke="#4b2f9a" stroke-width="0.9" stroke-opacity="0.8"/><line x1="328.0" y1="128.0" x2="324.4" y2="116.8" stroke="#4b2f9a" stroke-width="0.9" stroke-opacity="0.8"/><line x1="328.0" y1="128.0" x2="331.2" y2="118.3" stroke="#4b2f9a" stroke-width="0.9" stroke-opacity="0.8"/><line x1="328.0" y1="128.0" x2="338.6" y2="118.6" stroke="#4b2f9a" stroke-width="0.9" stroke-opacity="0.8"/><line x1="328.0" y1="128.0" x2="336.0" y2="121.5" stroke="#4b2f9a" stroke-width="0.9" stroke-opacity="0.8"/><line x1="328.0" y1="128.0" x2="330.7" y2="109.6" stroke="#3d2a8e" stroke-width="0.9" stroke-opacity="0.8"/><line x1="328.0" y1="128.0" x2="332.0" y2="115.3" stroke="#3d2a8e" stroke-width="0.9" stroke-opacity="0.8"/><line x1="328.0" y1="128.0" x2="331.1" y2="125.9" stroke="#3d2a8e" stroke-width="0.9" stroke-opacity="0.8"/><line x1="328.0" y1="128.0" x2="346.5" y2="121.1" stroke="#3d2a8e" stroke-width="0.9" stroke-opacity="0.8"/><line x1="328.0" y1="128.0" x2="320.5" y2="133.6" stroke="#3d2a8e" stroke-width="0.9" stroke-opacity="0.8"/><line x1="328.0" y1="128.0" x2="329.2" y2="137.5" stroke="#3d2a8e" stroke-width="0.9" stroke-opacity="0.8"/><line x1="328.0" y1="128.0" x2="322.4" y2="138.4" stroke="#3d2a8e" stroke-width="0.9" stroke-opacity="0.8"/><line x1="328.0" y1="128.0" x2="334.0" y2="142.3" stroke="#3d2a8e" stroke-width="0.9" stroke-opacity="0.8"/><line x1="314.5" y1="162.0" x2="335.5" y2="168.4" stroke="#7c62b8" stroke-width="0.8" stroke-opacity="0.8"/><line x1="314.5" y1="162.0" x2="328.1" y2="166.9" stroke="#7c62b8" stroke-width="0.8" stroke-opacity="0.8"/><line x1="314.5" y1="162.0" x2="327.2" y2="176.9" stroke="#7c62b8" stroke-width="0.8" stroke-opacity="0.8"/><line x1="314.5" y1="162.0" x2="317.3" y2="178.3" stroke="#7c62b8" stroke-width="0.8" stroke-opacity="0.8"/><line x1="314.5" y1="162.0" x2="303.4" y2="175.3" stroke="#7c62b8" stroke-width="0.8" stroke-opacity="0.8"/><line x1="314.5" y1="162.0" x2="295.8" y2="168.1" stroke="#7c62b8" stroke-width="0.8" stroke-opacity="0.8"/><line x1="314.5" y1="162.0" x2="296.8" y2="163.2" stroke="#7c62b8" stroke-width="0.8" stroke-opacity="0.8"/><line x1="314.5" y1="162.0" x2="294.4" y2="156.6" stroke="#7c62b8" stroke-width="0.8" stroke-opacity="0.8"/><line x1="314.5" y1="162.0" x2="303.0" y2="148.3" stroke="#7c62b8" stroke-width="0.8" stroke-opacity="0.8"/><line x1="314.5" y1="162.0" x2="309.5" y2="145.1" stroke="#7c62b8" stroke-width="0.8" stroke-opacity="0.8"/><line x1="314.5" y1="162.0" x2="324.9" y2="147.9" stroke="#7c62b8" stroke-width="0.8" stroke-opacity="0.8"/><line x1="314.5" y1="162.0" x2="326.7" y2="154.5" stroke="#7c62b8" stroke-width="0.8" stroke-opacity="0.8"/><line x1="336.0" y1="150.0" x2="350.4" y2="147.9" stroke="#7c62b8" stroke-width="0.8" stroke-opacity="0.8"/><line x1="336.0" y1="150.0" x2="344.6" y2="158.1" stroke="#7c62b8" stroke-width="0.8" stroke-opacity="0.8"/><line x1="336.0" y1="150.0" x2="336.9" y2="165.2" stroke="#7c62b8" stroke-width="0.8" stroke-opacity="0.8"/><line x1="336.0" y1="150.0" x2="326.7" y2="156.4" stroke="#7c62b8" stroke-width="0.8" stroke-opacity="0.8"/><line x1="336.0" y1="150.0" x2="321.5" y2="151.1" stroke="#7c62b8" stroke-width="0.8" stroke-opacity="0.8"/><line x1="336.0" y1="150.0" x2="328.6" y2="142.3" stroke="#7c62b8" stroke-width="0.8" stroke-opacity="0.8"/><line x1="336.0" y1="150.0" x2="332.3" y2="137.5" stroke="#7c62b8" stroke-width="0.8" stroke-opacity="0.8"/><line x1="336.0" y1="150.0" x2="345.5" y2="140.6" stroke="#7c62b8" stroke-width="0.8" stroke-opacity="0.8"/><line x1="313.8" y1="157.3" x2="290.7" y2="174.6" stroke="#9a8ccc" stroke-width="0.6" stroke-opacity="0.85"/><line x1="313.8" y1="157.3" x2="283.0" y2="184.0" stroke="#9a8ccc" stroke-width="0.6" stroke-opacity="0.85"/><line x1="319.9" y1="179.4" x2="333.8" y2="189.9" stroke="#9a8ccc" stroke-width="0.6" stroke-opacity="0.85"/><line x1="319.9" y1="179.4" x2="317.7" y2="192.6" stroke="#9a8ccc" stroke-width="0.6" stroke-opacity="0.85"/><line x1="304.9" y1="187.2" x2="319.9" y2="179.4" stroke="#9a8ccc" stroke-width="0.6" stroke-opacity="0.85"/><line x1="333.8" y1="189.9" x2="340.0" y2="165.0" stroke="#9a8ccc" stroke-width="0.6" stroke-opacity="0.85"/><line x1="317.7" y1="192.6" x2="304.9" y2="187.2" stroke="#9a8ccc" stroke-width="0.6" stroke-opacity="0.85"/><line x1="333.8" y1="189.9" x2="326.0" y2="172.0" stroke="#9a8ccc" stroke-width="0.6" stroke-opacity="0.85"/><line x1="290.7" y1="174.6" x2="304.9" y2="187.2" stroke="#9a8ccc" stroke-width="0.6" stroke-opacity="0.85"/></g>
<g><circle cx="247.2" cy="68.9" r="2.4" fill="#e58f2c" stroke="#555" stroke-opacity="0.35" stroke-width="0.4"/><circle cx="253.5" cy="74.2" r="2.4" fill="#e58f2c" stroke="#555" stroke-opacity="0.35" stroke-width="0.4"/><circle cx="236.2" cy="76.2" r="2.3" fill="#e58f2c" stroke="#555" stroke-opacity="0.35" stroke-width="0.4"/><circle cx="242.6" cy="81.2" r="2.0" fill="#e58f2c" stroke="#555" stroke-opacity="0.35" stroke-width="0.4"/><circle cx="235.8" cy="83.8" r="2.0" fill="#e58f2c" stroke="#555" stroke-opacity="0.35" stroke-width="0.4"/><circle cx="245.0" cy="87.4" r="2.0" fill="#e58f2c" stroke="#555" stroke-opacity="0.35" stroke-width="0.4"/><circle cx="239.2" cy="89.5" r="2.0" fill="#e58f2c" stroke="#555" stroke-opacity="0.35" stroke-width="0.4"/><circle cx="243.0" cy="94.6" r="2.0" fill="#e58f2c" stroke="#555" stroke-opacity="0.35" stroke-width="0.4"/><circle cx="263.8" cy="78.5" r="1.6" fill="#c7926a" stroke="#555" stroke-opacity="0.35" stroke-width="0.4"/><circle cx="263.0" cy="87.0" r="1.6" fill="#c7926a" stroke="#555" stroke-opacity="0.35" stroke-width="0.4"/><circle cx="238.5" cy="107.7" r="1.5" fill="#9ccbe0" stroke="#555" stroke-opacity="0.35" stroke-width="0.4"/><circle cx="217.0" cy="86.0" r="0.9" fill="#6a5aa8" stroke="#555" stroke-opacity="0.35" stroke-width="0.4"/><circle cx="217.5" cy="78.0" r="0.9" fill="#6a5aa8" stroke="#555" stroke-opacity="0.35" stroke-width="0.4"/><circle cx="220.0" cy="100.0" r="0.9" fill="#6a5aa8" stroke="#555" stroke-opacity="0.35" stroke-width="0.4"/><circle cx="227.0" cy="72.0" r="0.9" fill="#6a5aa8" stroke="#555" stroke-opacity="0.35" stroke-width="0.4"/><circle cx="225.0" cy="104.0" r="0.9" fill="#6a5aa8" stroke="#555" stroke-opacity="0.35" stroke-width="0.4"/><circle cx="222.0" cy="94.0" r="0.9" fill="#6a5aa8" stroke="#555" stroke-opacity="0.35" stroke-width="0.4"/><circle cx="420.7" cy="34.8" r="1.0" fill="#8f8fb8" stroke="#555" stroke-opacity="0.35" stroke-width="0.4"/><circle cx="425.5" cy="41.6" r="1.0" fill="#8f8fb8" stroke="#555" stroke-opacity="0.35" stroke-width="0.4"/><circle cx="426.0" cy="50.8" r="1.0" fill="#8f8fb8" stroke="#555" stroke-opacity="0.35" stroke-width="0.4"/><circle cx="420.7" cy="57.5" r="1.0" fill="#8f8fb8" stroke="#555" stroke-opacity="0.35" stroke-width="0.4"/><circle cx="411.9" cy="59.0" r="1.0" fill="#8f8fb8" stroke="#555" stroke-opacity="0.35" stroke-width="0.4"/><circle cx="404.2" cy="17.5" r="2.3" fill="#d41a32" stroke="#555" stroke-opacity="0.35" stroke-width="0.4"/><circle cx="415.2" cy="27.4" r="2.5" fill="#d41a32" stroke="#555" stroke-opacity="0.35" stroke-width="0.4"/><circle cx="410.5" cy="34.3" r="2.4" fill="#d41a32" stroke="#555" stroke-opacity="0.35" stroke-width="0.4"/><circle cx="399.3" cy="40.7" r="2.4" fill="#d41a32" stroke="#555" stroke-opacity="0.35" stroke-width="0.4"/><circle cx="409.5" cy="41.6" r="2.3" fill="#d41a32" stroke="#555" stroke-opacity="0.35" stroke-width="0.4"/><circle cx="408.3" cy="50.2" r="2.3" fill="#d41a32" stroke="#555" stroke-opacity="0.35" stroke-width="0.4"/><circle cx="396.0" cy="26.9" r="1.3" fill="#8a1f33" stroke="#555" stroke-opacity="0.35" stroke-width="0.4"/><circle cx="388.3" cy="62.2" r="2.0" fill="#a9b8c8" stroke="#555" stroke-opacity="0.35" stroke-width="0.4"/><circle cx="364.0" cy="92.5" r="1.2" fill="#8e9a9c" stroke="#555" stroke-opacity="0.35" stroke-width="0.4"/><circle cx="372.7" cy="94.5" r="1.2" fill="#8e9a9c" stroke="#555" stroke-opacity="0.35" stroke-width="0.4"/><circle cx="390.6" cy="106.9" r="2.3" fill="#8e9a9c" stroke="#555" stroke-opacity="0.35" stroke-width="0.4"/><circle cx="414.2" cy="113.8" r="1.0" fill="#b07a5a" stroke="#555" stroke-opacity="0.35" stroke-width="0.4"/><circle cx="399.2" cy="129.4" r="1.1" fill="#a08a9a" stroke="#555" stroke-opacity="0.35" stroke-width="0.4"/><circle cx="406.0" cy="136.2" r="1.0" fill="#9a8aa0" stroke="#555" stroke-opacity="0.35" stroke-width="0.4"/><circle cx="255.6" cy="167.7" r="2.6999999999999997" fill="#cfe6d4" stroke="#86b9a0" stroke-width="0.7"/><circle cx="264.8" cy="176.3" r="2.3" fill="#cfe6d4" stroke="#86b9a0" stroke-width="0.7"/><circle cx="255.0" cy="179.8" r="2.3" fill="#cfe6d4" stroke="#86b9a0" stroke-width="0.7"/><circle cx="249.2" cy="187.3" r="2.5" fill="#cfe6d4" stroke="#86b9a0" stroke-width="0.7"/><circle cx="261.3" cy="187.9" r="2.5999999999999996" fill="#cfe6d4" stroke="#86b9a0" stroke-width="0.7"/><circle cx="253.3" cy="195.4" r="2.3" fill="#cfe6d4" stroke="#86b9a0" stroke-width="0.7"/><circle cx="261.9" cy="199.4" r="2.3" fill="#cfe6d4" stroke="#86b9a0" stroke-width="0.7"/><circle cx="271.7" cy="194.8" r="2.5" fill="#cfe6d4" stroke="#86b9a0" stroke-width="0.7"/><circle cx="325.5" cy="106.4" r="0.9" fill="#6a58a8" stroke="#555" stroke-opacity="0.35" stroke-width="0.4"/><circle cx="321.0" cy="115.7" r="0.9" fill="#6a58a8" stroke="#555" stroke-opacity="0.35" stroke-width="0.4"/><circle cx="309.4" cy="122.1" r="0.9" fill="#6a58a8" stroke="#555" stroke-opacity="0.35" stroke-width="0.4"/><circle cx="301.6" cy="118.5" r="0.9" fill="#6a58a8" stroke="#555" stroke-opacity="0.35" stroke-width="0.4"/><circle cx="295.3" cy="109.1" r="0.9" fill="#6a58a8" stroke="#555" stroke-opacity="0.35" stroke-width="0.4"/><circle cx="300.0" cy="97.4" r="0.9" fill="#6a58a8" stroke="#555" stroke-opacity="0.35" stroke-width="0.4"/><circle cx="310.4" cy="91.8" r="0.9" fill="#6a58a8" stroke="#555" stroke-opacity="0.35" stroke-width="0.4"/><circle cx="324.1" cy="99.1" r="0.9" fill="#6a58a8" stroke="#555" stroke-opacity="0.35" stroke-width="0.4"/><circle cx="374.1" cy="129.2" r="0.9" fill="#6a58a8" stroke="#555" stroke-opacity="0.35" stroke-width="0.4"/><circle cx="369.2" cy="145.4" r="0.9" fill="#6a58a8" stroke="#555" stroke-opacity="0.35" stroke-width="0.4"/><circle cx="367.4" cy="146.5" r="0.9" fill="#6a58a8" stroke="#555" stroke-opacity="0.35" stroke-width="0.4"/><circle cx="352.9" cy="147.1" r="0.9" fill="#6a58a8" stroke="#555" stroke-opacity="0.35" stroke-width="0.4"/><circle cx="345.1" cy="144.3" r="0.9" fill="#6a58a8" stroke="#555" stroke-opacity="0.35" stroke-width="0.4"/><circle cx="340.7" cy="147.0" r="0.9" fill="#6a58a8" stroke="#555" stroke-opacity="0.35" stroke-width="0.4"/><circle cx="338.0" cy="128.9" r="0.9" fill="#6a58a8" stroke="#555" stroke-opacity="0.35" stroke-width="0.4"/><circle cx="341.8" cy="122.7" r="0.9" fill="#6a58a8" stroke="#555" stroke-opacity="0.35" stroke-width="0.4"/><circle cx="347.6" cy="114.6" r="0.9" fill="#6a58a8" stroke="#555" stroke-opacity="0.35" stroke-width="0.4"/><circle cx="355.9" cy="114.0" r="0.9" fill="#6a58a8" stroke="#555" stroke-opacity="0.35" stroke-width="0.4"/><circle cx="361.7" cy="116.9" r="0.9" fill="#6a58a8" stroke="#555" stroke-opacity="0.35" stroke-width="0.4"/><circle cx="368.5" cy="124.3" r="0.9" fill="#6a58a8" stroke="#555" stroke-opacity="0.35" stroke-width="0.4"/><circle cx="330.7" cy="109.6" r="2.8" fill="#2f7cc0" stroke="#555" stroke-opacity="0.35" stroke-width="0.4"/><circle cx="332.0" cy="115.3" r="2.8" fill="#2f7cc0" stroke="#555" stroke-opacity="0.35" stroke-width="0.4"/><circle cx="331.1" cy="125.9" r="2.8" fill="#2f7cc0" stroke="#555" stroke-opacity="0.35" stroke-width="0.4"/><circle cx="346.5" cy="121.1" r="2.8" fill="#2f7cc0" stroke="#555" stroke-opacity="0.35" stroke-width="0.4"/><circle cx="320.5" cy="133.6" r="2.8" fill="#2f7cc0" stroke="#555" stroke-opacity="0.35" stroke-width="0.4"/><circle cx="329.2" cy="137.5" r="2.8" fill="#2f7cc0" stroke="#555" stroke-opacity="0.35" stroke-width="0.4"/><circle cx="322.4" cy="138.4" r="2.8" fill="#2f7cc0" stroke="#555" stroke-opacity="0.35" stroke-width="0.4"/><circle cx="334.0" cy="142.3" r="2.8" fill="#2f7cc0" stroke="#555" stroke-opacity="0.35" stroke-width="0.4"/><circle cx="331.1" cy="110.4" r="2.8" fill="#2f7cc0" stroke="#555" stroke-opacity="0.35" stroke-width="0.4"/><circle cx="325.8" cy="131.0" r="2.8" fill="#2f7cc0" stroke="#555" stroke-opacity="0.35" stroke-width="0.4"/><circle cx="312.8" cy="129.8" r="3.4" fill="#4aa84e" stroke="#555" stroke-opacity="0.35" stroke-width="0.4"/><circle cx="337.8" cy="130.7" r="2.9" fill="#4aa84e" stroke="#555" stroke-opacity="0.35" stroke-width="0.4"/><circle cx="325.3" cy="136.5" r="2.8000000000000003" fill="#4aa84e" stroke="#555" stroke-opacity="0.35" stroke-width="0.4"/><circle cx="313.8" cy="144.2" r="2.8000000000000003" fill="#4aa84e" stroke="#555" stroke-opacity="0.35" stroke-width="0.4"/><circle cx="327.2" cy="149.0" r="2.8000000000000003" fill="#4aa84e" stroke="#555" stroke-opacity="0.35" stroke-width="0.4"/><circle cx="332.0" cy="152.8" r="2.9" fill="#4aa84e" stroke="#555" stroke-opacity="0.35" stroke-width="0.4"/><circle cx="316.7" cy="154.8" r="2.6" fill="#4aa84e" stroke="#555" stroke-opacity="0.35" stroke-width="0.4"/><circle cx="312.3" cy="130.7" r="2.6" fill="#4aa84e" stroke="#555" stroke-opacity="0.35" stroke-width="0.4"/><circle cx="337.2" cy="131.3" r="2.6" fill="#4aa84e" stroke="#555" stroke-opacity="0.35" stroke-width="0.4"/><circle cx="318.6" cy="123.0" r="2.8" fill="#eced3a" stroke="#555" stroke-opacity="0.35" stroke-width="0.4"/><circle cx="323.4" cy="124.4" r="2.8" fill="#eced3a" stroke="#555" stroke-opacity="0.35" stroke-width="0.4"/><circle cx="296.1" cy="128.2" r="2.8" fill="#eced3a" stroke="#555" stroke-opacity="0.35" stroke-width="0.4"/><circle cx="301.3" cy="139.4" r="2.8" fill="#eced3a" stroke="#555" stroke-opacity="0.35" stroke-width="0.4"/><circle cx="306.1" cy="139.4" r="2.8" fill="#eced3a" stroke="#555" stroke-opacity="0.35" stroke-width="0.4"/><circle cx="309.0" cy="139.4" r="2.8" fill="#eced3a" stroke="#555" stroke-opacity="0.35" stroke-width="0.4"/><circle cx="285.9" cy="141.7" r="2.8" fill="#eced3a" stroke="#555" stroke-opacity="0.35" stroke-width="0.4"/><circle cx="319.5" cy="144.2" r="2.8" fill="#eced3a" stroke="#555" stroke-opacity="0.35" stroke-width="0.4"/><circle cx="317.6" cy="148.0" r="2.8" fill="#eced3a" stroke="#555" stroke-opacity="0.35" stroke-width="0.4"/><circle cx="336.8" cy="88.4" r="2.5" fill="#e286c8" stroke="#555" stroke-opacity="0.35" stroke-width="0.4"/><circle cx="331.5" cy="97.1" r="2.1" fill="#e286c8" stroke="#555" stroke-opacity="0.35" stroke-width="0.4"/><circle cx="286.5" cy="114.4" r="1.6" fill="#b9dca0" stroke="#555" stroke-opacity="0.35" stroke-width="0.4"/><circle cx="306.1" cy="93.2" r="1.6" fill="#b9dca0" stroke="#555" stroke-opacity="0.35" stroke-width="0.4"/><circle cx="296.5" cy="107.7" r="1.6" fill="#b9dca0" stroke="#555" stroke-opacity="0.35" stroke-width="0.4"/><circle cx="285.4" cy="124.5" r="1.8" fill="#f4f0a0" stroke="#555" stroke-opacity="0.35" stroke-width="0.4"/><circle cx="291.0" cy="160.0" r="1.4" fill="#d8cce8" stroke="#555" stroke-opacity="0.35" stroke-width="0.4"/><circle cx="300.5" cy="118.0" r="1.3" fill="#c8b8e0" stroke="#555" stroke-opacity="0.35" stroke-width="0.4"/><circle cx="318.0" cy="106.0" r="1.3" fill="#d0e8b0" stroke="#555" stroke-opacity="0.35" stroke-width="0.4"/><circle cx="347.0" cy="146.0" r="1.4" fill="#b8a8d8" stroke="#555" stroke-opacity="0.35" stroke-width="0.4"/><circle cx="306.9" cy="154.2" r="1.6" fill="#d8ecb0" stroke="#555" stroke-opacity="0.35" stroke-width="0.4"/><circle cx="316.3" cy="155.6" r="1.8" fill="#7a9a8a" stroke="#555" stroke-opacity="0.35" stroke-width="0.4"/><circle cx="341.0" cy="160.0" r="1.3" fill="#c0b0e0" stroke="#555" stroke-opacity="0.35" stroke-width="0.4"/><circle cx="296.0" cy="176.0" r="1.2" fill="#c8c0e8" stroke="#555" stroke-opacity="0.35" stroke-width="0.4"/><circle cx="300.3" cy="95.2" r="1.1" fill="#7a5aa8" stroke="#555" stroke-opacity="0.35" stroke-width="0.4"/><circle cx="324.3" cy="101.9" r="1.1" fill="#7a5aa8" stroke="#555" stroke-opacity="0.35" stroke-width="0.4"/><circle cx="320.5" cy="92.3" r="1.1" fill="#7a5aa8" stroke="#555" stroke-opacity="0.35" stroke-width="0.4"/><circle cx="335.0" cy="106.7" r="1.1" fill="#7a5aa8" stroke="#555" stroke-opacity="0.35" stroke-width="0.4"/><circle cx="298.4" cy="85.5" r="1.1" fill="#7a5aa8" stroke="#555" stroke-opacity="0.35" stroke-width="0.4"/><circle cx="304.6" cy="77.9" r="1.1" fill="#7a5aa8" stroke="#555" stroke-opacity="0.35" stroke-width="0.4"/><circle cx="298.3" cy="84.8" r="1.1" fill="#7a5aa8" stroke="#555" stroke-opacity="0.35" stroke-width="0.4"/><circle cx="319.9" cy="179.4" r="1.5" fill="#a98bc0" stroke="#555" stroke-opacity="0.35" stroke-width="0.4"/><circle cx="333.8" cy="189.9" r="2.3" fill="#a46ab4" stroke="#555" stroke-opacity="0.35" stroke-width="0.4"/><circle cx="317.7" cy="192.6" r="1.0" fill="#9ccbe0" stroke="#555" stroke-opacity="0.35" stroke-width="0.4"/><circle cx="304.9" cy="187.2" r="1.0" fill="#9ccbe0" stroke="#555" stroke-opacity="0.35" stroke-width="0.4"/><circle cx="286.2" cy="114.2" r="1.6" fill="#a8d068" stroke="#555" stroke-opacity="0.35" stroke-width="0.4"/></g>
<rect x="211.80" y="62.80" width="59.60" height="49.00" fill="none" stroke="#bdbdbd" stroke-width="0.8" stroke-dasharray="1.6,1.6"/>
<rect x="383.60" y="13.90" width="46.80" height="50.90" fill="none" stroke="#bdbdbd" stroke-width="0.8" stroke-dasharray="1.6,1.6"/>
<rect x="245.40" y="163.20" width="37.90" height="39.40" fill="none" stroke="#bdbdbd" stroke-width="0.8" stroke-dasharray="1.6,1.6"/>
<rect x="283.40" y="74.20" width="133.60" height="121.80" fill="none" stroke="#bdbdbd" stroke-width="0.8" stroke-dasharray="1.6,1.6"/>
<text x="159.10" y="9.30" font-size="9.8" fill="#000" font-weight="bold" stroke="#000" transform="matrix(1,0,0,1.06,0,-0.558)">C</text>
<text x="177.0" y="9.6" font-size="7.57" textLength="232" lengthAdjust="spacingAndGlyphs" stroke="#111010" transform="matrix(1,0,0,1.06,0,-0.576)">Gene ontology analysis of upregulated genes by sh<tspan font-style="italic">Eif5a</tspan> and sh<tspan font-style="italic">Dhps</tspan></text>
<text x="292.70" y="30.30" font-size="7.5" fill="#e0202a" font-weight="bold" textLength="77.60" lengthAdjust="spacingAndGlyphs" stroke="#e0202a" transform="matrix(1,0,0,1.06,0,-1.818)">Ribosome biogenesis</text>
<circle cx="294.70" cy="37.10" r="2.15" fill="#d8182a" />
<text x="299.60" y="39.60" font-size="7.5" stroke="#111010" transform="matrix(1,0,0,1.06,0,-2.376)">Ribosome</text>
<circle cx="294.70" cy="45.50" r="2.15" fill="#b9c6c9" />
<text x="299.60" y="48.00" font-size="7.5" textLength="81.60" lengthAdjust="spacingAndGlyphs" stroke="#111010" transform="matrix(1,0,0,1.06,0,-2.880)">rRNA metabolic process</text>
<circle cx="178.80" cy="47.30" r="2.15" fill="#e0892e" />
<text x="184.60" y="50.00" font-size="7.5" stroke="#111010" transform="matrix(1,0,0,1.06,0,-3.000)">DNA damage/telomere</text>
<text x="184.60" y="58.70" font-size="7.5" stroke="#111010" transform="matrix(1,0,0,1.06,0,-3.522)">stress induced senescence</text>
<circle cx="179.70" cy="119.60" r="2.15" fill="#8ec3db" />
<text x="183.80" y="122.10" font-size="7.5" textLength="89.40" lengthAdjust="spacingAndGlyphs" stroke="#111010" transform="matrix(1,0,0,1.06,0,-7.326)">Positive regulation of gene</text>
<text x="183.80" y="130.80" font-size="7.5" textLength="75.00" lengthAdjust="spacingAndGlyphs" stroke="#111010" transform="matrix(1,0,0,1.06,0,-7.848)">expression, epigenetic</text>
<circle cx="179.70" cy="148.20" r="2.15" fill="#c9dcc6" />
<text x="183.80" y="150.80" font-size="7.5" textLength="95.80" lengthAdjust="spacingAndGlyphs" stroke="#111010" transform="matrix(1,0,0,1.06,0,-9.048)">Positive regulation of protein</text>
<text x="183.80" y="159.60" font-size="7.5" stroke="#111010" transform="matrix(1,0,0,1.06,0,-9.576)">complex assembly</text>
<circle cx="421.60" cy="87.10" r="2.15" fill="#2268a8" />
<text x="426.50" y="89.60" font-size="7.5" stroke="#111010" transform="matrix(1,0,0,1.06,0,-5.376)">Lymphocyte differentiatiuon</text>
<circle cx="421.60" cy="96.00" r="2.15" fill="#1f9a58" />
<text x="426.50" y="98.50" font-size="7.5" stroke="#111010" transform="matrix(1,0,0,1.06,0,-5.910)">Antigen activates BCR</text>
<text x="426.50" y="106.10" font-size="7.5" stroke="#111010" transform="matrix(1,0,0,1.06,0,-6.366)">leading to generation of</text>
<text x="426.50" y="113.00" font-size="7.5" stroke="#111010" transform="matrix(1,0,0,1.06,0,-6.780)">second messengers</text>
<circle cx="421.60" cy="121.60" r="2.15" fill="#5d4a94" />
<text x="426.50" y="124.20" font-size="7.5" stroke="#111010" transform="matrix(1,0,0,1.06,0,-7.452)">Negative regulation of</text>
<text x="427.00" y="133.00" font-size="7.5" textLength="80.50" lengthAdjust="spacingAndGlyphs" stroke="#111010" transform="matrix(1,0,0,1.06,0,-7.980)">immune system process</text>
<circle cx="397.50" cy="142.50" r="2.15" fill="#ecea2a" />
<text x="402.00" y="145.00" font-size="7.5" textLength="112.00" lengthAdjust="spacingAndGlyphs" stroke="#111010" transform="matrix(1,0,0,1.06,0,-8.700)">Regulation of cytokine production</text>
<circle cx="397.50" cy="149.60" r="2.15" fill="#7a4a26" />
<text x="402.00" y="152.10" font-size="7.5" stroke="#111010" transform="matrix(1,0,0,1.06,0,-9.126)">Primary immunodeficiency</text>
<circle cx="397.50" cy="156.80" r="2.15" fill="#df86c6" />
<text x="402.00" y="159.30" font-size="7.5" stroke="#111010" transform="matrix(1,0,0,1.06,0,-9.558)">Myeloid cell deficiency</text>
<circle cx="397.50" cy="164.50" r="2.15" fill="#f9f1a8" />
<text x="402.00" y="167.00" font-size="7.5" stroke="#111010" transform="matrix(1,0,0,1.06,0,-10.020)">Regulation of B-cell differentiatiuon</text>
<circle cx="360.80" cy="176.50" r="2.15" fill="#74b446" />
<text x="364.70" y="179.00" font-size="7.5" stroke="#111010" transform="matrix(1,0,0,1.06,0,-10.740)">Negative regulation of interleukin-6 production</text>
<circle cx="360.80" cy="183.60" r="2.15" fill="#efd3ea" />
<text x="364.70" y="186.10" font-size="7.5" stroke="#111010" transform="matrix(1,0,0,1.06,0,-11.166)">Fc gamma R-mediated phagocytosis</text>
<circle cx="284.00" cy="200.50" r="2.15" fill="#6f8384" />
<text x="287.70" y="203.00" font-size="7.5" stroke="#111010" transform="matrix(1,0,0,1.06,0,-12.180)">Homeostasis of number of cells</text>
<circle cx="284.00" cy="208.50" r="2.15" fill="#4b92c4" />
<text x="287.70" y="211.00" font-size="7.5" stroke="#111010" transform="matrix(1,0,0,1.06,0,-12.660)">Regulation of actin dynamics</text>
<circle cx="284.00" cy="216.60" r="2.15" fill="#9a5aaa" />
<text x="287.70" y="219.10" font-size="7.5" stroke="#111010" transform="matrix(1,0,0,1.06,0,-13.146)">Hemostasis</text>
<text x="418.00" y="72.70" font-size="7.5" fill="#e0202a" font-weight="bold" textLength="98.80" lengthAdjust="spacingAndGlyphs" stroke="#e0202a" transform="matrix(1,0,0,1.06,0,-4.362)">B-cell activation/regulation/</text>
<text x="467.00" y="80.70" font-size="7.5" text-anchor="middle" fill="#e0202a" font-weight="bold" textLength="63.90" lengthAdjust="spacingAndGlyphs" stroke="#e0202a" transform="matrix(1,0,0,1.06,0,-4.842)">immune response</text>
<text x="0.80" y="457.60" font-size="9.8" fill="#000" font-weight="bold" stroke="#000" transform="matrix(1,0,0,1.06,0,-27.456)">F</text>
<rect x="19.20" y="456.50" width="33.40" height="10.20" fill="#fff" stroke="#333" stroke-width="0.8" />
<rect x="52.60" y="456.50" width="98.60" height="10.20" fill="#fff" stroke="#333" stroke-width="0.8" />
<text x="36.00" y="464.60" font-size="7.5" text-anchor="middle" textLength="17.60" lengthAdjust="spacingAndGlyphs" stroke="#111010" transform="matrix(1,0,0,1.06,0,-27.876)">Dox–</text>
<text x="102.00" y="464.60" font-size="7.5" text-anchor="middle" textLength="17.30" lengthAdjust="spacingAndGlyphs" stroke="#111010" transform="matrix(1,0,0,1.06,0,-27.876)">Dox+</text>
<rect x="19.20" y="466.60" width="33.40" height="8.60" fill="#808080" />
<text x="35.90" y="473.9" font-size="7.3" font-weight="bold" text-anchor="middle" fill="#fff" style="stroke-width:0.1px" stroke="#fff" transform="matrix(1,0,0,1.06,0,-28.434)">sh<tspan font-style="italic" dx="1.0">Ren</tspan></text>
<rect x="52.60" y="466.60" width="33.10" height="8.60" fill="#000000" />
<text x="69.15" y="473.9" font-size="7.3" font-weight="bold" text-anchor="middle" fill="#fff" style="stroke-width:0.1px" stroke="#fff" transform="matrix(1,0,0,1.06,0,-28.434)">sh<tspan font-style="italic" dx="1.0">Ren</tspan></text>
<rect x="85.70" y="466.60" width="32.00" height="8.60" fill="#2d5fd0" />
<text x="101.70" y="473.9" font-size="7.3" font-weight="bold" text-anchor="middle" fill="#fff" style="stroke-width:0.1px" stroke="#fff" transform="matrix(1,0,0,1.06,0,-28.434)">sh<tspan font-style="italic" dx="1.0">Eif5a</tspan></text>
<rect x="117.70" y="466.60" width="33.50" height="8.60" fill="#e21ee2" />
<text x="134.45" y="473.9" font-size="7.3" font-weight="bold" text-anchor="middle" fill="#fff" style="stroke-width:0.1px" stroke="#fff" transform="matrix(1,0,0,1.06,0,-28.434)">sh<tspan font-style="italic" dx="1.0">Dhps</tspan></text>
<rect x="2.80" y="475.80" width="16.00" height="120.60" fill="#f8c9c9" />
<rect x="2.80" y="596.40" width="16.00" height="63.20" fill="#d3d2f6" />
<text x="0" y="0" font-size="7.6" text-anchor="middle" textLength="86" lengthAdjust="spacingAndGlyphs" transform="translate(12.2,534.5) rotate(-90)" stroke="#111010">MYC upregulated  genes</text>
<text x="0" y="0" font-size="7.6" text-anchor="middle" textLength="39" lengthAdjust="spacingAndGlyphs" transform="translate(10.0,628.5) rotate(-90)" stroke="#111010">MYC down-</text>
<text x="0" y="0" font-size="7.6" text-anchor="middle" textLength="54.4" lengthAdjust="spacingAndGlyphs" transform="translate(16.6,628.2) rotate(-90)" stroke="#111010">regulated genes</text>
<rect x="19.20" y="475.80" width="16.80" height="2.43" fill="#8a8ff6" />
<rect x="35.70" y="475.80" width="16.80" height="2.43" fill="#6e73f2" />
<rect x="52.20" y="475.80" width="16.80" height="2.43" fill="#676cf1" />
<rect x="68.70" y="475.80" width="16.80" height="2.43" fill="#5f63f0" />
<rect x="85.20" y="475.80" width="16.80" height="2.43" fill="#f16464" />
<rect x="101.70" y="475.80" width="16.80" height="2.43" fill="#ed4d4d" />
<rect x="118.20" y="475.80" width="16.80" height="2.43" fill="#f57878" />
<rect x="134.70" y="475.80" width="16.80" height="2.43" fill="#f26a6a" />
<rect x="19.20" y="477.93" width="16.80" height="2.43" fill="#7b81f4" />
<rect x="35.70" y="477.93" width="16.80" height="2.43" fill="#767cf4" />
<rect x="52.20" y="477.93" width="16.80" height="2.43" fill="#383ae9" />
<rect x="68.70" y="477.93" width="16.80" height="2.43" fill="#aaaef8" />
<rect x="85.20" y="477.93" width="16.80" height="2.43" fill="#ec4444" />
<rect x="101.70" y="477.93" width="16.80" height="2.43" fill="#f05e5e" />
<rect x="118.20" y="477.93" width="16.80" height="2.43" fill="#fddddd" />
<rect x="134.70" y="477.93" width="16.80" height="2.43" fill="#feecec" />
<rect x="19.20" y="480.06" width="16.80" height="2.43" fill="#686df2" />
<rect x="35.70" y="480.06" width="16.80" height="2.43" fill="#9095f6" />
<rect x="52.20" y="480.06" width="16.80" height="2.43" fill="#757bf4" />
<rect x="68.70" y="480.06" width="16.80" height="2.43" fill="#aaaef8" />
<rect x="85.20" y="480.06" width="16.80" height="2.43" fill="#f57a7a" />
<rect x="101.70" y="480.06" width="16.80" height="2.43" fill="#f37171" />
<rect x="118.20" y="480.06" width="16.80" height="2.43" fill="#f68080" />
<rect x="134.70" y="480.06" width="16.80" height="2.43" fill="#fbc4c4" />
<rect x="19.20" y="482.19" width="16.80" height="2.43" fill="#7076f3" />
<rect x="35.70" y="482.19" width="16.80" height="2.43" fill="#979bf7" />
<rect x="52.20" y="482.19" width="16.80" height="2.43" fill="#4b4eec" />
<rect x="68.70" y="482.19" width="16.80" height="2.43" fill="#5256ee" />
<rect x="85.20" y="482.19" width="16.80" height="2.43" fill="#ee5353" />
<rect x="101.70" y="482.19" width="16.80" height="2.43" fill="#f16464" />
<rect x="118.20" y="482.19" width="16.80" height="2.43" fill="#f05b5b" />
<rect x="134.70" y="482.19" width="16.80" height="2.43" fill="#f37171" />
<rect x="19.20" y="484.31" width="16.80" height="2.43" fill="#5558ee" />
<rect x="35.70" y="484.31" width="16.80" height="2.43" fill="#666bf1" />
<rect x="52.20" y="484.31" width="16.80" height="2.43" fill="#b6b9f9" />
<rect x="68.70" y="484.31" width="16.80" height="2.43" fill="#6469f1" />
<rect x="85.20" y="484.31" width="16.80" height="2.43" fill="#ef5555" />
<rect x="101.70" y="484.31" width="16.80" height="2.43" fill="#f26868" />
<rect x="118.20" y="484.31" width="16.80" height="2.43" fill="#fddddd" />
<rect x="134.70" y="484.31" width="16.80" height="2.43" fill="#f89898" />
<rect x="19.20" y="486.44" width="16.80" height="2.43" fill="#2323e5" />
<rect x="35.70" y="486.44" width="16.80" height="2.43" fill="#5c60ef" />
<rect x="52.20" y="486.44" width="16.80" height="2.43" fill="#5f63f0" />
<rect x="68.70" y="486.44" width="16.80" height="2.43" fill="#5457ee" />
<rect x="85.20" y="486.44" width="16.80" height="2.43" fill="#ea3939" />
<rect x="101.70" y="486.44" width="16.80" height="2.43" fill="#f26767" />
<rect x="118.20" y="486.44" width="16.80" height="2.43" fill="#fbc0c0" />
<rect x="134.70" y="486.44" width="16.80" height="2.43" fill="#f16161" />
<rect x="19.20" y="488.57" width="16.80" height="2.43" fill="#9398f6" />
<rect x="35.70" y="488.57" width="16.80" height="2.43" fill="#b7baf9" />
<rect x="52.20" y="488.57" width="16.80" height="2.43" fill="#7479f4" />
<rect x="68.70" y="488.57" width="16.80" height="2.43" fill="#787ef4" />
<rect x="85.20" y="488.57" width="16.80" height="2.43" fill="#f68282" />
<rect x="101.70" y="488.57" width="16.80" height="2.43" fill="#ef5555" />
<rect x="118.20" y="488.57" width="16.80" height="2.43" fill="#f89c9c" />
<rect x="134.70" y="488.57" width="16.80" height="2.43" fill="#f8a1a1" />
<rect x="19.20" y="490.70" width="16.80" height="2.43" fill="#5c60ef" />
<rect x="35.70" y="490.70" width="16.80" height="2.43" fill="#6d73f2" />
<rect x="52.20" y="490.70" width="16.80" height="2.43" fill="#c8cbfb" />
<rect x="68.70" y="490.70" width="16.80" height="2.43" fill="#4648eb" />
<rect x="85.20" y="490.70" width="16.80" height="2.43" fill="#f9a9a9" />
<rect x="101.70" y="490.70" width="16.80" height="2.43" fill="#f57878" />
<rect x="118.20" y="490.70" width="16.80" height="2.43" fill="#f05d5d" />
<rect x="134.70" y="490.70" width="16.80" height="2.43" fill="#f78888" />
<rect x="19.20" y="492.83" width="16.80" height="2.43" fill="#3132e8" />
<rect x="35.70" y="492.83" width="16.80" height="2.43" fill="#a4a8f8" />
<rect x="52.20" y="492.83" width="16.80" height="2.43" fill="#696ef2" />
<rect x="68.70" y="492.83" width="16.80" height="2.43" fill="#686df2" />
<rect x="85.20" y="492.83" width="16.80" height="2.43" fill="#ed4a4a" />
<rect x="101.70" y="492.83" width="16.80" height="2.43" fill="#f05f5f" />
<rect x="118.20" y="492.83" width="16.80" height="2.43" fill="#f89c9c" />
<rect x="134.70" y="492.83" width="16.80" height="2.43" fill="#f9a4a4" />
<rect x="19.20" y="494.96" width="16.80" height="2.43" fill="#bdbffa" />
<rect x="35.70" y="494.96" width="16.80" height="2.43" fill="#8b90f6" />
<rect x="52.20" y="494.96" width="16.80" height="2.43" fill="#7f84f5" />
<rect x="68.70" y="494.96" width="16.80" height="2.43" fill="#959af6" />
<rect x="85.20" y="494.96" width="16.80" height="2.43" fill="#f79494" />
<rect x="101.70" y="494.96" width="16.80" height="2.43" fill="#eb4040" />
<rect x="118.20" y="494.96" width="16.80" height="2.43" fill="#f05d5d" />
<rect x="134.70" y="494.96" width="16.80" height="2.43" fill="#f47575" />
<rect x="19.20" y="497.09" width="16.80" height="2.43" fill="#6d72f2" />
<rect x="35.70" y="497.09" width="16.80" height="2.43" fill="#c1c4fa" />
<rect x="52.20" y="497.09" width="16.80" height="2.43" fill="#484bec" />
<rect x="68.70" y="497.09" width="16.80" height="2.43" fill="#9499f6" />
<rect x="85.20" y="497.09" width="16.80" height="2.43" fill="#ed4949" />
<rect x="101.70" y="497.09" width="16.80" height="2.43" fill="#fcd2d2" />
<rect x="118.20" y="497.09" width="16.80" height="2.43" fill="#f05f5f" />
<rect x="134.70" y="497.09" width="16.80" height="2.43" fill="#f79595" />
<rect x="19.20" y="499.21" width="16.80" height="2.43" fill="#7e83f5" />
<rect x="35.70" y="499.21" width="16.80" height="2.43" fill="#979cf7" />
<rect x="52.20" y="499.21" width="16.80" height="2.43" fill="#747af4" />
<rect x="68.70" y="499.21" width="16.80" height="2.43" fill="#c1c4fa" />
<rect x="85.20" y="499.21" width="16.80" height="2.43" fill="#f47373" />
<rect x="101.70" y="499.21" width="16.80" height="2.43" fill="#f68585" />
<rect x="118.20" y="499.21" width="16.80" height="2.43" fill="#f06060" />
<rect x="134.70" y="499.21" width="16.80" height="2.43" fill="#f79494" />
<rect x="19.20" y="501.34" width="16.80" height="2.43" fill="#aeb1f8" />
<rect x="35.70" y="501.34" width="16.80" height="2.43" fill="#d3d4fb" />
<rect x="52.20" y="501.34" width="16.80" height="2.43" fill="#696ef2" />
<rect x="68.70" y="501.34" width="16.80" height="2.43" fill="#575aee" />
<rect x="85.20" y="501.34" width="16.80" height="2.43" fill="#f26767" />
<rect x="101.70" y="501.34" width="16.80" height="2.43" fill="#f68383" />
<rect x="118.20" y="501.34" width="16.80" height="2.43" fill="#f9a4a4" />
<rect x="134.70" y="501.34" width="16.80" height="2.43" fill="#f16363" />
<rect x="19.20" y="503.47" width="16.80" height="2.43" fill="#c2c5fa" />
<rect x="35.70" y="503.47" width="16.80" height="2.43" fill="#5458ee" />
<rect x="52.20" y="503.47" width="16.80" height="2.43" fill="#5f64f0" />
<rect x="68.70" y="503.47" width="16.80" height="2.43" fill="#b3b6f9" />
<rect x="85.20" y="503.47" width="16.80" height="2.43" fill="#ea3b3b" />
<rect x="101.70" y="503.47" width="16.80" height="2.43" fill="#f05f5f" />
<rect x="118.20" y="503.47" width="16.80" height="2.43" fill="#f68484" />
<rect x="134.70" y="503.47" width="16.80" height="2.43" fill="#f89c9c" />
<rect x="19.20" y="505.60" width="16.80" height="2.43" fill="#878cf5" />
<rect x="35.70" y="505.60" width="16.80" height="2.43" fill="#6b71f2" />
<rect x="52.20" y="505.60" width="16.80" height="2.43" fill="#767cf4" />
<rect x="68.70" y="505.60" width="16.80" height="2.43" fill="#9ba0f7" />
<rect x="85.20" y="505.60" width="16.80" height="2.43" fill="#ef5757" />
<rect x="101.70" y="505.60" width="16.80" height="2.43" fill="#ef5656" />
<rect x="118.20" y="505.60" width="16.80" height="2.43" fill="#f36e6e" />
<rect x="134.70" y="505.60" width="16.80" height="2.43" fill="#eb4242" />
<rect x="19.20" y="507.73" width="16.80" height="2.43" fill="#5e62f0" />
<rect x="35.70" y="507.73" width="16.80" height="2.43" fill="#6368f1" />
<rect x="52.20" y="507.73" width="16.80" height="2.43" fill="#6b70f2" />
<rect x="68.70" y="507.73" width="16.80" height="2.43" fill="#acb0f8" />
<rect x="85.20" y="507.73" width="16.80" height="2.43" fill="#f16262" />
<rect x="101.70" y="507.73" width="16.80" height="2.43" fill="#f16161" />
<rect x="118.20" y="507.73" width="16.80" height="2.43" fill="#eb3e3e" />
<rect x="134.70" y="507.73" width="16.80" height="2.43" fill="#e5e7fd" />
<rect x="19.20" y="509.86" width="16.80" height="2.43" fill="#8a8ff6" />
<rect x="35.70" y="509.86" width="16.80" height="2.43" fill="#999ef7" />
<rect x="52.20" y="509.86" width="16.80" height="2.43" fill="#898ef6" />
<rect x="68.70" y="509.86" width="16.80" height="2.43" fill="#777df4" />
<rect x="85.20" y="509.86" width="16.80" height="2.43" fill="#ed4d4d" />
<rect x="101.70" y="509.86" width="16.80" height="2.43" fill="#f47575" />
<rect x="118.20" y="509.86" width="16.80" height="2.43" fill="#fab4b4" />
<rect x="134.70" y="509.86" width="16.80" height="2.43" fill="#eb4141" />
<rect x="19.20" y="511.99" width="16.80" height="2.43" fill="#5a5eef" />
<rect x="35.70" y="511.99" width="16.80" height="2.43" fill="#6c71f2" />
<rect x="52.20" y="511.99" width="16.80" height="2.43" fill="#6469f1" />
<rect x="68.70" y="511.99" width="16.80" height="2.43" fill="#747af4" />
<rect x="85.20" y="511.99" width="16.80" height="2.43" fill="#fcd3d3" />
<rect x="101.70" y="511.99" width="16.80" height="2.43" fill="#f68181" />
<rect x="118.20" y="511.99" width="16.80" height="2.43" fill="#f05c5c" />
<rect x="134.70" y="511.99" width="16.80" height="2.43" fill="#fbcccc" />
<rect x="19.20" y="514.11" width="16.80" height="2.43" fill="#a0a4f7" />
<rect x="35.70" y="514.11" width="16.80" height="2.43" fill="#a2a6f7" />
<rect x="52.20" y="514.11" width="16.80" height="2.43" fill="#bfc2fa" />
<rect x="68.70" y="514.11" width="16.80" height="2.43" fill="#4547eb" />
<rect x="85.20" y="514.11" width="16.80" height="2.43" fill="#f26767" />
<rect x="101.70" y="514.11" width="16.80" height="2.43" fill="#f68080" />
<rect x="118.20" y="514.11" width="16.80" height="2.43" fill="#f36e6e" />
<rect x="134.70" y="514.11" width="16.80" height="2.43" fill="#f16666" />
<rect x="19.20" y="516.24" width="16.80" height="2.43" fill="#d5d7fc" />
<rect x="35.70" y="516.24" width="16.80" height="2.43" fill="#5e62f0" />
<rect x="52.20" y="516.24" width="16.80" height="2.43" fill="#bec0fa" />
<rect x="68.70" y="516.24" width="16.80" height="2.43" fill="#6469f1" />
<rect x="85.20" y="516.24" width="16.80" height="2.43" fill="#f37070" />
<rect x="101.70" y="516.24" width="16.80" height="2.43" fill="#f16565" />
<rect x="118.20" y="516.24" width="16.80" height="2.43" fill="#fab9b9" />
<rect x="134.70" y="516.24" width="16.80" height="2.43" fill="#fab3b3" />
<rect x="19.20" y="518.37" width="16.80" height="2.43" fill="#6b71f2" />
<rect x="35.70" y="518.37" width="16.80" height="2.43" fill="#686df2" />
<rect x="52.20" y="518.37" width="16.80" height="2.43" fill="#b3b6f9" />
<rect x="68.70" y="518.37" width="16.80" height="2.43" fill="#acaff8" />
<rect x="85.20" y="518.37" width="16.80" height="2.43" fill="#f05b5b" />
<rect x="101.70" y="518.37" width="16.80" height="2.43" fill="#e41818" />
<rect x="118.20" y="518.37" width="16.80" height="2.43" fill="#fab7b7" />
<rect x="134.70" y="518.37" width="16.80" height="2.43" fill="#f16363" />
<rect x="19.20" y="520.50" width="16.80" height="2.43" fill="#757bf4" />
<rect x="35.70" y="520.50" width="16.80" height="2.43" fill="#9ca1f7" />
<rect x="52.20" y="520.50" width="16.80" height="2.43" fill="#7a7ff4" />
<rect x="68.70" y="520.50" width="16.80" height="2.43" fill="#a6aaf8" />
<rect x="85.20" y="520.50" width="16.80" height="2.43" fill="#f89d9d" />
<rect x="101.70" y="520.50" width="16.80" height="2.43" fill="#fbc2c2" />
<rect x="118.20" y="520.50" width="16.80" height="2.43" fill="#f37171" />
<rect x="134.70" y="520.50" width="16.80" height="2.43" fill="#fbcbcb" />
<rect x="19.20" y="522.63" width="16.80" height="2.43" fill="#4a4dec" />
<rect x="35.70" y="522.63" width="16.80" height="2.43" fill="#caccfb" />
<rect x="52.20" y="522.63" width="16.80" height="2.43" fill="#a5a9f8" />
<rect x="68.70" y="522.63" width="16.80" height="2.43" fill="#e3e4fd" />
<rect x="85.20" y="522.63" width="16.80" height="2.43" fill="#f78989" />
<rect x="101.70" y="522.63" width="16.80" height="2.43" fill="#f67e7e" />
<rect x="118.20" y="522.63" width="16.80" height="2.43" fill="#fcd3d3" />
<rect x="134.70" y="522.63" width="16.80" height="2.43" fill="#f57c7c" />
<rect x="19.20" y="524.76" width="16.80" height="2.43" fill="#4446eb" />
<rect x="35.70" y="524.76" width="16.80" height="2.43" fill="#aeb1f8" />
<rect x="52.20" y="524.76" width="16.80" height="2.43" fill="#868bf5" />
<rect x="68.70" y="524.76" width="16.80" height="2.43" fill="#656af1" />
<rect x="85.20" y="524.76" width="16.80" height="2.43" fill="#f89797" />
<rect x="101.70" y="524.76" width="16.80" height="2.43" fill="#e82f2f" />
<rect x="118.20" y="524.76" width="16.80" height="2.43" fill="#f47777" />
<rect x="134.70" y="524.76" width="16.80" height="2.43" fill="#f89a9a" />
<rect x="19.20" y="526.89" width="16.80" height="2.43" fill="#797ff4" />
<rect x="35.70" y="526.89" width="16.80" height="2.43" fill="#bfc1fa" />
<rect x="52.20" y="526.89" width="16.80" height="2.43" fill="#4b4eec" />
<rect x="68.70" y="526.89" width="16.80" height="2.43" fill="#b7bbf9" />
<rect x="85.20" y="526.89" width="16.80" height="2.43" fill="#e51f1f" />
<rect x="101.70" y="526.89" width="16.80" height="2.43" fill="#ea3a3a" />
<rect x="118.20" y="526.89" width="16.80" height="2.43" fill="#f78a8a" />
<rect x="134.70" y="526.89" width="16.80" height="2.43" fill="#fab4b4" />
<rect x="19.20" y="529.01" width="16.80" height="2.43" fill="#696ef2" />
<rect x="35.70" y="529.01" width="16.80" height="2.43" fill="#6d72f2" />
<rect x="52.20" y="529.01" width="16.80" height="2.43" fill="#a9adf8" />
<rect x="68.70" y="529.01" width="16.80" height="2.43" fill="#686df1" />
<rect x="85.20" y="529.01" width="16.80" height="2.43" fill="#f9b1b1" />
<rect x="101.70" y="529.01" width="16.80" height="2.43" fill="#f47676" />
<rect x="118.20" y="529.01" width="16.80" height="2.43" fill="#fcd9d9" />
<rect x="134.70" y="529.01" width="16.80" height="2.43" fill="#f16464" />
<rect x="19.20" y="531.14" width="16.80" height="2.43" fill="#585cef" />
<rect x="35.70" y="531.14" width="16.80" height="2.43" fill="#6f75f3" />
<rect x="52.20" y="531.14" width="16.80" height="2.43" fill="#9398f6" />
<rect x="68.70" y="531.14" width="16.80" height="2.43" fill="#7c82f4" />
<rect x="85.20" y="531.14" width="16.80" height="2.43" fill="#e62525" />
<rect x="101.70" y="531.14" width="16.80" height="2.43" fill="#f47272" />
<rect x="118.20" y="531.14" width="16.80" height="2.43" fill="#f05b5b" />
<rect x="134.70" y="531.14" width="16.80" height="2.43" fill="#ee5353" />
<rect x="19.20" y="533.27" width="16.80" height="2.43" fill="#4a4dec" />
<rect x="35.70" y="533.27" width="16.80" height="2.43" fill="#868cf5" />
<rect x="52.20" y="533.27" width="16.80" height="2.43" fill="#2425e5" />
<rect x="68.70" y="533.27" width="16.80" height="2.43" fill="#494cec" />
<rect x="85.20" y="533.27" width="16.80" height="2.43" fill="#f89696" />
<rect x="101.70" y="533.27" width="16.80" height="2.43" fill="#ea3b3b" />
<rect x="118.20" y="533.27" width="16.80" height="2.43" fill="#f9afaf" />
<rect x="134.70" y="533.27" width="16.80" height="2.43" fill="#f57c7c" />
<rect x="19.20" y="535.40" width="16.80" height="2.43" fill="#6f75f3" />
<rect x="35.70" y="535.40" width="16.80" height="2.43" fill="#6166f0" />
<rect x="52.20" y="535.40" width="16.80" height="2.43" fill="#797ff4" />
<rect x="68.70" y="535.40" width="16.80" height="2.43" fill="#e7e8fd" />
<rect x="85.20" y="535.40" width="16.80" height="2.43" fill="#ef5959" />
<rect x="101.70" y="535.40" width="16.80" height="2.43" fill="#f16262" />
<rect x="118.20" y="535.40" width="16.80" height="2.43" fill="#f16262" />
<rect x="134.70" y="535.40" width="16.80" height="2.43" fill="#f8a1a1" />
<rect x="19.20" y="537.53" width="16.80" height="2.43" fill="#696ef2" />
<rect x="35.70" y="537.53" width="16.80" height="2.43" fill="#c2c5fa" />
<rect x="52.20" y="537.53" width="16.80" height="2.43" fill="#4649ec" />
<rect x="68.70" y="537.53" width="16.80" height="2.43" fill="#7379f3" />
<rect x="85.20" y="537.53" width="16.80" height="2.43" fill="#eb4242" />
<rect x="101.70" y="537.53" width="16.80" height="2.43" fill="#f16464" />
<rect x="118.20" y="537.53" width="16.80" height="2.43" fill="#f89a9a" />
<rect x="134.70" y="537.53" width="16.80" height="2.43" fill="#f67d7d" />
<rect x="19.20" y="539.66" width="16.80" height="2.43" fill="#484bec" />
<rect x="35.70" y="539.66" width="16.80" height="2.43" fill="#3f42ea" />
<rect x="52.20" y="539.66" width="16.80" height="2.43" fill="#595def" />
<rect x="68.70" y="539.66" width="16.80" height="2.43" fill="#afb3f9" />
<rect x="85.20" y="539.66" width="16.80" height="2.43" fill="#f36c6c" />
<rect x="101.70" y="539.66" width="16.80" height="2.43" fill="#f89a9a" />
<rect x="118.20" y="539.66" width="16.80" height="2.43" fill="#f9adad" />
<rect x="134.70" y="539.66" width="16.80" height="2.43" fill="#fde2e2" />
<rect x="19.20" y="541.79" width="16.80" height="2.43" fill="#4a4eec" />
<rect x="35.70" y="541.79" width="16.80" height="2.43" fill="#868bf5" />
<rect x="52.20" y="541.79" width="16.80" height="2.43" fill="#2526e6" />
<rect x="68.70" y="541.79" width="16.80" height="2.43" fill="#9297f6" />
<rect x="85.20" y="541.79" width="16.80" height="2.43" fill="#f47272" />
<rect x="101.70" y="541.79" width="16.80" height="2.43" fill="#fcd6d6" />
<rect x="118.20" y="541.79" width="16.80" height="2.43" fill="#f26b6b" />
<rect x="134.70" y="541.79" width="16.80" height="2.43" fill="#f9a4a4" />
<rect x="19.20" y="543.91" width="16.80" height="2.43" fill="#686df1" />
<rect x="35.70" y="543.91" width="16.80" height="2.43" fill="#a6aaf8" />
<rect x="52.20" y="543.91" width="16.80" height="2.43" fill="#757bf4" />
<rect x="68.70" y="543.91" width="16.80" height="2.43" fill="#d0d2fb" />
<rect x="85.20" y="543.91" width="16.80" height="2.43" fill="#ef5656" />
<rect x="101.70" y="543.91" width="16.80" height="2.43" fill="#f47373" />
<rect x="118.20" y="543.91" width="16.80" height="2.43" fill="#f89898" />
<rect x="134.70" y="543.91" width="16.80" height="2.43" fill="#f47575" />
<rect x="19.20" y="546.04" width="16.80" height="2.43" fill="#777df4" />
<rect x="35.70" y="546.04" width="16.80" height="2.43" fill="#2a2be7" />
<rect x="52.20" y="546.04" width="16.80" height="2.43" fill="#9195f6" />
<rect x="68.70" y="546.04" width="16.80" height="2.43" fill="#bdc0fa" />
<rect x="85.20" y="546.04" width="16.80" height="2.43" fill="#f05d5d" />
<rect x="101.70" y="546.04" width="16.80" height="2.43" fill="#f57d7d" />
<rect x="118.20" y="546.04" width="16.80" height="2.43" fill="#e93737" />
<rect x="134.70" y="546.04" width="16.80" height="2.43" fill="#fde6e6" />
<rect x="19.20" y="548.17" width="16.80" height="2.43" fill="#ecedfd" />
<rect x="35.70" y="548.17" width="16.80" height="2.43" fill="#5154ed" />
<rect x="52.20" y="548.17" width="16.80" height="2.43" fill="#888df5" />
<rect x="68.70" y="548.17" width="16.80" height="2.43" fill="#e1e3fd" />
<rect x="85.20" y="548.17" width="16.80" height="2.43" fill="#ef5858" />
<rect x="101.70" y="548.17" width="16.80" height="2.43" fill="#ef5959" />
<rect x="118.20" y="548.17" width="16.80" height="2.43" fill="#f05e5e" />
<rect x="134.70" y="548.17" width="16.80" height="2.43" fill="#fabcbc" />
<rect x="19.20" y="550.30" width="16.80" height="2.40" fill="#f36e6e" />
<rect x="35.70" y="550.30" width="16.80" height="2.40" fill="#f26767" />
<rect x="52.20" y="550.30" width="16.80" height="2.40" fill="#f68383" />
<rect x="68.70" y="550.30" width="16.80" height="2.40" fill="#f89999" />
<rect x="85.20" y="550.30" width="16.80" height="2.40" fill="#3537e8" />
<rect x="101.70" y="550.30" width="16.80" height="2.40" fill="#4245eb" />
<rect x="118.20" y="550.30" width="16.80" height="2.40" fill="#b9bcf9" />
<rect x="134.70" y="550.30" width="16.80" height="2.40" fill="#999df7" />
<rect x="19.20" y="552.40" width="16.80" height="2.40" fill="#f9aeae" />
<rect x="35.70" y="552.40" width="16.80" height="2.40" fill="#e82d2d" />
<rect x="52.20" y="552.40" width="16.80" height="2.40" fill="#f06060" />
<rect x="68.70" y="552.40" width="16.80" height="2.40" fill="#f57b7b" />
<rect x="85.20" y="552.40" width="16.80" height="2.40" fill="#1c1ce4" />
<rect x="101.70" y="552.40" width="16.80" height="2.40" fill="#686df2" />
<rect x="118.20" y="552.40" width="16.80" height="2.40" fill="#aeb2f8" />
<rect x="134.70" y="552.40" width="16.80" height="2.40" fill="#fffdfd" />
<rect x="19.20" y="554.50" width="16.80" height="2.40" fill="#f47575" />
<rect x="35.70" y="554.50" width="16.80" height="2.40" fill="#f36d6d" />
<rect x="52.20" y="554.50" width="16.80" height="2.40" fill="#fde1e1" />
<rect x="68.70" y="554.50" width="16.80" height="2.40" fill="#f05e5e" />
<rect x="85.20" y="554.50" width="16.80" height="2.40" fill="#5a5fef" />
<rect x="101.70" y="554.50" width="16.80" height="2.40" fill="#3334e8" />
<rect x="118.20" y="554.50" width="16.80" height="2.40" fill="#c9cbfb" />
<rect x="134.70" y="554.50" width="16.80" height="2.40" fill="#f2f3fe" />
<rect x="19.20" y="556.60" width="16.80" height="2.40" fill="#f9adad" />
<rect x="35.70" y="556.60" width="16.80" height="2.40" fill="#f78d8d" />
<rect x="52.20" y="556.60" width="16.80" height="2.40" fill="#f78c8c" />
<rect x="68.70" y="556.60" width="16.80" height="2.40" fill="#fab8b8" />
<rect x="85.20" y="556.60" width="16.80" height="2.40" fill="#4345eb" />
<rect x="101.70" y="556.60" width="16.80" height="2.40" fill="#bdc0fa" />
<rect x="118.20" y="556.60" width="16.80" height="2.40" fill="#d7d9fc" />
<rect x="134.70" y="556.60" width="16.80" height="2.40" fill="#6d72f2" />
<rect x="19.20" y="558.70" width="16.80" height="2.40" fill="#ec4848" />
<rect x="35.70" y="558.70" width="16.80" height="2.40" fill="#f36f6f" />
<rect x="52.20" y="558.70" width="16.80" height="2.40" fill="#ed4c4c" />
<rect x="68.70" y="558.70" width="16.80" height="2.40" fill="#f57a7a" />
<rect x="85.20" y="558.70" width="16.80" height="2.40" fill="#4548eb" />
<rect x="101.70" y="558.70" width="16.80" height="2.40" fill="#6266f0" />
<rect x="118.20" y="558.70" width="16.80" height="2.40" fill="#4649eb" />
<rect x="134.70" y="558.70" width="16.80" height="2.40" fill="#7d83f5" />
<rect x="19.20" y="560.80" width="16.80" height="2.40" fill="#f16565" />
<rect x="35.70" y="560.80" width="16.80" height="2.40" fill="#f9aeae" />
<rect x="52.20" y="560.80" width="16.80" height="2.40" fill="#f78888" />
<rect x="68.70" y="560.80" width="16.80" height="2.40" fill="#f57979" />
<rect x="85.20" y="560.80" width="16.80" height="2.40" fill="#6165f0" />
<rect x="101.70" y="560.80" width="16.80" height="2.40" fill="#6166f0" />
<rect x="118.20" y="560.80" width="16.80" height="2.40" fill="#9196f6" />
<rect x="134.70" y="560.80" width="16.80" height="2.40" fill="#8085f5" />
<rect x="19.20" y="562.90" width="16.80" height="2.40" fill="#f36d6d" />
<rect x="35.70" y="562.90" width="16.80" height="2.40" fill="#f9a6a6" />
<rect x="52.20" y="562.90" width="16.80" height="2.40" fill="#f79595" />
<rect x="68.70" y="562.90" width="16.80" height="2.40" fill="#f68080" />
<rect x="85.20" y="562.90" width="16.80" height="2.40" fill="#494cec" />
<rect x="101.70" y="562.90" width="16.80" height="2.40" fill="#4a4dec" />
<rect x="118.20" y="562.90" width="16.80" height="2.40" fill="#767cf4" />
<rect x="134.70" y="562.90" width="16.80" height="2.40" fill="#8e93f6" />
<rect x="19.20" y="565.00" width="16.80" height="2.40" fill="#fab9b9" />
<rect x="35.70" y="565.00" width="16.80" height="2.40" fill="#f47676" />
<rect x="52.20" y="565.00" width="16.80" height="2.40" fill="#f05b5b" />
<rect x="68.70" y="565.00" width="16.80" height="2.40" fill="#f57a7a" />
<rect x="85.20" y="565.00" width="16.80" height="2.40" fill="#5053ed" />
<rect x="101.70" y="565.00" width="16.80" height="2.40" fill="#5c60ef" />
<rect x="118.20" y="565.00" width="16.80" height="2.40" fill="#6065f0" />
<rect x="134.70" y="565.00" width="16.80" height="2.40" fill="#4b4eec" />
<rect x="19.20" y="567.10" width="16.80" height="2.40" fill="#f9a4a4" />
<rect x="35.70" y="567.10" width="16.80" height="2.40" fill="#f26969" />
<rect x="52.20" y="567.10" width="16.80" height="2.40" fill="#fab9b9" />
<rect x="68.70" y="567.10" width="16.80" height="2.40" fill="#e4e5fd" />
<rect x="85.20" y="567.10" width="16.80" height="2.40" fill="#3334e8" />
<rect x="101.70" y="567.10" width="16.80" height="2.40" fill="#848af5" />
<rect x="118.20" y="567.10" width="16.80" height="2.40" fill="#7177f3" />
<rect x="134.70" y="567.10" width="16.80" height="2.40" fill="#595def" />
<rect x="19.20" y="569.20" width="16.80" height="2.40" fill="#f36d6d" />
<rect x="35.70" y="569.20" width="16.80" height="2.40" fill="#f57b7b" />
<rect x="52.20" y="569.20" width="16.80" height="2.40" fill="#f68383" />
<rect x="68.70" y="569.20" width="16.80" height="2.40" fill="#f05b5b" />
<rect x="85.20" y="569.20" width="16.80" height="2.40" fill="#7277f3" />
<rect x="101.70" y="569.20" width="16.80" height="2.40" fill="#5357ee" />
<rect x="118.20" y="569.20" width="16.80" height="2.40" fill="#b3b6f9" />
<rect x="134.70" y="569.20" width="16.80" height="2.40" fill="#fefeff" />
<rect x="19.20" y="571.30" width="16.80" height="2.40" fill="#ec4848" />
<rect x="35.70" y="571.30" width="16.80" height="2.40" fill="#f9b1b1" />
<rect x="52.20" y="571.30" width="16.80" height="2.40" fill="#f57b7b" />
<rect x="68.70" y="571.30" width="16.80" height="2.40" fill="#f16464" />
<rect x="85.20" y="571.30" width="16.80" height="2.40" fill="#4244eb" />
<rect x="101.70" y="571.30" width="16.80" height="2.40" fill="#656af1" />
<rect x="118.20" y="571.30" width="16.80" height="2.40" fill="#959af7" />
<rect x="134.70" y="571.30" width="16.80" height="2.40" fill="#b5b8f9" />
<rect x="19.20" y="573.40" width="16.80" height="2.40" fill="#e51d1d" />
<rect x="35.70" y="573.40" width="16.80" height="2.40" fill="#ef5959" />
<rect x="52.20" y="573.40" width="16.80" height="2.40" fill="#f78f8f" />
<rect x="68.70" y="573.40" width="16.80" height="2.40" fill="#f78b8b" />
<rect x="85.20" y="573.40" width="16.80" height="2.40" fill="#d1d3fb" />
<rect x="101.70" y="573.40" width="16.80" height="2.40" fill="#4447eb" />
<rect x="118.20" y="573.40" width="16.80" height="2.40" fill="#babdf9" />
<rect x="134.70" y="573.40" width="16.80" height="2.40" fill="#cdd0fb" />
<rect x="19.20" y="575.50" width="16.80" height="2.40" fill="#fab1b1" />
<rect x="35.70" y="575.50" width="16.80" height="2.40" fill="#f67d7d" />
<rect x="52.20" y="575.50" width="16.80" height="2.40" fill="#f47373" />
<rect x="68.70" y="575.50" width="16.80" height="2.40" fill="#f05f5f" />
<rect x="85.20" y="575.50" width="16.80" height="2.40" fill="#6d72f2" />
<rect x="101.70" y="575.50" width="16.80" height="2.40" fill="#4d51ed" />
<rect x="118.20" y="575.50" width="16.80" height="2.40" fill="#b5b8f9" />
<rect x="134.70" y="575.50" width="16.80" height="2.40" fill="#b0b4f9" />
<rect x="19.20" y="577.60" width="16.80" height="2.40" fill="#f47373" />
<rect x="35.70" y="577.60" width="16.80" height="2.40" fill="#f79090" />
<rect x="52.20" y="577.60" width="16.80" height="2.40" fill="#f16565" />
<rect x="68.70" y="577.60" width="16.80" height="2.40" fill="#fbc2c2" />
<rect x="85.20" y="577.60" width="16.80" height="2.40" fill="#3f41ea" />
<rect x="101.70" y="577.60" width="16.80" height="2.40" fill="#4b4eec" />
<rect x="118.20" y="577.60" width="16.80" height="2.40" fill="#4d51ed" />
<rect x="134.70" y="577.60" width="16.80" height="2.40" fill="#757bf4" />
<rect x="19.20" y="579.70" width="16.80" height="2.40" fill="#fab8b8" />
<rect x="35.70" y="579.70" width="16.80" height="2.40" fill="#f78888" />
<rect x="52.20" y="579.70" width="16.80" height="2.40" fill="#f68282" />
<rect x="68.70" y="579.70" width="16.80" height="2.40" fill="#f9afaf" />
<rect x="85.20" y="579.70" width="16.80" height="2.40" fill="#6064f0" />
<rect x="101.70" y="579.70" width="16.80" height="2.40" fill="#3334e8" />
<rect x="118.20" y="579.70" width="16.80" height="2.40" fill="#fef0f0" />
<rect x="134.70" y="579.70" width="16.80" height="2.40" fill="#d1d3fb" />
<rect x="19.20" y="581.80" width="16.80" height="2.40" fill="#f79191" />
<rect x="35.70" y="581.80" width="16.80" height="2.40" fill="#f67f7f" />
<rect x="52.20" y="581.80" width="16.80" height="2.40" fill="#fcd0d0" />
<rect x="68.70" y="581.80" width="16.80" height="2.40" fill="#f16060" />
<rect x="85.20" y="581.80" width="16.80" height="2.40" fill="#676cf1" />
<rect x="101.70" y="581.80" width="16.80" height="2.40" fill="#1c1ce4" />
<rect x="118.20" y="581.80" width="16.80" height="2.40" fill="#7277f3" />
<rect x="134.70" y="581.80" width="16.80" height="2.40" fill="#a3a7f8" />
<rect x="19.20" y="583.90" width="16.80" height="2.40" fill="#fef1f1" />
<rect x="35.70" y="583.90" width="16.80" height="2.40" fill="#fcdbdb" />
<rect x="52.20" y="583.90" width="16.80" height="2.40" fill="#fabebe" />
<rect x="68.70" y="583.90" width="16.80" height="2.40" fill="#fef4f4" />
<rect x="85.20" y="583.90" width="16.80" height="2.40" fill="#666bf1" />
<rect x="101.70" y="583.90" width="16.80" height="2.40" fill="#656af1" />
<rect x="118.20" y="583.90" width="16.80" height="2.40" fill="#c6c9fa" />
<rect x="134.70" y="583.90" width="16.80" height="2.40" fill="#d8dafc" />
<rect x="19.20" y="586.00" width="16.80" height="2.40" fill="#ea3d3d" />
<rect x="35.70" y="586.00" width="16.80" height="2.40" fill="#fab4b4" />
<rect x="52.20" y="586.00" width="16.80" height="2.40" fill="#f68383" />
<rect x="68.70" y="586.00" width="16.80" height="2.40" fill="#f9adad" />
<rect x="85.20" y="586.00" width="16.80" height="2.40" fill="#2425e5" />
<rect x="101.70" y="586.00" width="16.80" height="2.40" fill="#3c3eea" />
<rect x="118.20" y="586.00" width="16.80" height="2.40" fill="#7075f3" />
<rect x="134.70" y="586.00" width="16.80" height="2.40" fill="#9499f6" />
<rect x="19.20" y="588.10" width="16.80" height="2.40" fill="#fccfcf" />
<rect x="35.70" y="588.10" width="16.80" height="2.40" fill="#f8a1a1" />
<rect x="52.20" y="588.10" width="16.80" height="2.40" fill="#f9a4a4" />
<rect x="68.70" y="588.10" width="16.80" height="2.40" fill="#fab6b6" />
<rect x="85.20" y="588.10" width="16.80" height="2.40" fill="#6166f0" />
<rect x="101.70" y="588.10" width="16.80" height="2.40" fill="#4446eb" />
<rect x="118.20" y="588.10" width="16.80" height="2.40" fill="#c7cafb" />
<rect x="134.70" y="588.10" width="16.80" height="2.40" fill="#c1c4fa" />
<rect x="19.20" y="590.20" width="16.80" height="2.40" fill="#f89999" />
<rect x="35.70" y="590.20" width="16.80" height="2.40" fill="#f79191" />
<rect x="52.20" y="590.20" width="16.80" height="2.40" fill="#eaebfd" />
<rect x="68.70" y="590.20" width="16.80" height="2.40" fill="#fbc2c2" />
<rect x="85.20" y="590.20" width="16.80" height="2.40" fill="#565aee" />
<rect x="101.70" y="590.20" width="16.80" height="2.40" fill="#1e1ee4" />
<rect x="118.20" y="590.20" width="16.80" height="2.40" fill="#9196f6" />
<rect x="134.70" y="590.20" width="16.80" height="2.40" fill="#9ba0f7" />
<rect x="19.20" y="592.30" width="16.80" height="2.40" fill="#f89797" />
<rect x="35.70" y="592.30" width="16.80" height="2.40" fill="#f9adad" />
<rect x="52.20" y="592.30" width="16.80" height="2.40" fill="#f67e7e" />
<rect x="68.70" y="592.30" width="16.80" height="2.40" fill="#f68282" />
<rect x="85.20" y="592.30" width="16.80" height="2.40" fill="#6065f0" />
<rect x="101.70" y="592.30" width="16.80" height="2.40" fill="#3f41ea" />
<rect x="118.20" y="592.30" width="16.80" height="2.40" fill="#9398f6" />
<rect x="134.70" y="592.30" width="16.80" height="2.40" fill="#a5a9f8" />
<rect x="19.20" y="594.40" width="16.80" height="2.40" fill="#f16565" />
<rect x="35.70" y="594.40" width="16.80" height="2.40" fill="#f8a1a1" />
<rect x="52.20" y="594.40" width="16.80" height="2.40" fill="#fabdbd" />
<rect x="68.70" y="594.40" width="16.80" height="2.40" fill="#f79595" />
<rect x="85.20" y="594.40" width="16.80" height="2.40" fill="#3638e9" />
<rect x="101.70" y="594.40" width="16.80" height="2.40" fill="#2323e5" />
<rect x="118.20" y="594.40" width="16.80" height="2.40" fill="#7379f3" />
<rect x="134.70" y="594.40" width="16.80" height="2.40" fill="#6f74f3" />
<rect x="19.20" y="596.50" width="16.80" height="2.41" fill="#8a8ff6" />
<rect x="35.70" y="596.50" width="16.80" height="2.41" fill="#6c71f2" />
<rect x="52.20" y="596.50" width="16.80" height="2.41" fill="#d4d6fc" />
<rect x="68.70" y="596.50" width="16.80" height="2.41" fill="#7277f3" />
<rect x="85.20" y="596.50" width="16.80" height="2.41" fill="#ee5151" />
<rect x="101.70" y="596.50" width="16.80" height="2.41" fill="#f05d5d" />
<rect x="118.20" y="596.50" width="16.80" height="2.41" fill="#f05e5e" />
<rect x="134.70" y="596.50" width="16.80" height="2.41" fill="#fddfdf" />
<rect x="19.20" y="598.61" width="16.80" height="2.41" fill="#8d92f6" />
<rect x="35.70" y="598.61" width="16.80" height="2.41" fill="#9ca0f7" />
<rect x="52.20" y="598.61" width="16.80" height="2.41" fill="#e3e4fd" />
<rect x="68.70" y="598.61" width="16.80" height="2.41" fill="#979cf7" />
<rect x="85.20" y="598.61" width="16.80" height="2.41" fill="#ef5656" />
<rect x="101.70" y="598.61" width="16.80" height="2.41" fill="#ef5656" />
<rect x="118.20" y="598.61" width="16.80" height="2.41" fill="#f26b6b" />
<rect x="134.70" y="598.61" width="16.80" height="2.41" fill="#f67f7f" />
<rect x="19.20" y="600.72" width="16.80" height="2.41" fill="#8e93f6" />
<rect x="35.70" y="600.72" width="16.80" height="2.41" fill="#5f64f0" />
<rect x="52.20" y="600.72" width="16.80" height="2.41" fill="#a9adf8" />
<rect x="68.70" y="600.72" width="16.80" height="2.41" fill="#6469f1" />
<rect x="85.20" y="600.72" width="16.80" height="2.41" fill="#f26a6a" />
<rect x="101.70" y="600.72" width="16.80" height="2.41" fill="#e72c2c" />
<rect x="118.20" y="600.72" width="16.80" height="2.41" fill="#f68585" />
<rect x="134.70" y="600.72" width="16.80" height="2.41" fill="#f78888" />
<rect x="19.20" y="602.83" width="16.80" height="2.41" fill="#6c71f2" />
<rect x="35.70" y="602.83" width="16.80" height="2.41" fill="#595def" />
<rect x="52.20" y="602.83" width="16.80" height="2.41" fill="#7177f3" />
<rect x="68.70" y="602.83" width="16.80" height="2.41" fill="#8186f5" />
<rect x="85.20" y="602.83" width="16.80" height="2.41" fill="#ee5050" />
<rect x="101.70" y="602.83" width="16.80" height="2.41" fill="#f26969" />
<rect x="118.20" y="602.83" width="16.80" height="2.41" fill="#eb4242" />
<rect x="134.70" y="602.83" width="16.80" height="2.41" fill="#ed4c4c" />
<rect x="19.20" y="604.94" width="16.80" height="2.41" fill="#8186f5" />
<rect x="35.70" y="604.94" width="16.80" height="2.41" fill="#6c72f2" />
<rect x="52.20" y="604.94" width="16.80" height="2.41" fill="#b0b3f9" />
<rect x="68.70" y="604.94" width="16.80" height="2.41" fill="#6a6ff2" />
<rect x="85.20" y="604.94" width="16.80" height="2.41" fill="#f05d5d" />
<rect x="101.70" y="604.94" width="16.80" height="2.41" fill="#f36e6e" />
<rect x="118.20" y="604.94" width="16.80" height="2.41" fill="#f79494" />
<rect x="134.70" y="604.94" width="16.80" height="2.41" fill="#f37171" />
<rect x="19.20" y="607.05" width="16.80" height="2.41" fill="#696ef2" />
<rect x="35.70" y="607.05" width="16.80" height="2.41" fill="#5a5eef" />
<rect x="52.20" y="607.05" width="16.80" height="2.41" fill="#8186f5" />
<rect x="68.70" y="607.05" width="16.80" height="2.41" fill="#6c71f2" />
<rect x="85.20" y="607.05" width="16.80" height="2.41" fill="#ef5858" />
<rect x="101.70" y="607.05" width="16.80" height="2.41" fill="#e72c2c" />
<rect x="118.20" y="607.05" width="16.80" height="2.41" fill="#ee5050" />
<rect x="134.70" y="607.05" width="16.80" height="2.41" fill="#f68585" />
<rect x="19.20" y="609.16" width="16.80" height="2.41" fill="#6165f0" />
<rect x="35.70" y="609.16" width="16.80" height="2.41" fill="#7278f3" />
<rect x="52.20" y="609.16" width="16.80" height="2.41" fill="#5256ee" />
<rect x="68.70" y="609.16" width="16.80" height="2.41" fill="#6368f1" />
<rect x="85.20" y="609.16" width="16.80" height="2.41" fill="#f68585" />
<rect x="101.70" y="609.16" width="16.80" height="2.41" fill="#e41a1a" />
<rect x="118.20" y="609.16" width="16.80" height="2.41" fill="#eb3f3f" />
<rect x="134.70" y="609.16" width="16.80" height="2.41" fill="#f79090" />
<rect x="19.20" y="611.27" width="16.80" height="2.41" fill="#6064f0" />
<rect x="35.70" y="611.27" width="16.80" height="2.41" fill="#c0c3fa" />
<rect x="52.20" y="611.27" width="16.80" height="2.41" fill="#7d83f5" />
<rect x="68.70" y="611.27" width="16.80" height="2.41" fill="#9499f6" />
<rect x="85.20" y="611.27" width="16.80" height="2.41" fill="#f78a8a" />
<rect x="101.70" y="611.27" width="16.80" height="2.41" fill="#f47575" />
<rect x="118.20" y="611.27" width="16.80" height="2.41" fill="#fabbbb" />
<rect x="134.70" y="611.27" width="16.80" height="2.41" fill="#f89d9d" />
<rect x="19.20" y="613.38" width="16.80" height="2.41" fill="#8c91f6" />
<rect x="35.70" y="613.38" width="16.80" height="2.41" fill="#9ba0f7" />
<rect x="52.20" y="613.38" width="16.80" height="2.41" fill="#a2a6f8" />
<rect x="68.70" y="613.38" width="16.80" height="2.41" fill="#8c91f6" />
<rect x="85.20" y="613.38" width="16.80" height="2.41" fill="#f8a0a0" />
<rect x="101.70" y="613.38" width="16.80" height="2.41" fill="#f36d6d" />
<rect x="118.20" y="613.38" width="16.80" height="2.41" fill="#f8a3a3" />
<rect x="134.70" y="613.38" width="16.80" height="2.41" fill="#f26b6b" />
<rect x="19.20" y="615.49" width="16.80" height="2.41" fill="#6c72f2" />
<rect x="35.70" y="615.49" width="16.80" height="2.41" fill="#6469f1" />
<rect x="52.20" y="615.49" width="16.80" height="2.41" fill="#5f63f0" />
<rect x="68.70" y="615.49" width="16.80" height="2.41" fill="#5d62f0" />
<rect x="85.20" y="615.49" width="16.80" height="2.41" fill="#f37070" />
<rect x="101.70" y="615.49" width="16.80" height="2.41" fill="#ee5252" />
<rect x="118.20" y="615.49" width="16.80" height="2.41" fill="#f16666" />
<rect x="134.70" y="615.49" width="16.80" height="2.41" fill="#f36d6d" />
<rect x="19.20" y="617.61" width="16.80" height="2.41" fill="#5256ee" />
<rect x="35.70" y="617.61" width="16.80" height="2.41" fill="#6367f1" />
<rect x="52.20" y="617.61" width="16.80" height="2.41" fill="#c5c7fa" />
<rect x="68.70" y="617.61" width="16.80" height="2.41" fill="#3c3eea" />
<rect x="85.20" y="617.61" width="16.80" height="2.41" fill="#f16565" />
<rect x="101.70" y="617.61" width="16.80" height="2.41" fill="#ec4747" />
<rect x="118.20" y="617.61" width="16.80" height="2.41" fill="#f16161" />
<rect x="134.70" y="617.61" width="16.80" height="2.41" fill="#f16363" />
<rect x="19.20" y="619.72" width="16.80" height="2.41" fill="#898ef6" />
<rect x="35.70" y="619.72" width="16.80" height="2.41" fill="#7c82f5" />
<rect x="52.20" y="619.72" width="16.80" height="2.41" fill="#9a9ef7" />
<rect x="68.70" y="619.72" width="16.80" height="2.41" fill="#5155ed" />
<rect x="85.20" y="619.72" width="16.80" height="2.41" fill="#f78c8c" />
<rect x="101.70" y="619.72" width="16.80" height="2.41" fill="#f16464" />
<rect x="118.20" y="619.72" width="16.80" height="2.41" fill="#f9a5a5" />
<rect x="134.70" y="619.72" width="16.80" height="2.41" fill="#fab2b2" />
<rect x="19.20" y="621.83" width="16.80" height="2.41" fill="#6166f0" />
<rect x="35.70" y="621.83" width="16.80" height="2.41" fill="#858bf5" />
<rect x="52.20" y="621.83" width="16.80" height="2.41" fill="#8a8ff6" />
<rect x="68.70" y="621.83" width="16.80" height="2.41" fill="#7f84f5" />
<rect x="85.20" y="621.83" width="16.80" height="2.41" fill="#f05b5b" />
<rect x="101.70" y="621.83" width="16.80" height="2.41" fill="#f05e5e" />
<rect x="118.20" y="621.83" width="16.80" height="2.41" fill="#f9a5a5" />
<rect x="134.70" y="621.83" width="16.80" height="2.41" fill="#f67e7e" />
<rect x="19.20" y="623.94" width="16.80" height="2.41" fill="#666bf1" />
<rect x="35.70" y="623.94" width="16.80" height="2.41" fill="#7075f3" />
<rect x="52.20" y="623.94" width="16.80" height="2.41" fill="#8d92f6" />
<rect x="68.70" y="623.94" width="16.80" height="2.41" fill="#6266f0" />
<rect x="85.20" y="623.94" width="16.80" height="2.41" fill="#ef5959" />
<rect x="101.70" y="623.94" width="16.80" height="2.41" fill="#e82c2c" />
<rect x="118.20" y="623.94" width="16.80" height="2.41" fill="#f78888" />
<rect x="134.70" y="623.94" width="16.80" height="2.41" fill="#f57c7c" />
<rect x="19.20" y="626.05" width="16.80" height="2.41" fill="#b8bbf9" />
<rect x="35.70" y="626.05" width="16.80" height="2.41" fill="#868bf5" />
<rect x="52.20" y="626.05" width="16.80" height="2.41" fill="#9da2f7" />
<rect x="68.70" y="626.05" width="16.80" height="2.41" fill="#6c71f2" />
<rect x="85.20" y="626.05" width="16.80" height="2.41" fill="#f37171" />
<rect x="101.70" y="626.05" width="16.80" height="2.41" fill="#f16464" />
<rect x="118.20" y="626.05" width="16.80" height="2.41" fill="#fbc0c0" />
<rect x="134.70" y="626.05" width="16.80" height="2.41" fill="#f16161" />
<rect x="19.20" y="628.16" width="16.80" height="2.41" fill="#4649ec" />
<rect x="35.70" y="628.16" width="16.80" height="2.41" fill="#858bf5" />
<rect x="52.20" y="628.16" width="16.80" height="2.41" fill="#6b70f2" />
<rect x="68.70" y="628.16" width="16.80" height="2.41" fill="#8085f5" />
<rect x="85.20" y="628.16" width="16.80" height="2.41" fill="#f05b5b" />
<rect x="101.70" y="628.16" width="16.80" height="2.41" fill="#f67f7f" />
<rect x="118.20" y="628.16" width="16.80" height="2.41" fill="#f57777" />
<rect x="134.70" y="628.16" width="16.80" height="2.41" fill="#ee5454" />
<rect x="19.20" y="630.27" width="16.80" height="2.41" fill="#6469f1" />
<rect x="35.70" y="630.27" width="16.80" height="2.41" fill="#5d61f0" />
<rect x="52.20" y="630.27" width="16.80" height="2.41" fill="#6064f0" />
<rect x="68.70" y="630.27" width="16.80" height="2.41" fill="#9499f6" />
<rect x="85.20" y="630.27" width="16.80" height="2.41" fill="#ec4949" />
<rect x="101.70" y="630.27" width="16.80" height="2.41" fill="#f05d5d" />
<rect x="118.20" y="630.27" width="16.80" height="2.41" fill="#f57c7c" />
<rect x="134.70" y="630.27" width="16.80" height="2.41" fill="#ee5050" />
<rect x="19.20" y="632.38" width="16.80" height="2.41" fill="#6c71f2" />
<rect x="35.70" y="632.38" width="16.80" height="2.41" fill="#9599f6" />
<rect x="52.20" y="632.38" width="16.80" height="2.41" fill="#959af7" />
<rect x="68.70" y="632.38" width="16.80" height="2.41" fill="#686df1" />
<rect x="85.20" y="632.38" width="16.80" height="2.41" fill="#f89b9b" />
<rect x="101.70" y="632.38" width="16.80" height="2.41" fill="#f06060" />
<rect x="118.20" y="632.38" width="16.80" height="2.41" fill="#f57b7b" />
<rect x="134.70" y="632.38" width="16.80" height="2.41" fill="#fbc0c0" />
<rect x="19.20" y="634.49" width="16.80" height="2.41" fill="#6c71f2" />
<rect x="35.70" y="634.49" width="16.80" height="2.41" fill="#8c91f6" />
<rect x="52.20" y="634.49" width="16.80" height="2.41" fill="#757bf4" />
<rect x="68.70" y="634.49" width="16.80" height="2.41" fill="#7d82f5" />
<rect x="85.20" y="634.49" width="16.80" height="2.41" fill="#f57a7a" />
<rect x="101.70" y="634.49" width="16.80" height="2.41" fill="#ec4848" />
<rect x="118.20" y="634.49" width="16.80" height="2.41" fill="#ef5a5a" />
<rect x="134.70" y="634.49" width="16.80" height="2.41" fill="#f89898" />
<rect x="19.20" y="636.60" width="16.80" height="2.43" fill="#f68181" />
<rect x="35.70" y="636.60" width="16.80" height="2.43" fill="#f47575" />
<rect x="52.20" y="636.60" width="16.80" height="2.43" fill="#f06060" />
<rect x="68.70" y="636.60" width="16.80" height="2.43" fill="#ed4d4d" />
<rect x="85.20" y="636.60" width="16.80" height="2.43" fill="#3f41ea" />
<rect x="101.70" y="636.60" width="16.80" height="2.43" fill="#4e51ed" />
<rect x="118.20" y="636.60" width="16.80" height="2.43" fill="#787ef4" />
<rect x="134.70" y="636.60" width="16.80" height="2.43" fill="#4e52ed" />
<rect x="19.20" y="638.73" width="16.80" height="2.43" fill="#f78b8b" />
<rect x="35.70" y="638.73" width="16.80" height="2.43" fill="#f47575" />
<rect x="52.20" y="638.73" width="16.80" height="2.43" fill="#fab2b2" />
<rect x="68.70" y="638.73" width="16.80" height="2.43" fill="#fddede" />
<rect x="85.20" y="638.73" width="16.80" height="2.43" fill="#5155ed" />
<rect x="101.70" y="638.73" width="16.80" height="2.43" fill="#5f63f0" />
<rect x="118.20" y="638.73" width="16.80" height="2.43" fill="#6b70f2" />
<rect x="134.70" y="638.73" width="16.80" height="2.43" fill="#aeb2f9" />
<rect x="19.20" y="640.85" width="16.80" height="2.43" fill="#f78c8c" />
<rect x="35.70" y="640.85" width="16.80" height="2.43" fill="#f47474" />
<rect x="52.20" y="640.85" width="16.80" height="2.43" fill="#fbcaca" />
<rect x="68.70" y="640.85" width="16.80" height="2.43" fill="#f9a9a9" />
<rect x="85.20" y="640.85" width="16.80" height="2.43" fill="#5356ee" />
<rect x="101.70" y="640.85" width="16.80" height="2.43" fill="#7177f3" />
<rect x="118.20" y="640.85" width="16.80" height="2.43" fill="#7a80f4" />
<rect x="134.70" y="640.85" width="16.80" height="2.43" fill="#979cf7" />
<rect x="19.20" y="642.98" width="16.80" height="2.43" fill="#f37171" />
<rect x="35.70" y="642.98" width="16.80" height="2.43" fill="#ee5555" />
<rect x="52.20" y="642.98" width="16.80" height="2.43" fill="#f9a9a9" />
<rect x="68.70" y="642.98" width="16.80" height="2.43" fill="#ec4444" />
<rect x="85.20" y="642.98" width="16.80" height="2.43" fill="#4649eb" />
<rect x="101.70" y="642.98" width="16.80" height="2.43" fill="#5f63f0" />
<rect x="118.20" y="642.98" width="16.80" height="2.43" fill="#9095f6" />
<rect x="134.70" y="642.98" width="16.80" height="2.43" fill="#c0c3fa" />
<rect x="19.20" y="645.11" width="16.80" height="2.43" fill="#fddede" />
<rect x="35.70" y="645.11" width="16.80" height="2.43" fill="#f57b7b" />
<rect x="52.20" y="645.11" width="16.80" height="2.43" fill="#f47575" />
<rect x="68.70" y="645.11" width="16.80" height="2.43" fill="#f67f7f" />
<rect x="85.20" y="645.11" width="16.80" height="2.43" fill="#c5c7fa" />
<rect x="101.70" y="645.11" width="16.80" height="2.43" fill="#696ef2" />
<rect x="118.20" y="645.11" width="16.80" height="2.43" fill="#9ea2f7" />
<rect x="134.70" y="645.11" width="16.80" height="2.43" fill="#c5c8fa" />
<rect x="19.20" y="647.24" width="16.80" height="2.43" fill="#ea3d3d" />
<rect x="35.70" y="647.24" width="16.80" height="2.43" fill="#f9b1b1" />
<rect x="52.20" y="647.24" width="16.80" height="2.43" fill="#f78b8b" />
<rect x="68.70" y="647.24" width="16.80" height="2.43" fill="#e2e4fd" />
<rect x="85.20" y="647.24" width="16.80" height="2.43" fill="#6267f1" />
<rect x="101.70" y="647.24" width="16.80" height="2.43" fill="#4b4eec" />
<rect x="118.20" y="647.24" width="16.80" height="2.43" fill="#a3a7f8" />
<rect x="134.70" y="647.24" width="16.80" height="2.43" fill="#e5e6fd" />
<rect x="19.20" y="649.36" width="16.80" height="2.43" fill="#f57b7b" />
<rect x="35.70" y="649.36" width="16.80" height="2.43" fill="#f89696" />
<rect x="52.20" y="649.36" width="16.80" height="2.43" fill="#f9a5a5" />
<rect x="68.70" y="649.36" width="16.80" height="2.43" fill="#f8a2a2" />
<rect x="85.20" y="649.36" width="16.80" height="2.43" fill="#6166f0" />
<rect x="101.70" y="649.36" width="16.80" height="2.43" fill="#595def" />
<rect x="118.20" y="649.36" width="16.80" height="2.43" fill="#8086f5" />
<rect x="134.70" y="649.36" width="16.80" height="2.43" fill="#7b81f4" />
<rect x="19.20" y="651.49" width="16.80" height="2.43" fill="#ef5a5a" />
<rect x="35.70" y="651.49" width="16.80" height="2.43" fill="#f57a7a" />
<rect x="52.20" y="651.49" width="16.80" height="2.43" fill="#f16262" />
<rect x="68.70" y="651.49" width="16.80" height="2.43" fill="#f67f7f" />
<rect x="85.20" y="651.49" width="16.80" height="2.43" fill="#2a2be6" />
<rect x="101.70" y="651.49" width="16.80" height="2.43" fill="#767cf4" />
<rect x="118.20" y="651.49" width="16.80" height="2.43" fill="#8489f5" />
<rect x="134.70" y="651.49" width="16.80" height="2.43" fill="#5c60ef" />
<rect x="19.20" y="653.62" width="16.80" height="2.43" fill="#f05d5d" />
<rect x="35.70" y="653.62" width="16.80" height="2.43" fill="#fab4b4" />
<rect x="52.20" y="653.62" width="16.80" height="2.43" fill="#ec4343" />
<rect x="68.70" y="653.62" width="16.80" height="2.43" fill="#f36f6f" />
<rect x="85.20" y="653.62" width="16.80" height="2.43" fill="#5e62f0" />
<rect x="101.70" y="653.62" width="16.80" height="2.43" fill="#5357ee" />
<rect x="118.20" y="653.62" width="16.80" height="2.43" fill="#6c71f2" />
<rect x="134.70" y="653.62" width="16.80" height="2.43" fill="#4b4eec" />
<rect x="19.20" y="655.75" width="16.80" height="2.43" fill="#f26868" />
<rect x="35.70" y="655.75" width="16.80" height="2.43" fill="#f67e7e" />
<rect x="52.20" y="655.75" width="16.80" height="2.43" fill="#f26b6b" />
<rect x="68.70" y="655.75" width="16.80" height="2.43" fill="#f57777" />
<rect x="85.20" y="655.75" width="16.80" height="2.43" fill="#595def" />
<rect x="101.70" y="655.75" width="16.80" height="2.43" fill="#4548eb" />
<rect x="118.20" y="655.75" width="16.80" height="2.43" fill="#7075f3" />
<rect x="134.70" y="655.75" width="16.80" height="2.43" fill="#3c3eea" />
<rect x="19.20" y="657.87" width="16.80" height="2.43" fill="#f16363" />
<rect x="35.70" y="657.87" width="16.80" height="2.43" fill="#f05c5c" />
<rect x="52.20" y="657.87" width="16.80" height="2.43" fill="#f89797" />
<rect x="68.70" y="657.87" width="16.80" height="2.43" fill="#f79292" />
<rect x="85.20" y="657.87" width="16.80" height="2.43" fill="#858af5" />
<rect x="101.70" y="657.87" width="16.80" height="2.43" fill="#5357ee" />
<rect x="118.20" y="657.87" width="16.80" height="2.43" fill="#a7abf8" />
<rect x="134.70" y="657.87" width="16.80" height="2.43" fill="#dbddfc" />
<line x1="19.20" y1="475.80" x2="19.20" y2="660.00" stroke="#555" stroke-width="0.5" />
<rect x="152.00" y="475.80" width="3.20" height="73.40" fill="#b4432f" />
<rect x="152.00" y="550.60" width="3.20" height="45.80" fill="#2a7cc0" />
<rect x="152.00" y="597.00" width="3.20" height="38.60" fill="#f0c228" />
<rect x="152.00" y="636.00" width="3.20" height="23.00" fill="#8c8c8c" />
<defs><linearGradient id="cbar" x1="0" x2="1" y1="0" y2="0"><stop offset="0" stop-color="#1c1ce4"/><stop offset="0.27" stop-color="#767cf4"/><stop offset="0.5" stop-color="#ffffff"/><stop offset="0.73" stop-color="#f68080"/><stop offset="1" stop-color="#e41818"/></linearGradient></defs>
<rect x="99.50" y="661.20" width="51.80" height="5.00" fill="url(#cbar)" />
<text x="100.00" y="673.30" font-size="7.3" text-anchor="middle" stroke="#111010" transform="matrix(1,0,0,1.06,0,-40.398)">−2</text>
<text x="112.60" y="673.30" font-size="7.3" text-anchor="middle" stroke="#111010" transform="matrix(1,0,0,1.06,0,-40.398)">−1</text>
<text x="125.50" y="673.30" font-size="7.3" text-anchor="middle" stroke="#111010" transform="matrix(1,0,0,1.06,0,-40.398)">0</text>
<text x="137.60" y="673.30" font-size="7.3" text-anchor="middle" stroke="#111010" transform="matrix(1,0,0,1.06,0,-40.398)">1</text>
<text x="150.50" y="673.30" font-size="7.3" text-anchor="middle" stroke="#111010" transform="matrix(1,0,0,1.06,0,-40.398)">2</text>
<rect x="155.70" y="456.50" width="215.10" height="202.30" fill="none" stroke="#333" stroke-width="0.9" />
<line x1="226.60" y1="456.50" x2="226.60" y2="658.80" stroke="#333" stroke-width="0.8" />
<line x1="155.70" y1="474.30" x2="370.80" y2="474.30" stroke="#333" stroke-width="1.1" />
<line x1="155.70" y1="550.30" x2="370.80" y2="550.30" stroke="#333" stroke-width="0.9" />
<line x1="155.70" y1="596.60" x2="370.80" y2="596.60" stroke="#333" stroke-width="0.9" />
<line x1="155.70" y1="635.30" x2="370.80" y2="635.30" stroke="#333" stroke-width="0.9" />
<text x="189.20" y="464.20" font-size="7.5" text-anchor="middle" textLength="59.30" lengthAdjust="spacingAndGlyphs" stroke="#111010" transform="matrix(1,0,0,1.06,0,-27.852)">Upon depletion of</text>
<text x="189.20" y="471.60" font-size="7.5" text-anchor="middle" stroke="#111010" transform="matrix(1,0,0,1.06,0,-28.296)">eIF5A and DHPS</text>
<text x="290.20" y="468.90" font-size="7.5" text-anchor="middle" stroke="#111010" transform="matrix(1,0,0,1.06,0,-28.134)">GO</text>
<text x="158.00" y="484.20" font-size="7.6" fill="#e2262e" stroke="#e2262e" transform="matrix(1,0,0,1.06,0,-29.052)">Up</text>
<text x="158.00" y="493.80" font-size="7.3" font-style="italic" textLength="64.60" lengthAdjust="spacingAndGlyphs" stroke="#111010" transform="matrix(1,0,0,1.06,0,-29.628)">Hspe1, Srm1, Odc1,</text>
<text x="158.00" y="502.00" font-size="7.3" font-style="italic" stroke="#111010" transform="matrix(1,0,0,1.06,0,-30.120)">Bcat1, Rps17, Rpl27</text>
<text x="229.90" y="490.80" font-size="7.5" textLength="124.70" lengthAdjust="spacingAndGlyphs" stroke="#111010" transform="matrix(1,0,0,1.06,0,-29.448)">Organonitrogen compound metabolic</text>
<text x="229.90" y="498.80" font-size="7.5" stroke="#111010" transform="matrix(1,0,0,1.06,0,-29.928)">Organonitrogen compound biosynthetic</text>
<text x="229.90" y="506.80" font-size="7.5" stroke="#111010" transform="matrix(1,0,0,1.06,0,-30.408)">Mitochondrial part</text>
<text x="229.90" y="514.80" font-size="7.5" stroke="#111010" transform="matrix(1,0,0,1.06,0,-30.888)">Poly A RNA binding</text>
<text x="229.90" y="522.80" font-size="7.5" stroke="#111010" transform="matrix(1,0,0,1.06,0,-31.368)">Mitochondrion</text>
<text x="157.80" y="557.30" font-size="7.6" fill="#2828cc" stroke="#2828cc" transform="matrix(1,0,0,1.06,0,-33.438)">Down</text>
<text x="157.8" y="565.60" font-size="7.1" font-style="italic" stroke="#111010" transform="matrix(1,0,0,1.06,0,-33.936)">Cbx5<tspan font-style="normal">*</tspan>, Ldha, Cbx3,</text>
<text x="157.8" y="573.50" font-size="7.1" font-style="italic" stroke="#111010" transform="matrix(1,0,0,1.06,0,-34.410)">Ccne2<tspan font-style="normal">*</tspan>, Eprs, Hmmr<tspan font-style="normal">*</tspan>,</text>
<text x="157.8" y="581.40" font-size="7.1" font-style="italic" stroke="#111010" transform="matrix(1,0,0,1.06,0,-34.884)">Top2a<tspan font-style="normal">*</tspan>, Plk4<tspan font-style="normal">*</tspan>, Bub1<tspan font-style="normal">*</tspan>,</text>
<text x="157.8" y="589.30" font-size="7.1" font-style="italic" stroke="#111010" transform="matrix(1,0,0,1.06,0,-35.358)">Spag5<tspan font-style="normal">*</tspan></text>
<text x="229.90" y="562.00" font-size="7.15" stroke="#111010" transform="matrix(1,0,0,1.06,0,-33.720)">Mitotic cell cycle</text>
<text x="229.90" y="568.80" font-size="7.15" stroke="#111010" transform="matrix(1,0,0,1.06,0,-34.128)">Cell division</text>
<text x="229.90" y="575.60" font-size="7.15" stroke="#111010" transform="matrix(1,0,0,1.06,0,-34.536)">Cell cycle</text>
<text x="229.90" y="582.40" font-size="7.15" stroke="#111010" transform="matrix(1,0,0,1.06,0,-34.944)">Identical protein binding</text>
<text x="229.90" y="589.20" font-size="7.15" stroke="#111010" transform="matrix(1,0,0,1.06,0,-35.352)">Microtubule cytoskeleton organization</text>
<line x1="324.00" y1="560.30" x2="317.50" y2="560.30" stroke="#22228a" stroke-width="1.0" />
<polygon points="314.80,560.30 318.00,558.80 318.00,561.80" fill="#22228a"/>
<line x1="363.00" y1="588.00" x2="356.70" y2="588.00" stroke="#22228a" stroke-width="1.0" />
<polygon points="354.00,588.00 357.20,586.50 357.20,589.50" fill="#22228a"/>
<text x="158.00" y="605.50" font-size="7.6" fill="#e2262e" stroke="#e2262e" transform="matrix(1,0,0,1.06,0,-36.330)">Up</text>
<text x="158.00" y="614.20" font-size="7.1" font-style="italic" textLength="62.30" lengthAdjust="spacingAndGlyphs" stroke="#111010" transform="matrix(1,0,0,1.06,0,-36.852)">Pik3ap1, tgfbr2, Btla,</text>
<text x="158.00" y="623.50" font-size="7.1" font-style="italic" stroke="#111010" transform="matrix(1,0,0,1.06,0,-37.410)">Hcls1, Ptk2b, Casp1</text>
<text x="229.90" y="604.20" font-size="7.1" stroke="#111010" transform="matrix(1,0,0,1.06,0,-36.252)">Positive regulation of immune system</text>
<text x="229.90" y="611.20" font-size="7.1" textLength="130.00" lengthAdjust="spacingAndGlyphs" stroke="#111010" transform="matrix(1,0,0,1.06,0,-36.672)">Regulation of response to external stimulus</text>
<text x="229.90" y="618.20" font-size="7.1" stroke="#111010" transform="matrix(1,0,0,1.06,0,-37.092)">Regulation of immune system</text>
<text x="229.90" y="625.20" font-size="7.1" stroke="#111010" transform="matrix(1,0,0,1.06,0,-37.512)">Immune system</text>
<text x="229.90" y="632.20" font-size="7.1" stroke="#111010" transform="matrix(1,0,0,1.06,0,-37.932)">Immune system development</text>
<text x="158.00" y="642.60" font-size="7.6" fill="#2828cc" stroke="#2828cc" transform="matrix(1,0,0,1.06,0,-38.556)">Down</text>
<text x="158.00" y="649.20" font-size="7.0" font-style="italic" textLength="58.40" lengthAdjust="spacingAndGlyphs" stroke="#111010" transform="matrix(1,0,0,1.06,0,-38.952)">Jund, Adck3, Add3,</text>
<text x="158.00" y="655.90" font-size="7.1" font-style="italic" stroke="#111010" transform="matrix(1,0,0,1.06,0,-39.354)">Gsn, Jhdm1d, Lmo2</text>
<text x="229.90" y="641.90" font-size="7.15" stroke="#111010" transform="matrix(1,0,0,1.06,0,-38.514)">No overlaps found</text>
<text x="385.90" y="371.20" font-size="9.8" fill="#000" font-weight="bold" stroke="#000" transform="matrix(1,0,0,1.06,0,-22.272)">G</text>
<text x="421.6" y="378.4" font-size="7.8" textLength="28.5" lengthAdjust="spacingAndGlyphs" stroke="#111010" transform="matrix(1,0,0,1.06,0,-22.704)">sh-<tspan font-style="italic">Eif5a</tspan></text>
<line x1="420.30" y1="381.30" x2="451.50" y2="381.30" stroke="#8a8a8a" stroke-width="1.4" />
<text x="489.00" y="378.40" font-size="7.8" text-anchor="middle" font-style="italic" textLength="28.50" lengthAdjust="spacingAndGlyphs" stroke="#111010" transform="matrix(1,0,0,1.06,0,-22.704)">sh-Dhps</text>
<line x1="472.90" y1="381.30" x2="505.20" y2="381.30" stroke="#8a8a8a" stroke-width="1.4" />
<line x1="420.12" y1="384.60" x2="420.12" y2="656.00" stroke="#e6e6e6" stroke-width="0.5" />
<line x1="434.68" y1="384.60" x2="434.68" y2="656.00" stroke="#e6e6e6" stroke-width="0.5" />
<line x1="449.24" y1="384.60" x2="449.24" y2="656.00" stroke="#e6e6e6" stroke-width="0.5" />
<line x1="478.36" y1="384.60" x2="478.36" y2="656.00" stroke="#e6e6e6" stroke-width="0.5" />
<line x1="492.92" y1="384.60" x2="492.92" y2="656.00" stroke="#e6e6e6" stroke-width="0.5" />
<line x1="507.48" y1="384.60" x2="507.48" y2="656.00" stroke="#e6e6e6" stroke-width="0.5" />
<rect x="406.90" y="385.50" width="56.90" height="3.60" fill="#2536bd" />
<rect x="463.80" y="385.50" width="48.20" height="3.60" fill="#ea22ea" />
<line x1="404.04" y1="387.30" x2="412.26" y2="387.30" stroke="#0a0a3a" stroke-width="0.9" />
<rect x="406.90" y="385.80" width="3.62" height="3.00" fill="#0d1470" opacity="0.55"/>
<line x1="507.85" y1="387.30" x2="514.65" y2="387.30" stroke="#3a0a3a" stroke-width="0.8" />
<text x="400.2" y="389.20" font-size="5.25" font-style="italic" text-anchor="end" fill="#2a2a2a" style="stroke-width:0.1px" stroke="#2a2a2a" transform="matrix(1,0,0,1.06,0,-23.352)">Pde2a</text>
<rect x="409.00" y="390.73" width="54.80" height="3.60" fill="#2536bd" />
<rect x="463.80" y="390.73" width="30.60" height="3.60" fill="#ea22ea" />
<line x1="406.10" y1="392.53" x2="414.40" y2="392.53" stroke="#0a0a3a" stroke-width="0.9" />
<rect x="409.00" y="391.03" width="3.58" height="3.00" fill="#0d1470" opacity="0.55"/>
<line x1="490.93" y1="392.53" x2="496.37" y2="392.53" stroke="#3a0a3a" stroke-width="0.8" />
<text x="400.2" y="394.43" font-size="5.25" font-style="italic" text-anchor="end" fill="#2a2a2a" style="stroke-width:0.1px" stroke="#2a2a2a" transform="matrix(1,0,0,1.06,0,-23.666)">Rag1</text>
<rect x="410.20" y="395.95" width="53.60" height="3.60" fill="#2536bd" />
<rect x="463.80" y="395.95" width="40.60" height="3.60" fill="#ea22ea" />
<line x1="408.15" y1="397.75" x2="414.75" y2="397.75" stroke="#0a0a3a" stroke-width="0.9" />
<rect x="410.20" y="396.25" width="3.64" height="3.00" fill="#0d1470" opacity="0.55"/>
<line x1="500.84" y1="397.75" x2="506.46" y2="397.75" stroke="#3a0a3a" stroke-width="0.8" />
<text x="400.2" y="399.65" font-size="5.25" font-style="italic" text-anchor="end" fill="#2a2a2a" style="stroke-width:0.1px" stroke="#2a2a2a" transform="matrix(1,0,0,1.06,0,-23.979)">Vpreb3</text>
<rect x="411.80" y="401.18" width="52.00" height="3.60" fill="#2536bd" />
<rect x="463.80" y="401.18" width="42.70" height="3.60" fill="#ea22ea" />
<line x1="407.92" y1="402.98" x2="418.18" y2="402.98" stroke="#0a0a3a" stroke-width="0.9" />
<rect x="411.80" y="401.48" width="2.87" height="3.00" fill="#0d1470" opacity="0.55"/>
<line x1="503.59" y1="402.98" x2="507.91" y2="402.98" stroke="#3a0a3a" stroke-width="0.8" />
<text x="400.2" y="404.88" font-size="5.25" font-style="italic" text-anchor="end" fill="#2a2a2a" style="stroke-width:0.1px" stroke="#2a2a2a" transform="matrix(1,0,0,1.06,0,-24.293)">Ptprc</text>
<rect x="411.80" y="406.40" width="52.00" height="3.60" fill="#2536bd" />
<rect x="463.80" y="406.40" width="48.20" height="3.60" fill="#ea22ea" />
<line x1="410.03" y1="408.20" x2="416.07" y2="408.20" stroke="#0a0a3a" stroke-width="0.9" />
<rect x="411.80" y="406.70" width="4.36" height="3.00" fill="#0d1470" opacity="0.55"/>
<line x1="508.31" y1="408.20" x2="514.19" y2="408.20" stroke="#3a0a3a" stroke-width="0.8" />
<text x="400.2" y="410.10" font-size="5.25" font-style="italic" text-anchor="end" fill="#2a2a2a" style="stroke-width:0.1px" stroke="#2a2a2a" transform="matrix(1,0,0,1.06,0,-24.606)">Plcg2</text>
<rect x="412.30" y="411.62" width="51.50" height="3.60" fill="#2536bd" />
<rect x="463.80" y="411.62" width="48.20" height="3.60" fill="#ea22ea" />
<line x1="410.67" y1="413.43" x2="416.43" y2="413.43" stroke="#0a0a3a" stroke-width="0.9" />
<rect x="412.30" y="411.93" width="4.76" height="3.00" fill="#0d1470" opacity="0.55"/>
<line x1="507.77" y1="413.43" x2="514.73" y2="413.43" stroke="#3a0a3a" stroke-width="0.8" />
<text x="400.2" y="415.32" font-size="5.25" font-style="italic" text-anchor="end" fill="#2a2a2a" style="stroke-width:0.1px" stroke="#2a2a2a" transform="matrix(1,0,0,1.06,0,-24.919)">Lcp1</text>
<rect x="416.30" y="416.85" width="47.50" height="3.60" fill="#2536bd" />
<rect x="463.80" y="416.85" width="40.60" height="3.60" fill="#ea22ea" />
<line x1="412.84" y1="418.65" x2="422.26" y2="418.65" stroke="#0a0a3a" stroke-width="0.9" />
<rect x="416.30" y="417.15" width="4.09" height="3.00" fill="#0d1470" opacity="0.55"/>
<line x1="501.79" y1="418.65" x2="505.51" y2="418.65" stroke="#3a0a3a" stroke-width="0.8" />
<text x="400.2" y="420.55" font-size="5.25" font-style="italic" text-anchor="end" fill="#2a2a2a" style="stroke-width:0.1px" stroke="#2a2a2a" transform="matrix(1,0,0,1.06,0,-25.233)">Nckap1l</text>
<rect x="418.50" y="422.07" width="45.30" height="3.60" fill="#2536bd" />
<rect x="463.80" y="422.07" width="36.00" height="3.60" fill="#ea22ea" />
<line x1="416.95" y1="423.88" x2="422.55" y2="423.88" stroke="#0a0a3a" stroke-width="0.9" />
<rect x="418.50" y="422.38" width="3.98" height="3.00" fill="#0d1470" opacity="0.55"/>
<line x1="497.38" y1="423.88" x2="500.72" y2="423.88" stroke="#3a0a3a" stroke-width="0.8" />
<text x="400.2" y="425.77" font-size="5.25" font-style="italic" text-anchor="end" fill="#e8343c" style="stroke-width:0.1px" stroke="#e8343c" transform="matrix(1,0,0,1.06,0,-25.546)">Cd79b</text>
<rect x="419.00" y="427.30" width="44.80" height="3.60" fill="#2536bd" />
<rect x="463.80" y="427.30" width="42.70" height="3.60" fill="#ea22ea" />
<line x1="416.93" y1="429.10" x2="423.57" y2="429.10" stroke="#0a0a3a" stroke-width="0.9" />
<rect x="419.00" y="427.60" width="3.46" height="3.00" fill="#0d1470" opacity="0.55"/>
<line x1="504.14" y1="429.10" x2="507.36" y2="429.10" stroke="#3a0a3a" stroke-width="0.8" />
<text x="400.2" y="431.00" font-size="5.25" font-style="italic" text-anchor="end" fill="#e8343c" style="stroke-width:0.1px" stroke="#e8343c" transform="matrix(1,0,0,1.06,0,-25.860)">Cd19</text>
<rect x="420.40" y="432.52" width="43.40" height="3.60" fill="#2536bd" />
<rect x="463.80" y="432.52" width="42.20" height="3.60" fill="#ea22ea" />
<line x1="417.51" y1="434.32" x2="425.79" y2="434.32" stroke="#0a0a3a" stroke-width="0.9" />
<rect x="420.40" y="432.82" width="3.92" height="3.00" fill="#0d1470" opacity="0.55"/>
<line x1="502.02" y1="434.32" x2="508.48" y2="434.32" stroke="#3a0a3a" stroke-width="0.8" />
<text x="400.2" y="436.22" font-size="5.25" font-style="italic" text-anchor="end" fill="#2a2a2a" style="stroke-width:0.1px" stroke="#2a2a2a" transform="matrix(1,0,0,1.06,0,-26.173)">Igll1</text>
<rect x="420.40" y="437.75" width="43.40" height="3.60" fill="#2536bd" />
<rect x="463.80" y="437.75" width="29.20" height="3.60" fill="#ea22ea" />
<line x1="417.34" y1="439.55" x2="425.96" y2="439.55" stroke="#0a0a3a" stroke-width="0.9" />
<rect x="420.40" y="438.05" width="4.38" height="3.00" fill="#0d1470" opacity="0.55"/>
<line x1="489.70" y1="439.55" x2="494.80" y2="439.55" stroke="#3a0a3a" stroke-width="0.8" />
<text x="400.2" y="441.45" font-size="5.25" font-style="italic" text-anchor="end" fill="#2a2a2a" style="stroke-width:0.1px" stroke="#2a2a2a" transform="matrix(1,0,0,1.06,0,-26.487)">Lgals9</text>
<rect x="421.70" y="442.97" width="42.10" height="3.60" fill="#2536bd" />
<rect x="463.80" y="442.97" width="44.10" height="3.60" fill="#ea22ea" />
<line x1="418.21" y1="444.77" x2="427.69" y2="444.77" stroke="#0a0a3a" stroke-width="0.9" />
<rect x="421.70" y="443.27" width="4.07" height="3.00" fill="#0d1470" opacity="0.55"/>
<line x1="505.04" y1="444.77" x2="509.26" y2="444.77" stroke="#3a0a3a" stroke-width="0.8" />
<text x="400.2" y="446.67" font-size="5.25" font-style="italic" text-anchor="end" fill="#2a2a2a" style="stroke-width:0.1px" stroke="#2a2a2a" transform="matrix(1,0,0,1.06,0,-26.800)">Plac8</text>
<rect x="422.50" y="448.20" width="41.30" height="3.60" fill="#2536bd" />
<rect x="463.80" y="448.20" width="16.20" height="3.60" fill="#ea22ea" />
<line x1="418.01" y1="450.00" x2="429.49" y2="450.00" stroke="#0a0a3a" stroke-width="0.9" />
<rect x="422.50" y="448.50" width="5.21" height="3.00" fill="#0d1470" opacity="0.55"/>
<line x1="476.02" y1="450.00" x2="482.48" y2="450.00" stroke="#3a0a3a" stroke-width="0.8" />
<text x="400.2" y="451.90" font-size="5.25" font-style="italic" text-anchor="end" fill="#2a2a2a" style="stroke-width:0.1px" stroke="#2a2a2a" transform="matrix(1,0,0,1.06,0,-27.114)">Cdh17</text>
<rect x="421.70" y="453.43" width="42.10" height="3.60" fill="#2536bd" />
<rect x="463.80" y="453.43" width="38.70" height="3.60" fill="#ea22ea" />
<line x1="418.08" y1="455.23" x2="427.82" y2="455.23" stroke="#0a0a3a" stroke-width="0.9" />
<rect x="421.70" y="453.73" width="3.91" height="3.00" fill="#0d1470" opacity="0.55"/>
<line x1="499.74" y1="455.23" x2="503.76" y2="455.23" stroke="#3a0a3a" stroke-width="0.8" />
<text x="400.2" y="457.12" font-size="5.25" font-style="italic" text-anchor="end" fill="#2a2a2a" style="stroke-width:0.1px" stroke="#2a2a2a" transform="matrix(1,0,0,1.06,0,-27.427)">Ly86</text>
<rect x="423.00" y="458.65" width="40.80" height="3.60" fill="#2536bd" />
<rect x="463.80" y="458.65" width="32.00" height="3.60" fill="#ea22ea" />
<line x1="420.63" y1="460.45" x2="427.87" y2="460.45" stroke="#0a0a3a" stroke-width="0.9" />
<rect x="423.00" y="458.95" width="3.48" height="3.00" fill="#0d1470" opacity="0.55"/>
<line x1="491.97" y1="460.45" x2="498.13" y2="460.45" stroke="#3a0a3a" stroke-width="0.8" />
<text x="400.2" y="462.35" font-size="5.25" font-style="italic" text-anchor="end" fill="#2a2a2a" style="stroke-width:0.1px" stroke="#2a2a2a" transform="matrix(1,0,0,1.06,0,-27.741)">Cd48</text>
<rect x="423.00" y="463.88" width="40.80" height="3.60" fill="#2536bd" />
<rect x="463.80" y="463.88" width="34.70" height="3.60" fill="#ea22ea" />
<line x1="420.30" y1="465.68" x2="428.20" y2="465.68" stroke="#0a0a3a" stroke-width="0.9" />
<rect x="423.00" y="464.18" width="5.09" height="3.00" fill="#0d1470" opacity="0.55"/>
<line x1="495.43" y1="465.68" x2="500.07" y2="465.68" stroke="#3a0a3a" stroke-width="0.8" />
<text x="400.2" y="467.57" font-size="5.25" font-style="italic" text-anchor="end" fill="#e8343c" style="stroke-width:0.1px" stroke="#e8343c" transform="matrix(1,0,0,1.06,0,-28.054)">Cd79a</text>
<rect x="423.00" y="469.10" width="40.80" height="3.60" fill="#2536bd" />
<rect x="463.80" y="469.10" width="37.40" height="3.60" fill="#ea22ea" />
<line x1="418.63" y1="470.90" x2="429.87" y2="470.90" stroke="#0a0a3a" stroke-width="0.9" />
<rect x="423.00" y="469.40" width="5.15" height="3.00" fill="#0d1470" opacity="0.55"/>
<line x1="498.90" y1="470.90" x2="502.00" y2="470.90" stroke="#3a0a3a" stroke-width="0.8" />
<text x="400.2" y="472.80" font-size="5.25" font-style="italic" text-anchor="end" fill="#2a2a2a" style="stroke-width:0.1px" stroke="#2a2a2a" transform="matrix(1,0,0,1.06,0,-28.368)">Dock2</text>
<rect x="423.60" y="474.32" width="40.20" height="3.60" fill="#2536bd" />
<rect x="463.80" y="474.32" width="34.70" height="3.60" fill="#ea22ea" />
<line x1="421.47" y1="476.12" x2="428.23" y2="476.12" stroke="#0a0a3a" stroke-width="0.9" />
<rect x="423.60" y="474.62" width="5.34" height="3.00" fill="#0d1470" opacity="0.55"/>
<line x1="495.26" y1="476.12" x2="500.24" y2="476.12" stroke="#3a0a3a" stroke-width="0.8" />
<text x="400.2" y="478.02" font-size="5.25" font-style="italic" text-anchor="end" fill="#2a2a2a" style="stroke-width:0.1px" stroke="#2a2a2a" transform="matrix(1,0,0,1.06,0,-28.681)">Ctss</text>
<rect x="424.40" y="479.55" width="39.40" height="3.60" fill="#2536bd" />
<rect x="463.80" y="479.55" width="38.70" height="3.60" fill="#ea22ea" />
<line x1="419.96" y1="481.35" x2="431.34" y2="481.35" stroke="#0a0a3a" stroke-width="0.9" />
<rect x="424.40" y="479.85" width="4.37" height="3.00" fill="#0d1470" opacity="0.55"/>
<line x1="500.05" y1="481.35" x2="503.45" y2="481.35" stroke="#3a0a3a" stroke-width="0.8" />
<text x="400.2" y="483.25" font-size="5.25" font-style="italic" text-anchor="end" fill="#2a2a2a" style="stroke-width:0.1px" stroke="#2a2a2a" transform="matrix(1,0,0,1.06,0,-28.995)">Cxcr4</text>
<rect x="424.40" y="484.77" width="39.40" height="3.60" fill="#2536bd" />
<rect x="463.80" y="484.77" width="37.40" height="3.60" fill="#ea22ea" />
<line x1="421.01" y1="486.57" x2="430.29" y2="486.57" stroke="#0a0a3a" stroke-width="0.9" />
<rect x="424.40" y="485.07" width="5.20" height="3.00" fill="#0d1470" opacity="0.55"/>
<line x1="498.36" y1="486.57" x2="502.54" y2="486.57" stroke="#3a0a3a" stroke-width="0.8" />
<text x="400.2" y="488.47" font-size="5.25" font-style="italic" text-anchor="end" fill="#2a2a2a" style="stroke-width:0.1px" stroke="#2a2a2a" transform="matrix(1,0,0,1.06,0,-29.308)">Dpp4</text>
<rect x="425.80" y="490.00" width="38.00" height="3.60" fill="#2536bd" />
<rect x="463.80" y="490.00" width="27.90" height="3.60" fill="#ea22ea" />
<line x1="424.04" y1="491.80" x2="430.06" y2="491.80" stroke="#0a0a3a" stroke-width="0.9" />
<rect x="425.80" y="490.30" width="4.37" height="3.00" fill="#0d1470" opacity="0.55"/>
<line x1="487.47" y1="491.80" x2="494.43" y2="491.80" stroke="#3a0a3a" stroke-width="0.8" />
<text x="400.2" y="493.70" font-size="5.25" font-style="italic" text-anchor="end" fill="#2a2a2a" style="stroke-width:0.1px" stroke="#2a2a2a" transform="matrix(1,0,0,1.06,0,-29.622)">Vpreb1</text>
<rect x="426.30" y="495.22" width="37.50" height="3.60" fill="#2536bd" />
<rect x="463.80" y="495.22" width="28.70" height="3.60" fill="#ea22ea" />
<line x1="422.53" y1="497.02" x2="432.57" y2="497.02" stroke="#0a0a3a" stroke-width="0.9" />
<rect x="426.30" y="495.52" width="4.00" height="3.00" fill="#0d1470" opacity="0.55"/>
<line x1="489.71" y1="497.02" x2="493.79" y2="497.02" stroke="#3a0a3a" stroke-width="0.8" />
<text x="400.2" y="498.92" font-size="5.25" font-style="italic" text-anchor="end" fill="#2a2a2a" style="stroke-width:0.1px" stroke="#2a2a2a" transform="matrix(1,0,0,1.06,0,-29.935)">Slamf6</text>
<rect x="426.30" y="500.45" width="37.50" height="3.60" fill="#2536bd" />
<rect x="463.80" y="500.45" width="33.20" height="3.60" fill="#ea22ea" />
<line x1="424.50" y1="502.25" x2="430.60" y2="502.25" stroke="#0a0a3a" stroke-width="0.9" />
<rect x="426.30" y="500.75" width="3.94" height="3.00" fill="#0d1470" opacity="0.55"/>
<line x1="493.11" y1="502.25" x2="499.39" y2="502.25" stroke="#3a0a3a" stroke-width="0.8" />
<text x="400.2" y="504.15" font-size="5.25" font-style="italic" text-anchor="end" fill="#2a2a2a" style="stroke-width:0.1px" stroke="#2a2a2a" transform="matrix(1,0,0,1.06,0,-30.249)">Btk</text>
<rect x="426.30" y="505.68" width="37.50" height="3.60" fill="#2536bd" />
<rect x="463.80" y="505.68" width="19.90" height="3.60" fill="#ea22ea" />
<line x1="424.27" y1="507.48" x2="430.83" y2="507.48" stroke="#0a0a3a" stroke-width="0.9" />
<rect x="426.30" y="505.98" width="5.00" height="3.00" fill="#0d1470" opacity="0.55"/>
<line x1="480.51" y1="507.48" x2="485.39" y2="507.48" stroke="#3a0a3a" stroke-width="0.8" />
<text x="400.2" y="509.38" font-size="5.25" font-style="italic" text-anchor="end" fill="#2a2a2a" style="stroke-width:0.1px" stroke="#2a2a2a" transform="matrix(1,0,0,1.06,0,-30.563)">Robo2</text>
<rect x="428.00" y="510.90" width="35.80" height="3.60" fill="#2536bd" />
<rect x="463.80" y="510.90" width="32.50" height="3.60" fill="#ea22ea" />
<line x1="425.93" y1="512.70" x2="432.57" y2="512.70" stroke="#0a0a3a" stroke-width="0.9" />
<rect x="428.00" y="511.20" width="5.40" height="3.00" fill="#0d1470" opacity="0.55"/>
<line x1="493.74" y1="512.70" x2="497.36" y2="512.70" stroke="#3a0a3a" stroke-width="0.8" />
<text x="400.2" y="514.60" font-size="5.25" font-style="italic" text-anchor="end" fill="#2a2a2a" style="stroke-width:0.1px" stroke="#2a2a2a" transform="matrix(1,0,0,1.06,0,-30.876)">Klhl6</text>
<rect x="428.50" y="516.12" width="35.30" height="3.60" fill="#2536bd" />
<rect x="463.80" y="516.12" width="32.50" height="3.60" fill="#ea22ea" />
<line x1="425.07" y1="517.92" x2="434.43" y2="517.92" stroke="#0a0a3a" stroke-width="0.9" />
<rect x="428.50" y="516.42" width="4.23" height="3.00" fill="#0d1470" opacity="0.55"/>
<line x1="493.16" y1="517.92" x2="497.94" y2="517.92" stroke="#3a0a3a" stroke-width="0.8" />
<text x="400.2" y="519.82" font-size="5.25" font-style="italic" text-anchor="end" fill="#2a2a2a" style="stroke-width:0.1px" stroke="#2a2a2a" transform="matrix(1,0,0,1.06,0,-31.189)">Bin1</text>
<rect x="429.80" y="521.35" width="34.00" height="3.60" fill="#2536bd" />
<rect x="463.80" y="521.35" width="23.90" height="3.60" fill="#ea22ea" />
<line x1="427.66" y1="523.15" x2="434.44" y2="523.15" stroke="#0a0a3a" stroke-width="0.9" />
<rect x="429.80" y="521.65" width="4.60" height="3.00" fill="#0d1470" opacity="0.55"/>
<line x1="483.46" y1="523.15" x2="490.44" y2="523.15" stroke="#3a0a3a" stroke-width="0.8" />
<text x="400.2" y="525.05" font-size="5.25" font-style="italic" text-anchor="end" fill="#2a2a2a" style="stroke-width:0.1px" stroke="#2a2a2a" transform="matrix(1,0,0,1.06,0,-31.503)">Tgfbr3</text>
<rect x="429.80" y="526.58" width="34.00" height="3.60" fill="#2536bd" />
<rect x="463.80" y="526.58" width="29.20" height="3.60" fill="#ea22ea" />
<line x1="425.89" y1="528.38" x2="436.21" y2="528.38" stroke="#0a0a3a" stroke-width="0.9" />
<rect x="429.80" y="526.88" width="4.73" height="3.00" fill="#0d1470" opacity="0.55"/>
<line x1="488.93" y1="528.38" x2="495.57" y2="528.38" stroke="#3a0a3a" stroke-width="0.8" />
<text x="400.2" y="530.27" font-size="5.25" font-style="italic" text-anchor="end" fill="#2a2a2a" style="stroke-width:0.1px" stroke="#2a2a2a" transform="matrix(1,0,0,1.06,0,-31.816)">Nlrc5</text>
<rect x="430.60" y="531.80" width="33.20" height="3.60" fill="#2536bd" />
<rect x="463.80" y="531.80" width="32.00" height="3.60" fill="#ea22ea" />
<line x1="428.47" y1="533.60" x2="435.23" y2="533.60" stroke="#0a0a3a" stroke-width="0.9" />
<rect x="430.60" y="532.10" width="4.97" height="3.00" fill="#0d1470" opacity="0.55"/>
<line x1="491.79" y1="533.60" x2="498.31" y2="533.60" stroke="#3a0a3a" stroke-width="0.8" />
<text x="400.2" y="535.50" font-size="5.25" font-style="italic" text-anchor="end" fill="#2a2a2a" style="stroke-width:0.1px" stroke="#2a2a2a" transform="matrix(1,0,0,1.06,0,-32.130)">Bank1</text>
<rect x="431.20" y="537.03" width="32.60" height="3.60" fill="#2536bd" />
<rect x="463.80" y="537.03" width="26.60" height="3.60" fill="#ea22ea" />
<line x1="427.77" y1="538.83" x2="437.13" y2="538.83" stroke="#0a0a3a" stroke-width="0.9" />
<rect x="431.20" y="537.33" width="4.44" height="3.00" fill="#0d1470" opacity="0.55"/>
<line x1="486.12" y1="538.83" x2="493.18" y2="538.83" stroke="#3a0a3a" stroke-width="0.8" />
<text x="400.2" y="540.73" font-size="5.25" font-style="italic" text-anchor="end" fill="#2a2a2a" style="stroke-width:0.1px" stroke="#2a2a2a" transform="matrix(1,0,0,1.06,0,-32.444)">Blnk</text>
<rect x="431.20" y="542.25" width="32.60" height="3.60" fill="#2536bd" />
<rect x="463.80" y="542.25" width="27.90" height="3.60" fill="#ea22ea" />
<line x1="429.06" y1="544.05" x2="435.84" y2="544.05" stroke="#0a0a3a" stroke-width="0.9" />
<rect x="431.20" y="542.55" width="4.82" height="3.00" fill="#0d1470" opacity="0.55"/>
<line x1="487.85" y1="544.05" x2="494.05" y2="544.05" stroke="#3a0a3a" stroke-width="0.8" />
<text x="400.2" y="545.95" font-size="5.25" font-style="italic" text-anchor="end" fill="#2a2a2a" style="stroke-width:0.1px" stroke="#2a2a2a" transform="matrix(1,0,0,1.06,0,-32.757)">Casp1</text>
<rect x="431.70" y="547.48" width="32.10" height="3.60" fill="#2536bd" />
<rect x="463.80" y="547.48" width="26.60" height="3.60" fill="#ea22ea" />
<line x1="429.21" y1="549.27" x2="436.69" y2="549.27" stroke="#0a0a3a" stroke-width="0.9" />
<rect x="431.70" y="547.77" width="4.95" height="3.00" fill="#0d1470" opacity="0.55"/>
<line x1="487.95" y1="549.27" x2="491.35" y2="549.27" stroke="#3a0a3a" stroke-width="0.8" />
<text x="400.2" y="551.17" font-size="5.25" font-style="italic" text-anchor="end" fill="#2a2a2a" style="stroke-width:0.1px" stroke="#2a2a2a" transform="matrix(1,0,0,1.06,0,-33.070)">Hcls1</text>
<rect x="432.50" y="552.70" width="31.30" height="3.60" fill="#2536bd" />
<rect x="463.80" y="552.70" width="28.70" height="3.60" fill="#ea22ea" />
<line x1="430.73" y1="554.50" x2="436.77" y2="554.50" stroke="#0a0a3a" stroke-width="0.9" />
<rect x="432.50" y="553.00" width="5.59" height="3.00" fill="#0d1470" opacity="0.55"/>
<line x1="489.71" y1="554.50" x2="493.79" y2="554.50" stroke="#3a0a3a" stroke-width="0.8" />
<text x="400.2" y="556.40" font-size="5.25" font-style="italic" text-anchor="end" fill="#2a2a2a" style="stroke-width:0.1px" stroke="#2a2a2a" transform="matrix(1,0,0,1.06,0,-33.384)">Igf2</text>
<rect x="433.30" y="557.93" width="30.50" height="3.60" fill="#2536bd" />
<rect x="463.80" y="557.93" width="34.70" height="3.60" fill="#ea22ea" />
<line x1="430.00" y1="559.73" x2="439.10" y2="559.73" stroke="#0a0a3a" stroke-width="0.9" />
<rect x="433.30" y="558.23" width="5.22" height="3.00" fill="#0d1470" opacity="0.55"/>
<line x1="495.29" y1="559.73" x2="500.21" y2="559.73" stroke="#3a0a3a" stroke-width="0.8" />
<text x="400.2" y="561.62" font-size="5.25" font-style="italic" text-anchor="end" fill="#2a2a2a" style="stroke-width:0.1px" stroke="#2a2a2a" transform="matrix(1,0,0,1.06,0,-33.697)">Lrrk2</text>
<rect x="433.80" y="563.15" width="30.00" height="3.60" fill="#2536bd" />
<rect x="463.80" y="563.15" width="15.80" height="3.60" fill="#ea22ea" />
<line x1="429.42" y1="564.95" x2="440.68" y2="564.95" stroke="#0a0a3a" stroke-width="0.9" />
<rect x="433.80" y="563.45" width="5.51" height="3.00" fill="#0d1470" opacity="0.55"/>
<line x1="476.15" y1="564.95" x2="481.55" y2="564.95" stroke="#3a0a3a" stroke-width="0.8" />
<text x="400.2" y="566.85" font-size="5.25" font-style="italic" text-anchor="end" fill="#2a2a2a" style="stroke-width:0.1px" stroke="#2a2a2a" transform="matrix(1,0,0,1.06,0,-34.011)">Pik3ap1</text>
<rect x="433.80" y="568.38" width="30.00" height="3.60" fill="#2536bd" />
<rect x="463.80" y="568.38" width="30.60" height="3.60" fill="#ea22ea" />
<line x1="429.70" y1="570.17" x2="440.40" y2="570.17" stroke="#0a0a3a" stroke-width="0.9" />
<rect x="433.80" y="568.67" width="4.97" height="3.00" fill="#0d1470" opacity="0.55"/>
<line x1="491.79" y1="570.17" x2="495.51" y2="570.17" stroke="#3a0a3a" stroke-width="0.8" />
<text x="400.2" y="572.07" font-size="5.25" font-style="italic" text-anchor="end" fill="#2a2a2a" style="stroke-width:0.1px" stroke="#2a2a2a" transform="matrix(1,0,0,1.06,0,-34.324)">Ciao2b</text>
<rect x="434.40" y="573.60" width="29.40" height="3.60" fill="#2536bd" />
<rect x="463.80" y="573.60" width="26.60" height="3.60" fill="#ea22ea" />
<line x1="430.17" y1="575.40" x2="441.13" y2="575.40" stroke="#0a0a3a" stroke-width="0.9" />
<rect x="434.40" y="573.90" width="6.30" height="3.00" fill="#0d1470" opacity="0.55"/>
<line x1="487.60" y1="575.40" x2="491.70" y2="575.40" stroke="#3a0a3a" stroke-width="0.8" />
<text x="400.2" y="577.30" font-size="5.25" font-style="italic" text-anchor="end" fill="#2a2a2a" style="stroke-width:0.1px" stroke="#2a2a2a" transform="matrix(1,0,0,1.06,0,-34.638)">Trim30a</text>
<rect x="435.20" y="578.83" width="28.60" height="3.60" fill="#2536bd" />
<rect x="463.80" y="578.83" width="41.40" height="3.60" fill="#ea22ea" />
<line x1="433.13" y1="580.62" x2="439.77" y2="580.62" stroke="#0a0a3a" stroke-width="0.9" />
<rect x="435.20" y="579.12" width="6.20" height="3.00" fill="#0d1470" opacity="0.55"/>
<line x1="501.02" y1="580.62" x2="507.88" y2="580.62" stroke="#3a0a3a" stroke-width="0.8" />
<text x="400.2" y="582.52" font-size="5.25" font-style="italic" text-anchor="end" fill="#2a2a2a" style="stroke-width:0.1px" stroke="#2a2a2a" transform="matrix(1,0,0,1.06,0,-34.951)">Cyfip2</text>
<rect x="435.20" y="584.05" width="28.60" height="3.60" fill="#2536bd" />
<rect x="463.80" y="584.05" width="18.50" height="3.60" fill="#ea22ea" />
<line x1="433.11" y1="585.85" x2="439.79" y2="585.85" stroke="#0a0a3a" stroke-width="0.9" />
<rect x="435.20" y="584.35" width="6.68" height="3.00" fill="#0d1470" opacity="0.55"/>
<line x1="478.24" y1="585.85" x2="484.86" y2="585.85" stroke="#3a0a3a" stroke-width="0.8" />
<text x="400.2" y="587.75" font-size="5.25" font-style="italic" text-anchor="end" fill="#2a2a2a" style="stroke-width:0.1px" stroke="#2a2a2a" transform="matrix(1,0,0,1.06,0,-35.265)">Btla</text>
<rect x="435.20" y="589.28" width="28.60" height="3.60" fill="#2536bd" />
<rect x="463.80" y="589.28" width="18.50" height="3.60" fill="#ea22ea" />
<line x1="431.89" y1="591.08" x2="441.01" y2="591.08" stroke="#0a0a3a" stroke-width="0.9" />
<rect x="435.20" y="589.58" width="5.68" height="3.00" fill="#0d1470" opacity="0.55"/>
<line x1="479.79" y1="591.08" x2="483.31" y2="591.08" stroke="#3a0a3a" stroke-width="0.8" />
<text x="400.2" y="592.98" font-size="5.25" font-style="italic" text-anchor="end" fill="#2a2a2a" style="stroke-width:0.1px" stroke="#2a2a2a" transform="matrix(1,0,0,1.06,0,-35.579)">Klrk1</text>
<rect x="436.50" y="594.50" width="27.30" height="3.60" fill="#2536bd" />
<rect x="463.80" y="594.50" width="32.00" height="3.60" fill="#ea22ea" />
<line x1="434.88" y1="596.30" x2="440.62" y2="596.30" stroke="#0a0a3a" stroke-width="0.9" />
<rect x="436.50" y="594.80" width="6.83" height="3.00" fill="#0d1470" opacity="0.55"/>
<line x1="493.02" y1="596.30" x2="497.08" y2="596.30" stroke="#3a0a3a" stroke-width="0.8" />
<text x="400.2" y="598.20" font-size="5.25" font-style="italic" text-anchor="end" fill="#2a2a2a" style="stroke-width:0.1px" stroke="#2a2a2a" transform="matrix(1,0,0,1.06,0,-35.892)">Sash3</text>
<rect x="436.50" y="599.73" width="27.30" height="3.60" fill="#2536bd" />
<rect x="463.80" y="599.73" width="29.20" height="3.60" fill="#ea22ea" />
<line x1="432.89" y1="601.52" x2="442.61" y2="601.52" stroke="#0a0a3a" stroke-width="0.9" />
<rect x="436.50" y="600.02" width="5.47" height="3.00" fill="#0d1470" opacity="0.55"/>
<line x1="489.05" y1="601.52" x2="495.45" y2="601.52" stroke="#3a0a3a" stroke-width="0.8" />
<text x="400.2" y="603.42" font-size="5.25" font-style="italic" text-anchor="end" fill="#2a2a2a" style="stroke-width:0.1px" stroke="#2a2a2a" transform="matrix(1,0,0,1.06,0,-36.205)">Il2rg</text>
<rect x="436.50" y="604.95" width="27.30" height="3.60" fill="#2536bd" />
<rect x="463.80" y="604.95" width="26.60" height="3.60" fill="#ea22ea" />
<line x1="433.21" y1="606.75" x2="442.29" y2="606.75" stroke="#0a0a3a" stroke-width="0.9" />
<rect x="436.50" y="605.25" width="5.61" height="3.00" fill="#0d1470" opacity="0.55"/>
<line x1="487.75" y1="606.75" x2="491.55" y2="606.75" stroke="#3a0a3a" stroke-width="0.8" />
<text x="400.2" y="608.65" font-size="5.25" font-style="italic" text-anchor="end" fill="#2a2a2a" style="stroke-width:0.1px" stroke="#2a2a2a" transform="matrix(1,0,0,1.06,0,-36.519)">Mzb1</text>
<rect x="437.90" y="610.18" width="25.90" height="3.60" fill="#2536bd" />
<rect x="463.80" y="610.18" width="21.20" height="3.60" fill="#ea22ea" />
<line x1="434.24" y1="611.98" x2="444.06" y2="611.98" stroke="#0a0a3a" stroke-width="0.9" />
<rect x="437.90" y="610.48" width="5.22" height="3.00" fill="#0d1470" opacity="0.55"/>
<line x1="482.24" y1="611.98" x2="486.26" y2="611.98" stroke="#3a0a3a" stroke-width="0.8" />
<text x="400.2" y="613.88" font-size="5.25" font-style="italic" text-anchor="end" fill="#2a2a2a" style="stroke-width:0.1px" stroke="#2a2a2a" transform="matrix(1,0,0,1.06,0,-36.833)">Il12a</text>
<rect x="437.90" y="615.40" width="25.90" height="3.60" fill="#2536bd" />
<rect x="463.80" y="615.40" width="34.70" height="3.60" fill="#ea22ea" />
<line x1="434.72" y1="617.20" x2="443.58" y2="617.20" stroke="#0a0a3a" stroke-width="0.9" />
<rect x="437.90" y="615.70" width="6.84" height="3.00" fill="#0d1470" opacity="0.55"/>
<line x1="494.97" y1="617.20" x2="500.53" y2="617.20" stroke="#3a0a3a" stroke-width="0.8" />
<text x="400.2" y="619.10" font-size="5.25" font-style="italic" text-anchor="end" fill="#2a2a2a" style="stroke-width:0.1px" stroke="#2a2a2a" transform="matrix(1,0,0,1.06,0,-37.146)">Srgn</text>
<rect x="439.20" y="620.62" width="24.60" height="3.60" fill="#2536bd" />
<rect x="463.80" y="620.62" width="23.90" height="3.60" fill="#ea22ea" />
<line x1="436.86" y1="622.42" x2="444.04" y2="622.42" stroke="#0a0a3a" stroke-width="0.9" />
<rect x="439.20" y="620.92" width="7.03" height="3.00" fill="#0d1470" opacity="0.55"/>
<line x1="484.99" y1="622.42" x2="488.91" y2="622.42" stroke="#3a0a3a" stroke-width="0.8" />
<text x="400.2" y="624.32" font-size="5.25" font-style="italic" text-anchor="end" fill="#2a2a2a" style="stroke-width:0.1px" stroke="#2a2a2a" transform="matrix(1,0,0,1.06,0,-37.459)">Syk</text>
<rect x="439.80" y="625.85" width="24.00" height="3.60" fill="#2536bd" />
<rect x="463.80" y="625.85" width="22.60" height="3.60" fill="#ea22ea" />
<line x1="438.25" y1="627.65" x2="443.85" y2="627.65" stroke="#0a0a3a" stroke-width="0.9" />
<rect x="439.80" y="626.15" width="5.80" height="3.00" fill="#0d1470" opacity="0.55"/>
<line x1="483.21" y1="627.65" x2="488.09" y2="627.65" stroke="#3a0a3a" stroke-width="0.8" />
<text x="400.2" y="629.55" font-size="5.25" font-style="italic" text-anchor="end" fill="#2a2a2a" style="stroke-width:0.1px" stroke="#2a2a2a" transform="matrix(1,0,0,1.06,0,-37.773)">Rftn1</text>
<rect x="440.60" y="631.08" width="23.20" height="3.60" fill="#2536bd" />
<rect x="463.80" y="631.08" width="29.20" height="3.60" fill="#ea22ea" />
<line x1="438.92" y1="632.88" x2="444.78" y2="632.88" stroke="#0a0a3a" stroke-width="0.9" />
<rect x="440.60" y="631.38" width="5.67" height="3.00" fill="#0d1470" opacity="0.55"/>
<line x1="489.96" y1="632.88" x2="494.54" y2="632.88" stroke="#3a0a3a" stroke-width="0.8" />
<text x="400.2" y="634.77" font-size="5.25" font-style="italic" text-anchor="end" fill="#2a2a2a" style="stroke-width:0.1px" stroke="#2a2a2a" transform="matrix(1,0,0,1.06,0,-38.086)">Panx1</text>
<rect x="443.30" y="636.30" width="20.50" height="3.60" fill="#2536bd" />
<rect x="463.80" y="636.30" width="27.90" height="3.60" fill="#ea22ea" />
<line x1="440.08" y1="638.10" x2="449.02" y2="638.10" stroke="#0a0a3a" stroke-width="0.9" />
<rect x="443.30" y="636.60" width="5.64" height="3.00" fill="#0d1470" opacity="0.55"/>
<line x1="488.68" y1="638.10" x2="493.22" y2="638.10" stroke="#3a0a3a" stroke-width="0.8" />
<text x="400.2" y="640.00" font-size="5.25" font-style="italic" text-anchor="end" fill="#2a2a2a" style="stroke-width:0.1px" stroke="#2a2a2a" transform="matrix(1,0,0,1.06,0,-38.400)">Ptk2b</text>
<rect x="443.30" y="641.53" width="20.50" height="3.60" fill="#2536bd" />
<rect x="463.80" y="641.53" width="21.20" height="3.60" fill="#ea22ea" />
<line x1="439.13" y1="643.33" x2="449.97" y2="643.33" stroke="#0a0a3a" stroke-width="0.9" />
<rect x="443.30" y="641.83" width="7.40" height="3.00" fill="#0d1470" opacity="0.55"/>
<line x1="481.39" y1="643.33" x2="487.11" y2="643.33" stroke="#3a0a3a" stroke-width="0.8" />
<text x="400.2" y="645.23" font-size="5.25" font-style="italic" text-anchor="end" fill="#2a2a2a" style="stroke-width:0.1px" stroke="#2a2a2a" transform="matrix(1,0,0,1.06,0,-38.714)">Sit1</text>
<rect x="443.80" y="646.75" width="20.00" height="3.60" fill="#2536bd" />
<rect x="463.80" y="646.75" width="15.80" height="3.60" fill="#ea22ea" />
<line x1="440.23" y1="648.55" x2="449.87" y2="648.55" stroke="#0a0a3a" stroke-width="0.9" />
<rect x="443.80" y="647.05" width="6.67" height="3.00" fill="#0d1470" opacity="0.55"/>
<line x1="477.02" y1="648.55" x2="480.68" y2="648.55" stroke="#3a0a3a" stroke-width="0.8" />
<text x="400.2" y="650.45" font-size="5.25" font-style="italic" text-anchor="end" fill="#2a2a2a" style="stroke-width:0.1px" stroke="#2a2a2a" transform="matrix(1,0,0,1.06,0,-39.027)">Cd28</text>
<rect x="443.80" y="651.98" width="20.00" height="3.60" fill="#2536bd" />
<rect x="463.80" y="651.98" width="18.50" height="3.60" fill="#ea22ea" />
<line x1="442.19" y1="653.77" x2="447.91" y2="653.77" stroke="#0a0a3a" stroke-width="0.9" />
<rect x="443.80" y="652.27" width="5.60" height="3.00" fill="#0d1470" opacity="0.55"/>
<line x1="478.18" y1="653.77" x2="484.92" y2="653.77" stroke="#3a0a3a" stroke-width="0.8" />
<text x="400.2" y="655.67" font-size="5.25" font-style="italic" text-anchor="end" fill="#2a2a2a" style="stroke-width:0.1px" stroke="#2a2a2a" transform="matrix(1,0,0,1.06,0,-39.340)">Fcrl1</text>
<line x1="401.60" y1="384.30" x2="520.00" y2="384.30" stroke="#555" stroke-width="0.8" />
<line x1="401.60" y1="384.30" x2="401.60" y2="656.20" stroke="#555" stroke-width="0.8" />
<line x1="401.60" y1="656.20" x2="520.00" y2="656.20" stroke="#555" stroke-width="0.8" />
<line x1="519.40" y1="384.30" x2="519.40" y2="656.20" stroke="#777" stroke-width="0.8" />
<line x1="405.56" y1="656.20" x2="405.56" y2="658.20" stroke="#555" stroke-width="0.6" />
<text x="405.56" y="663.90" font-size="7.5" text-anchor="middle" stroke="#111010" transform="matrix(1,0,0,1.06,0,-39.834)">8</text>
<line x1="420.12" y1="656.20" x2="420.12" y2="658.20" stroke="#555" stroke-width="0.6" />
<text x="420.12" y="663.90" font-size="7.5" text-anchor="middle" stroke="#111010" transform="matrix(1,0,0,1.06,0,-39.834)">6</text>
<line x1="434.68" y1="656.20" x2="434.68" y2="658.20" stroke="#555" stroke-width="0.6" />
<text x="434.68" y="663.90" font-size="7.5" text-anchor="middle" stroke="#111010" transform="matrix(1,0,0,1.06,0,-39.834)">4</text>
<line x1="449.24" y1="656.20" x2="449.24" y2="658.20" stroke="#555" stroke-width="0.6" />
<text x="449.24" y="663.90" font-size="7.5" text-anchor="middle" stroke="#111010" transform="matrix(1,0,0,1.06,0,-39.834)">2</text>
<line x1="463.80" y1="656.20" x2="463.80" y2="658.20" stroke="#555" stroke-width="0.6" />
<text x="463.80" y="663.90" font-size="7.5" text-anchor="middle" stroke="#111010" transform="matrix(1,0,0,1.06,0,-39.834)">0</text>
<line x1="478.36" y1="656.20" x2="478.36" y2="658.20" stroke="#555" stroke-width="0.6" />
<text x="478.36" y="663.90" font-size="7.5" text-anchor="middle" stroke="#111010" transform="matrix(1,0,0,1.06,0,-39.834)">2</text>
<line x1="492.92" y1="656.20" x2="492.92" y2="658.20" stroke="#555" stroke-width="0.6" />
<text x="492.92" y="663.90" font-size="7.5" text-anchor="middle" stroke="#111010" transform="matrix(1,0,0,1.06,0,-39.834)">4</text>
<line x1="507.48" y1="656.20" x2="507.48" y2="658.20" stroke="#555" stroke-width="0.6" />
<text x="507.48" y="663.90" font-size="7.5" text-anchor="middle" stroke="#111010" transform="matrix(1,0,0,1.06,0,-39.834)">6</text>
<text x="428.0" y="672.2" font-size="7.6" stroke="#111010" transform="matrix(1,0,0,1.06,0,-40.332)"><tspan font-style="italic">Rel.</tspan> log<tspan font-size="5.0" dy="2">2</tspan><tspan dy="-2"> expression</tspan></text>
</g>
</svg>
</body></html>
